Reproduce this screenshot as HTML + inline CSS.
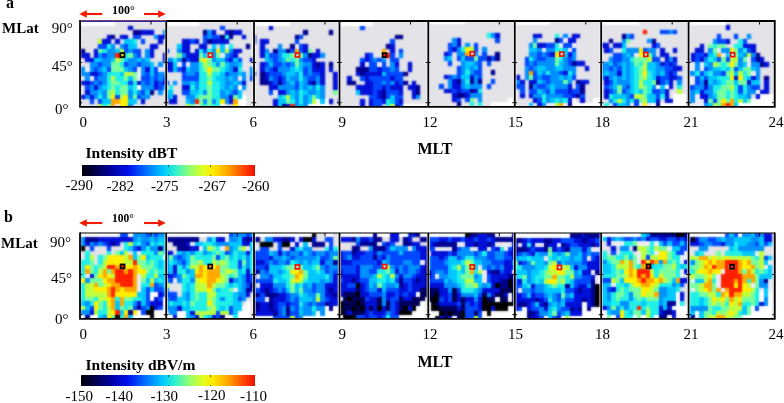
<!DOCTYPE html>
<html><head><meta charset="utf-8"><title>figure</title>
<style>
html,body{margin:0;padding:0;background:#fff;}
body{width:784px;height:403px;position:relative;overflow:hidden;font-family:"Liberation Serif","DejaVu Serif",serif;color:#000;}
.p{position:absolute;display:block;overflow:hidden}
.t{position:absolute;white-space:nowrap;line-height:1;font-size:15px}
.b{font-weight:bold}
.fr{position:absolute;border:1.4px solid #000;box-sizing:border-box}
.sep{position:absolute;width:1.4px;background:#000;border-left:0.9px solid #fff;border-right:0.9px solid #fff}
.tk{position:absolute;background:#000}
.cb{position:absolute;background:linear-gradient(90deg,#000008 0%,#00004c 8%,#0000a0 17%,#0010f0 27%,#0070ff 37%,#00c8ff 47%,#30f0d0 54%,#90ff70 62%,#e0ff20 70%,#ffe800 76%,#ffa000 85%,#ff4000 94%,#f01000 100%)}
</style></head><body>
<svg width="0" height="0" style="position:absolute"><defs><filter id="bl" x="-5%" y="-5%" width="110%" height="110%" color-interpolation-filters="sRGB"><feGaussianBlur stdDeviation="0.8"/></filter><filter id="bl2"><feGaussianBlur stdDeviation="0.3"/></filter></defs></svg>

<svg class="p" style="left:80.2px;top:21.3px" width="86.2" height="85.9" viewBox="0 0 86.2 85.9"><rect width="100%" height="100%" fill="#e3e3e8"/><g filter="url(#bl)" shape-rendering="crispEdges"><path fill="#ffffff" d="M1.0 0.0h34.4v4.6h-34.4zM56.9 64.4h4.3v4.6h-4.3z"/><path fill="#0010d8" d="M48.3 4.6h4.3v4.6h-4.3zM61.2 9.2h12.9v4.6h-12.9zM26.8 13.8h4.3v4.6h-4.3zM39.7 13.8h8.6v4.6h-8.6zM78.4 13.8h8.6v4.6h-8.6zM22.5 18.4h8.6v4.6h-8.6zM35.4 18.4h4.3v4.6h-4.3zM78.4 18.4h4.3v4.6h-4.3zM69.8 23.0h8.6v4.6h-8.6zM13.9 27.6h4.3v4.6h-4.3zM69.8 27.6h4.3v4.6h-4.3zM1.0 32.2h8.6v4.6h-8.6zM13.9 32.2h4.3v4.6h-4.3zM69.8 32.2h4.3v4.6h-4.3zM82.7 32.2h4.3v4.6h-4.3zM5.3 36.8h8.6v4.6h-8.6zM82.7 36.8h4.3v4.6h-4.3zM65.5 46.0h4.3v4.6h-4.3zM9.6 50.6h8.6v4.6h-8.6zM1.0 59.8h8.6v4.6h-8.6zM56.9 59.8h4.3v4.6h-4.3zM74.1 59.8h4.3v4.6h-4.3zM82.7 59.8h4.3v4.6h-4.3zM13.9 64.4h4.3v4.6h-4.3zM74.1 64.4h4.3v4.6h-4.3zM5.3 69.0h4.3v4.6h-4.3zM1.0 73.6h4.3v4.6h-4.3zM9.6 73.6h4.3v4.6h-4.3zM61.2 78.2h4.3v4.6h-4.3z"/><path fill="#000090" d="M52.6 9.2h8.6v4.6h-8.6zM31.1 13.8h4.3v4.6h-4.3zM1.0 27.6h4.3v4.6h-4.3zM69.8 69.0h4.3v4.6h-4.3z"/><path fill="#0090ff" d="M82.7 9.2h4.3v4.6h-4.3zM74.1 13.8h4.3v4.6h-4.3zM31.1 23.0h4.3v4.6h-4.3zM39.7 23.0h4.3v4.6h-4.3zM26.8 27.6h8.6v4.6h-8.6zM48.3 27.6h4.3v4.6h-4.3zM65.5 27.6h4.3v4.6h-4.3zM18.2 32.2h4.3v4.6h-4.3zM26.8 32.2h8.6v4.6h-8.6zM52.6 32.2h4.3v4.6h-4.3zM65.5 32.2h4.3v4.6h-4.3zM22.5 36.8h8.6v4.6h-8.6zM48.3 36.8h8.6v4.6h-8.6zM61.2 36.8h4.3v4.6h-4.3zM9.6 41.4h8.6v4.6h-8.6zM22.5 41.4h8.6v4.6h-8.6zM48.3 41.4h8.6v4.6h-8.6zM61.2 41.4h8.6v4.6h-8.6zM78.4 41.4h4.3v4.6h-4.3zM1.0 46.0h4.3v4.6h-4.3zM9.6 46.0h4.3v4.6h-4.3zM18.2 46.0h4.3v4.6h-4.3zM48.3 46.0h4.3v4.6h-4.3zM61.2 46.0h4.3v4.6h-4.3zM1.0 50.6h8.6v4.6h-8.6zM22.5 50.6h4.3v4.6h-4.3zM61.2 50.6h4.3v4.6h-4.3zM78.4 50.6h8.6v4.6h-8.6zM5.3 55.2h4.3v4.6h-4.3zM18.2 55.2h8.6v4.6h-8.6zM69.8 55.2h4.3v4.6h-4.3zM78.4 55.2h4.3v4.6h-4.3zM13.9 59.8h4.3v4.6h-4.3zM22.5 59.8h4.3v4.6h-4.3zM61.2 59.8h4.3v4.6h-4.3zM69.8 59.8h4.3v4.6h-4.3zM9.6 64.4h4.3v4.6h-4.3zM18.2 64.4h4.3v4.6h-4.3zM61.2 64.4h12.9v4.6h-12.9zM82.7 64.4h4.3v4.6h-4.3zM9.6 69.0h8.6v4.6h-8.6zM22.5 69.0h4.3v4.6h-4.3zM48.3 69.0h4.3v4.6h-4.3zM56.9 69.0h4.3v4.6h-4.3zM78.4 69.0h4.3v4.6h-4.3zM5.3 73.6h4.3v4.6h-4.3zM13.9 73.6h4.3v4.6h-4.3zM22.5 73.6h4.3v4.6h-4.3zM48.3 73.6h4.3v4.6h-4.3zM61.2 73.6h8.6v4.6h-8.6zM48.3 82.8h4.3v4.6h-4.3z"/><path fill="#0048ff" d="M52.6 13.8h8.6v4.6h-8.6zM61.2 18.4h4.3v4.6h-4.3zM18.2 23.0h8.6v4.6h-8.6zM44.0 23.0h4.3v4.6h-4.3zM44.0 27.6h4.3v4.6h-4.3zM52.6 27.6h8.6v4.6h-8.6zM22.5 32.2h4.3v4.6h-4.3zM56.9 32.2h4.3v4.6h-4.3zM18.2 41.4h4.3v4.6h-4.3zM44.0 41.4h4.3v4.6h-4.3zM56.9 41.4h4.3v4.6h-4.3zM13.9 46.0h4.3v4.6h-4.3zM26.8 46.0h4.3v4.6h-4.3zM52.6 46.0h4.3v4.6h-4.3zM74.1 46.0h4.3v4.6h-4.3zM18.2 50.6h4.3v4.6h-4.3zM65.5 50.6h4.3v4.6h-4.3zM74.1 50.6h4.3v4.6h-4.3zM13.9 55.2h4.3v4.6h-4.3zM61.2 55.2h8.6v4.6h-8.6zM74.1 55.2h4.3v4.6h-4.3zM82.7 55.2h4.3v4.6h-4.3zM9.6 59.8h4.3v4.6h-4.3zM18.2 59.8h4.3v4.6h-4.3zM48.3 59.8h4.3v4.6h-4.3zM65.5 59.8h4.3v4.6h-4.3zM78.4 59.8h4.3v4.6h-4.3zM5.3 64.4h4.3v4.6h-4.3zM78.4 64.4h4.3v4.6h-4.3zM61.2 69.0h4.3v4.6h-4.3zM35.4 73.6h4.3v4.6h-4.3zM56.9 73.6h4.3v4.6h-4.3zM9.6 78.2h4.3v4.6h-4.3zM18.2 78.2h4.3v4.6h-4.3z"/><path fill="#c0ff40" d="M18.2 18.4h4.3v4.6h-4.3zM39.7 27.6h4.3v4.6h-4.3zM35.4 36.8h4.3v4.6h-4.3zM44.0 50.6h8.6v4.6h-8.6zM31.1 55.2h4.3v4.6h-4.3zM31.1 69.0h4.3v4.6h-4.3zM39.7 73.6h4.3v4.6h-4.3zM18.2 82.8h4.3v4.6h-4.3z"/><path fill="#00c8ff" d="M44.0 18.4h8.6v4.6h-8.6zM48.3 23.0h8.6v4.6h-8.6zM35.4 27.6h4.3v4.6h-4.3zM13.9 36.8h8.6v4.6h-8.6zM31.1 36.8h4.3v4.6h-4.3zM44.0 36.8h4.3v4.6h-4.3zM56.9 36.8h4.3v4.6h-4.3zM65.5 36.8h4.3v4.6h-4.3zM69.8 41.4h4.3v4.6h-4.3zM22.5 46.0h4.3v4.6h-4.3zM44.0 46.0h4.3v4.6h-4.3zM69.8 46.0h4.3v4.6h-4.3zM39.7 50.6h4.3v4.6h-4.3zM69.8 50.6h4.3v4.6h-4.3zM48.3 55.2h4.3v4.6h-4.3zM22.5 64.4h4.3v4.6h-4.3zM48.3 64.4h4.3v4.6h-4.3zM18.2 69.0h4.3v4.6h-4.3zM65.5 69.0h4.3v4.6h-4.3zM22.5 78.2h8.6v4.6h-8.6zM48.3 78.2h8.6v4.6h-8.6z"/><path fill="#20f0e8" d="M52.6 18.4h4.3v4.6h-4.3zM26.8 23.0h4.3v4.6h-4.3zM22.5 27.6h4.3v4.6h-4.3zM44.0 32.2h4.3v4.6h-4.3zM39.7 41.4h4.3v4.6h-4.3zM26.8 50.6h12.9v4.6h-12.9zM26.8 55.2h4.3v4.6h-4.3zM35.4 55.2h8.6v4.6h-8.6zM26.8 59.8h4.3v4.6h-4.3zM39.7 59.8h8.6v4.6h-8.6zM52.6 59.8h4.3v4.6h-4.3zM26.8 64.4h4.3v4.6h-4.3zM35.4 64.4h4.3v4.6h-4.3zM52.6 64.4h4.3v4.6h-4.3zM35.4 69.0h4.3v4.6h-4.3zM52.6 69.0h4.3v4.6h-4.3zM18.2 73.6h4.3v4.6h-4.3zM22.5 82.8h4.3v4.6h-4.3z"/><path fill="#78ffa0" d="M18.2 27.6h4.3v4.6h-4.3zM48.3 32.2h4.3v4.6h-4.3zM39.7 36.8h4.3v4.6h-4.3zM31.1 41.4h8.6v4.6h-8.6zM31.1 46.0h12.9v4.6h-12.9zM52.6 50.6h4.3v4.6h-4.3zM44.0 55.2h4.3v4.6h-4.3zM52.6 55.2h4.3v4.6h-4.3zM31.1 59.8h8.6v4.6h-8.6zM31.1 64.4h4.3v4.6h-4.3zM39.7 64.4h8.6v4.6h-8.6zM26.8 69.0h4.3v4.6h-4.3zM39.7 69.0h8.6v4.6h-8.6zM26.8 73.6h4.3v4.6h-4.3zM52.6 73.6h4.3v4.6h-4.3zM26.8 82.8h4.3v4.6h-4.3z"/><path fill="#ff2000" d="M35.4 32.2h4.3v4.6h-4.3z"/><path fill="#000000" d="M39.7 32.2h4.3v4.6h-4.3z"/><path fill="#ececf6" d="M5.3 46.0h4.3v4.6h-4.3zM56.9 46.0h4.3v4.6h-4.3zM78.4 46.0h4.3v4.6h-4.3zM56.9 50.6h4.3v4.6h-4.3zM9.6 55.2h4.3v4.6h-4.3zM56.9 55.2h4.3v4.6h-4.3zM35.4 82.8h4.3v4.6h-4.3z"/><path fill="#fff000" d="M31.1 73.6h4.3v4.6h-4.3zM44.0 73.6h4.3v4.6h-4.3zM39.7 78.2h8.6v4.6h-8.6zM39.7 82.8h8.6v4.6h-8.6z"/><path fill="#ffa800" d="M31.1 78.2h8.6v4.6h-8.6zM31.1 82.8h4.3v4.6h-4.3z"/></g><g opacity="0.35" shape-rendering="crispEdges"><path fill="#ffffff" d="M1.0 0.0h34.4v4.6h-34.4zM56.9 64.4h4.3v4.6h-4.3z"/><path fill="#0010d8" d="M48.3 4.6h4.3v4.6h-4.3zM61.2 9.2h12.9v4.6h-12.9zM26.8 13.8h4.3v4.6h-4.3zM39.7 13.8h8.6v4.6h-8.6zM78.4 13.8h8.6v4.6h-8.6zM22.5 18.4h8.6v4.6h-8.6zM35.4 18.4h4.3v4.6h-4.3zM78.4 18.4h4.3v4.6h-4.3zM69.8 23.0h8.6v4.6h-8.6zM13.9 27.6h4.3v4.6h-4.3zM69.8 27.6h4.3v4.6h-4.3zM1.0 32.2h8.6v4.6h-8.6zM13.9 32.2h4.3v4.6h-4.3zM69.8 32.2h4.3v4.6h-4.3zM82.7 32.2h4.3v4.6h-4.3zM5.3 36.8h8.6v4.6h-8.6zM82.7 36.8h4.3v4.6h-4.3zM65.5 46.0h4.3v4.6h-4.3zM9.6 50.6h8.6v4.6h-8.6zM1.0 59.8h8.6v4.6h-8.6zM56.9 59.8h4.3v4.6h-4.3zM74.1 59.8h4.3v4.6h-4.3zM82.7 59.8h4.3v4.6h-4.3zM13.9 64.4h4.3v4.6h-4.3zM74.1 64.4h4.3v4.6h-4.3zM5.3 69.0h4.3v4.6h-4.3zM1.0 73.6h4.3v4.6h-4.3zM9.6 73.6h4.3v4.6h-4.3zM61.2 78.2h4.3v4.6h-4.3z"/><path fill="#000090" d="M52.6 9.2h8.6v4.6h-8.6zM31.1 13.8h4.3v4.6h-4.3zM1.0 27.6h4.3v4.6h-4.3zM69.8 69.0h4.3v4.6h-4.3z"/><path fill="#0090ff" d="M82.7 9.2h4.3v4.6h-4.3zM74.1 13.8h4.3v4.6h-4.3zM31.1 23.0h4.3v4.6h-4.3zM39.7 23.0h4.3v4.6h-4.3zM26.8 27.6h8.6v4.6h-8.6zM48.3 27.6h4.3v4.6h-4.3zM65.5 27.6h4.3v4.6h-4.3zM18.2 32.2h4.3v4.6h-4.3zM26.8 32.2h8.6v4.6h-8.6zM52.6 32.2h4.3v4.6h-4.3zM65.5 32.2h4.3v4.6h-4.3zM22.5 36.8h8.6v4.6h-8.6zM48.3 36.8h8.6v4.6h-8.6zM61.2 36.8h4.3v4.6h-4.3zM9.6 41.4h8.6v4.6h-8.6zM22.5 41.4h8.6v4.6h-8.6zM48.3 41.4h8.6v4.6h-8.6zM61.2 41.4h8.6v4.6h-8.6zM78.4 41.4h4.3v4.6h-4.3zM1.0 46.0h4.3v4.6h-4.3zM9.6 46.0h4.3v4.6h-4.3zM18.2 46.0h4.3v4.6h-4.3zM48.3 46.0h4.3v4.6h-4.3zM61.2 46.0h4.3v4.6h-4.3zM1.0 50.6h8.6v4.6h-8.6zM22.5 50.6h4.3v4.6h-4.3zM61.2 50.6h4.3v4.6h-4.3zM78.4 50.6h8.6v4.6h-8.6zM5.3 55.2h4.3v4.6h-4.3zM18.2 55.2h8.6v4.6h-8.6zM69.8 55.2h4.3v4.6h-4.3zM78.4 55.2h4.3v4.6h-4.3zM13.9 59.8h4.3v4.6h-4.3zM22.5 59.8h4.3v4.6h-4.3zM61.2 59.8h4.3v4.6h-4.3zM69.8 59.8h4.3v4.6h-4.3zM9.6 64.4h4.3v4.6h-4.3zM18.2 64.4h4.3v4.6h-4.3zM61.2 64.4h12.9v4.6h-12.9zM82.7 64.4h4.3v4.6h-4.3zM9.6 69.0h8.6v4.6h-8.6zM22.5 69.0h4.3v4.6h-4.3zM48.3 69.0h4.3v4.6h-4.3zM56.9 69.0h4.3v4.6h-4.3zM78.4 69.0h4.3v4.6h-4.3zM5.3 73.6h4.3v4.6h-4.3zM13.9 73.6h4.3v4.6h-4.3zM22.5 73.6h4.3v4.6h-4.3zM48.3 73.6h4.3v4.6h-4.3zM61.2 73.6h8.6v4.6h-8.6zM48.3 82.8h4.3v4.6h-4.3z"/><path fill="#0048ff" d="M52.6 13.8h8.6v4.6h-8.6zM61.2 18.4h4.3v4.6h-4.3zM18.2 23.0h8.6v4.6h-8.6zM44.0 23.0h4.3v4.6h-4.3zM44.0 27.6h4.3v4.6h-4.3zM52.6 27.6h8.6v4.6h-8.6zM22.5 32.2h4.3v4.6h-4.3zM56.9 32.2h4.3v4.6h-4.3zM18.2 41.4h4.3v4.6h-4.3zM44.0 41.4h4.3v4.6h-4.3zM56.9 41.4h4.3v4.6h-4.3zM13.9 46.0h4.3v4.6h-4.3zM26.8 46.0h4.3v4.6h-4.3zM52.6 46.0h4.3v4.6h-4.3zM74.1 46.0h4.3v4.6h-4.3zM18.2 50.6h4.3v4.6h-4.3zM65.5 50.6h4.3v4.6h-4.3zM74.1 50.6h4.3v4.6h-4.3zM13.9 55.2h4.3v4.6h-4.3zM61.2 55.2h8.6v4.6h-8.6zM74.1 55.2h4.3v4.6h-4.3zM82.7 55.2h4.3v4.6h-4.3zM9.6 59.8h4.3v4.6h-4.3zM18.2 59.8h4.3v4.6h-4.3zM48.3 59.8h4.3v4.6h-4.3zM65.5 59.8h4.3v4.6h-4.3zM78.4 59.8h4.3v4.6h-4.3zM5.3 64.4h4.3v4.6h-4.3zM78.4 64.4h4.3v4.6h-4.3zM61.2 69.0h4.3v4.6h-4.3zM35.4 73.6h4.3v4.6h-4.3zM56.9 73.6h4.3v4.6h-4.3zM9.6 78.2h4.3v4.6h-4.3zM18.2 78.2h4.3v4.6h-4.3z"/><path fill="#c0ff40" d="M18.2 18.4h4.3v4.6h-4.3zM39.7 27.6h4.3v4.6h-4.3zM35.4 36.8h4.3v4.6h-4.3zM44.0 50.6h8.6v4.6h-8.6zM31.1 55.2h4.3v4.6h-4.3zM31.1 69.0h4.3v4.6h-4.3zM39.7 73.6h4.3v4.6h-4.3zM18.2 82.8h4.3v4.6h-4.3z"/><path fill="#00c8ff" d="M44.0 18.4h8.6v4.6h-8.6zM48.3 23.0h8.6v4.6h-8.6zM35.4 27.6h4.3v4.6h-4.3zM13.9 36.8h8.6v4.6h-8.6zM31.1 36.8h4.3v4.6h-4.3zM44.0 36.8h4.3v4.6h-4.3zM56.9 36.8h4.3v4.6h-4.3zM65.5 36.8h4.3v4.6h-4.3zM69.8 41.4h4.3v4.6h-4.3zM22.5 46.0h4.3v4.6h-4.3zM44.0 46.0h4.3v4.6h-4.3zM69.8 46.0h4.3v4.6h-4.3zM39.7 50.6h4.3v4.6h-4.3zM69.8 50.6h4.3v4.6h-4.3zM48.3 55.2h4.3v4.6h-4.3zM22.5 64.4h4.3v4.6h-4.3zM48.3 64.4h4.3v4.6h-4.3zM18.2 69.0h4.3v4.6h-4.3zM65.5 69.0h4.3v4.6h-4.3zM22.5 78.2h8.6v4.6h-8.6zM48.3 78.2h8.6v4.6h-8.6z"/><path fill="#20f0e8" d="M52.6 18.4h4.3v4.6h-4.3zM26.8 23.0h4.3v4.6h-4.3zM22.5 27.6h4.3v4.6h-4.3zM44.0 32.2h4.3v4.6h-4.3zM39.7 41.4h4.3v4.6h-4.3zM26.8 50.6h12.9v4.6h-12.9zM26.8 55.2h4.3v4.6h-4.3zM35.4 55.2h8.6v4.6h-8.6zM26.8 59.8h4.3v4.6h-4.3zM39.7 59.8h8.6v4.6h-8.6zM52.6 59.8h4.3v4.6h-4.3zM26.8 64.4h4.3v4.6h-4.3zM35.4 64.4h4.3v4.6h-4.3zM52.6 64.4h4.3v4.6h-4.3zM35.4 69.0h4.3v4.6h-4.3zM52.6 69.0h4.3v4.6h-4.3zM18.2 73.6h4.3v4.6h-4.3zM22.5 82.8h4.3v4.6h-4.3z"/><path fill="#78ffa0" d="M18.2 27.6h4.3v4.6h-4.3zM48.3 32.2h4.3v4.6h-4.3zM39.7 36.8h4.3v4.6h-4.3zM31.1 41.4h8.6v4.6h-8.6zM31.1 46.0h12.9v4.6h-12.9zM52.6 50.6h4.3v4.6h-4.3zM44.0 55.2h4.3v4.6h-4.3zM52.6 55.2h4.3v4.6h-4.3zM31.1 59.8h8.6v4.6h-8.6zM31.1 64.4h4.3v4.6h-4.3zM39.7 64.4h8.6v4.6h-8.6zM26.8 69.0h4.3v4.6h-4.3zM39.7 69.0h8.6v4.6h-8.6zM26.8 73.6h4.3v4.6h-4.3zM52.6 73.6h4.3v4.6h-4.3zM26.8 82.8h4.3v4.6h-4.3z"/><path fill="#ff2000" d="M35.4 32.2h4.3v4.6h-4.3z"/><path fill="#000000" d="M39.7 32.2h4.3v4.6h-4.3z"/><path fill="#ececf6" d="M5.3 46.0h4.3v4.6h-4.3zM56.9 46.0h4.3v4.6h-4.3zM78.4 46.0h4.3v4.6h-4.3zM56.9 50.6h4.3v4.6h-4.3zM9.6 55.2h4.3v4.6h-4.3zM56.9 55.2h4.3v4.6h-4.3zM35.4 82.8h4.3v4.6h-4.3z"/><path fill="#fff000" d="M31.1 73.6h4.3v4.6h-4.3zM44.0 73.6h4.3v4.6h-4.3zM39.7 78.2h8.6v4.6h-8.6zM39.7 82.8h8.6v4.6h-8.6z"/><path fill="#ffa800" d="M31.1 78.2h8.6v4.6h-8.6zM31.1 82.8h4.3v4.6h-4.3z"/></g><g><rect x="40.45" y="32.10" width="4.00" height="4.00" fill="#e8e020" stroke="#000" stroke-width="1.7"/></g></svg>
<svg class="p" style="left:166.4px;top:21.3px" width="87.8" height="85.9" viewBox="0 0 87.8 85.9"><rect width="100%" height="100%" fill="#e3e3e8"/><g filter="url(#bl)" shape-rendering="crispEdges"><path fill="#ffffff" d="M-1.5 0.0h34.4v4.6h-34.4zM71.6 64.4h4.3v4.6h-4.3zM75.9 73.6h4.3v4.6h-4.3zM71.6 78.2h8.6v4.6h-8.6zM54.4 82.8h4.3v4.6h-4.3zM71.6 82.8h8.6v4.6h-8.6z"/><path fill="#0048ff" d="M54.4 4.6h4.3v4.6h-4.3zM37.2 13.8h4.3v4.6h-4.3zM45.8 13.8h8.6v4.6h-8.6zM24.3 18.4h4.3v4.6h-4.3zM37.2 18.4h4.3v4.6h-4.3zM-1.5 27.6h4.3v4.6h-4.3zM37.2 27.6h4.3v4.6h-4.3zM63.0 32.2h4.3v4.6h-4.3zM20.0 36.8h4.3v4.6h-4.3zM58.7 36.8h4.3v4.6h-4.3zM71.6 36.8h4.3v4.6h-4.3zM15.7 41.4h4.3v4.6h-4.3zM11.4 46.0h4.3v4.6h-4.3zM15.7 50.6h4.3v4.6h-4.3zM28.6 50.6h4.3v4.6h-4.3zM58.7 50.6h4.3v4.6h-4.3zM15.7 55.2h17.2v4.6h-17.2zM84.5 55.2h4.3v4.6h-4.3zM-1.5 59.8h4.3v4.6h-4.3zM15.7 69.0h8.6v4.6h-8.6zM67.3 69.0h4.3v4.6h-4.3z"/><path fill="#000090" d="M37.2 9.2h4.3v4.6h-4.3zM63.0 9.2h4.3v4.6h-4.3zM54.4 13.8h4.3v4.6h-4.3zM63.0 13.8h4.3v4.6h-4.3zM41.5 18.4h4.3v4.6h-4.3zM80.2 23.0h4.3v4.6h-4.3zM15.7 36.8h4.3v4.6h-4.3z"/><path fill="#0090ff" d="M41.5 9.2h4.3v4.6h-4.3zM41.5 13.8h4.3v4.6h-4.3zM11.4 27.6h4.3v4.6h-4.3zM45.8 27.6h4.3v4.6h-4.3zM63.0 27.6h4.3v4.6h-4.3zM15.7 32.2h4.3v4.6h-4.3zM45.8 32.2h4.3v4.6h-4.3zM58.7 32.2h4.3v4.6h-4.3zM-1.5 36.8h8.6v4.6h-8.6zM11.4 36.8h4.3v4.6h-4.3zM45.8 36.8h4.3v4.6h-4.3zM24.3 41.4h8.6v4.6h-8.6zM50.1 41.4h4.3v4.6h-4.3zM63.0 41.4h8.6v4.6h-8.6zM24.3 46.0h8.6v4.6h-8.6zM63.0 46.0h4.3v4.6h-4.3zM84.5 46.0h4.3v4.6h-4.3zM20.0 50.6h8.6v4.6h-8.6zM63.0 50.6h8.6v4.6h-8.6zM75.9 50.6h4.3v4.6h-4.3zM84.5 50.6h4.3v4.6h-4.3zM58.7 55.2h4.3v4.6h-4.3zM67.3 55.2h4.3v4.6h-4.3zM75.9 55.2h4.3v4.6h-4.3zM7.1 59.8h4.3v4.6h-4.3zM15.7 59.8h8.6v4.6h-8.6zM28.6 59.8h4.3v4.6h-4.3zM58.7 59.8h8.6v4.6h-8.6zM71.6 59.8h4.3v4.6h-4.3zM28.6 64.4h4.3v4.6h-4.3zM58.7 64.4h4.3v4.6h-4.3zM67.3 64.4h4.3v4.6h-4.3zM75.9 64.4h4.3v4.6h-4.3zM37.2 69.0h4.3v4.6h-4.3zM54.4 69.0h4.3v4.6h-4.3zM63.0 69.0h4.3v4.6h-4.3zM-1.5 73.6h4.3v4.6h-4.3zM20.0 73.6h8.6v4.6h-8.6zM54.4 73.6h8.6v4.6h-8.6zM24.3 78.2h4.3v4.6h-4.3zM37.2 78.2h4.3v4.6h-4.3zM45.8 78.2h4.3v4.6h-4.3zM58.7 78.2h4.3v4.6h-4.3z"/><path fill="#0010d8" d="M45.8 9.2h4.3v4.6h-4.3zM58.7 9.2h4.3v4.6h-4.3zM67.3 9.2h8.6v4.6h-8.6zM75.9 13.8h4.3v4.6h-4.3zM15.7 18.4h8.6v4.6h-8.6zM28.6 18.4h4.3v4.6h-4.3zM45.8 18.4h17.2v4.6h-17.2zM15.7 23.0h8.6v4.6h-8.6zM32.9 23.0h8.6v4.6h-8.6zM15.7 27.6h8.6v4.6h-8.6zM28.6 27.6h4.3v4.6h-4.3zM67.3 27.6h8.6v4.6h-8.6zM20.0 32.2h12.9v4.6h-12.9zM67.3 32.2h4.3v4.6h-4.3zM24.3 36.8h8.6v4.6h-8.6zM63.0 36.8h4.3v4.6h-4.3zM84.5 36.8h4.3v4.6h-4.3zM-1.5 41.4h8.6v4.6h-8.6zM-1.5 46.0h8.6v4.6h-8.6zM15.7 46.0h4.3v4.6h-4.3zM67.3 46.0h4.3v4.6h-4.3zM75.9 59.8h4.3v4.6h-4.3zM15.7 64.4h8.6v4.6h-8.6zM7.1 73.6h4.3v4.6h-4.3zM63.0 73.6h4.3v4.6h-4.3zM2.8 78.2h8.6v4.6h-8.6zM63.0 78.2h4.3v4.6h-4.3z"/><path fill="#20f0e8" d="M58.7 13.8h4.3v4.6h-4.3zM63.0 23.0h4.3v4.6h-4.3zM32.9 27.6h4.3v4.6h-4.3zM41.5 27.6h4.3v4.6h-4.3zM7.1 36.8h4.3v4.6h-4.3zM32.9 41.4h4.3v4.6h-4.3zM45.8 41.4h4.3v4.6h-4.3zM32.9 46.0h4.3v4.6h-4.3zM54.4 46.0h4.3v4.6h-4.3zM71.6 46.0h4.3v4.6h-4.3zM32.9 50.6h8.6v4.6h-8.6zM45.8 50.6h8.6v4.6h-8.6zM32.9 55.2h8.6v4.6h-8.6zM45.8 55.2h4.3v4.6h-4.3zM32.9 59.8h8.6v4.6h-8.6zM45.8 59.8h8.6v4.6h-8.6zM2.8 64.4h4.3v4.6h-4.3zM24.3 64.4h4.3v4.6h-4.3zM32.9 64.4h8.6v4.6h-8.6zM45.8 64.4h8.6v4.6h-8.6zM32.9 69.0h4.3v4.6h-4.3zM45.8 69.0h8.6v4.6h-8.6zM28.6 73.6h4.3v4.6h-4.3zM45.8 73.6h8.6v4.6h-8.6zM50.1 78.2h4.3v4.6h-4.3zM37.2 82.8h4.3v4.6h-4.3zM45.8 82.8h8.6v4.6h-8.6z"/><path fill="#00c8ff" d="M11.4 23.0h4.3v4.6h-4.3zM45.8 23.0h4.3v4.6h-4.3zM54.4 23.0h4.3v4.6h-4.3zM54.4 27.6h4.3v4.6h-4.3zM37.2 32.2h4.3v4.6h-4.3zM50.1 36.8h8.6v4.6h-8.6zM67.3 36.8h4.3v4.6h-4.3zM7.1 41.4h4.3v4.6h-4.3zM58.7 41.4h4.3v4.6h-4.3zM71.6 41.4h4.3v4.6h-4.3zM7.1 46.0h4.3v4.6h-4.3zM20.0 46.0h4.3v4.6h-4.3zM58.7 46.0h4.3v4.6h-4.3zM54.4 50.6h4.3v4.6h-4.3zM71.6 50.6h4.3v4.6h-4.3zM50.1 55.2h8.6v4.6h-8.6zM63.0 55.2h4.3v4.6h-4.3zM24.3 59.8h4.3v4.6h-4.3zM54.4 59.8h4.3v4.6h-4.3zM67.3 59.8h4.3v4.6h-4.3zM54.4 64.4h4.3v4.6h-4.3zM63.0 64.4h4.3v4.6h-4.3zM-1.5 69.0h8.6v4.6h-8.6zM24.3 69.0h8.6v4.6h-8.6zM58.7 69.0h4.3v4.6h-4.3zM71.6 69.0h4.3v4.6h-4.3zM2.8 73.6h4.3v4.6h-4.3zM71.6 73.6h4.3v4.6h-4.3zM20.0 78.2h4.3v4.6h-4.3z"/><path fill="#ececf6" d="M58.7 23.0h4.3v4.6h-4.3zM54.4 32.2h4.3v4.6h-4.3zM11.4 41.4h4.3v4.6h-4.3zM20.0 41.4h4.3v4.6h-4.3zM71.6 55.2h4.3v4.6h-4.3zM28.6 82.8h4.3v4.6h-4.3z"/><path fill="#fff000" d="M50.1 27.6h4.3v4.6h-4.3zM37.2 36.8h4.3v4.6h-4.3zM41.5 46.0h4.3v4.6h-4.3zM54.4 78.2h4.3v4.6h-4.3zM67.3 82.8h4.3v4.6h-4.3z"/><path fill="#c0ff40" d="M58.7 27.6h4.3v4.6h-4.3zM32.9 36.8h4.3v4.6h-4.3zM37.2 41.4h4.3v4.6h-4.3zM41.5 50.6h4.3v4.6h-4.3zM41.5 59.8h4.3v4.6h-4.3zM20.0 82.8h4.3v4.6h-4.3z"/><path fill="#78ffa0" d="M11.4 32.2h4.3v4.6h-4.3zM32.9 32.2h4.3v4.6h-4.3zM50.1 32.2h4.3v4.6h-4.3zM41.5 36.8h4.3v4.6h-4.3zM41.5 41.4h4.3v4.6h-4.3zM54.4 41.4h4.3v4.6h-4.3zM37.2 46.0h4.3v4.6h-4.3zM45.8 46.0h8.6v4.6h-8.6zM41.5 55.2h4.3v4.6h-4.3zM41.5 64.4h4.3v4.6h-4.3zM41.5 69.0h4.3v4.6h-4.3zM32.9 73.6h12.9v4.6h-12.9zM67.3 73.6h4.3v4.6h-4.3zM32.9 78.2h4.3v4.6h-4.3zM41.5 78.2h4.3v4.6h-4.3zM24.3 82.8h4.3v4.6h-4.3zM32.9 82.8h4.3v4.6h-4.3zM41.5 82.8h4.3v4.6h-4.3z"/><path fill="#ff2000" d="M28.6 78.2h4.3v4.6h-4.3z"/><path fill="#ffa800" d="M67.3 78.2h4.3v4.6h-4.3z"/></g><g opacity="0.35" shape-rendering="crispEdges"><path fill="#ffffff" d="M-1.5 0.0h34.4v4.6h-34.4zM71.6 64.4h4.3v4.6h-4.3zM75.9 73.6h4.3v4.6h-4.3zM71.6 78.2h8.6v4.6h-8.6zM54.4 82.8h4.3v4.6h-4.3zM71.6 82.8h8.6v4.6h-8.6z"/><path fill="#0048ff" d="M54.4 4.6h4.3v4.6h-4.3zM37.2 13.8h4.3v4.6h-4.3zM45.8 13.8h8.6v4.6h-8.6zM24.3 18.4h4.3v4.6h-4.3zM37.2 18.4h4.3v4.6h-4.3zM-1.5 27.6h4.3v4.6h-4.3zM37.2 27.6h4.3v4.6h-4.3zM63.0 32.2h4.3v4.6h-4.3zM20.0 36.8h4.3v4.6h-4.3zM58.7 36.8h4.3v4.6h-4.3zM71.6 36.8h4.3v4.6h-4.3zM15.7 41.4h4.3v4.6h-4.3zM11.4 46.0h4.3v4.6h-4.3zM15.7 50.6h4.3v4.6h-4.3zM28.6 50.6h4.3v4.6h-4.3zM58.7 50.6h4.3v4.6h-4.3zM15.7 55.2h17.2v4.6h-17.2zM84.5 55.2h4.3v4.6h-4.3zM-1.5 59.8h4.3v4.6h-4.3zM15.7 69.0h8.6v4.6h-8.6zM67.3 69.0h4.3v4.6h-4.3z"/><path fill="#000090" d="M37.2 9.2h4.3v4.6h-4.3zM63.0 9.2h4.3v4.6h-4.3zM54.4 13.8h4.3v4.6h-4.3zM63.0 13.8h4.3v4.6h-4.3zM41.5 18.4h4.3v4.6h-4.3zM80.2 23.0h4.3v4.6h-4.3zM15.7 36.8h4.3v4.6h-4.3z"/><path fill="#0090ff" d="M41.5 9.2h4.3v4.6h-4.3zM41.5 13.8h4.3v4.6h-4.3zM11.4 27.6h4.3v4.6h-4.3zM45.8 27.6h4.3v4.6h-4.3zM63.0 27.6h4.3v4.6h-4.3zM15.7 32.2h4.3v4.6h-4.3zM45.8 32.2h4.3v4.6h-4.3zM58.7 32.2h4.3v4.6h-4.3zM-1.5 36.8h8.6v4.6h-8.6zM11.4 36.8h4.3v4.6h-4.3zM45.8 36.8h4.3v4.6h-4.3zM24.3 41.4h8.6v4.6h-8.6zM50.1 41.4h4.3v4.6h-4.3zM63.0 41.4h8.6v4.6h-8.6zM24.3 46.0h8.6v4.6h-8.6zM63.0 46.0h4.3v4.6h-4.3zM84.5 46.0h4.3v4.6h-4.3zM20.0 50.6h8.6v4.6h-8.6zM63.0 50.6h8.6v4.6h-8.6zM75.9 50.6h4.3v4.6h-4.3zM84.5 50.6h4.3v4.6h-4.3zM58.7 55.2h4.3v4.6h-4.3zM67.3 55.2h4.3v4.6h-4.3zM75.9 55.2h4.3v4.6h-4.3zM7.1 59.8h4.3v4.6h-4.3zM15.7 59.8h8.6v4.6h-8.6zM28.6 59.8h4.3v4.6h-4.3zM58.7 59.8h8.6v4.6h-8.6zM71.6 59.8h4.3v4.6h-4.3zM28.6 64.4h4.3v4.6h-4.3zM58.7 64.4h4.3v4.6h-4.3zM67.3 64.4h4.3v4.6h-4.3zM75.9 64.4h4.3v4.6h-4.3zM37.2 69.0h4.3v4.6h-4.3zM54.4 69.0h4.3v4.6h-4.3zM63.0 69.0h4.3v4.6h-4.3zM-1.5 73.6h4.3v4.6h-4.3zM20.0 73.6h8.6v4.6h-8.6zM54.4 73.6h8.6v4.6h-8.6zM24.3 78.2h4.3v4.6h-4.3zM37.2 78.2h4.3v4.6h-4.3zM45.8 78.2h4.3v4.6h-4.3zM58.7 78.2h4.3v4.6h-4.3z"/><path fill="#0010d8" d="M45.8 9.2h4.3v4.6h-4.3zM58.7 9.2h4.3v4.6h-4.3zM67.3 9.2h8.6v4.6h-8.6zM75.9 13.8h4.3v4.6h-4.3zM15.7 18.4h8.6v4.6h-8.6zM28.6 18.4h4.3v4.6h-4.3zM45.8 18.4h17.2v4.6h-17.2zM15.7 23.0h8.6v4.6h-8.6zM32.9 23.0h8.6v4.6h-8.6zM15.7 27.6h8.6v4.6h-8.6zM28.6 27.6h4.3v4.6h-4.3zM67.3 27.6h8.6v4.6h-8.6zM20.0 32.2h12.9v4.6h-12.9zM67.3 32.2h4.3v4.6h-4.3zM24.3 36.8h8.6v4.6h-8.6zM63.0 36.8h4.3v4.6h-4.3zM84.5 36.8h4.3v4.6h-4.3zM-1.5 41.4h8.6v4.6h-8.6zM-1.5 46.0h8.6v4.6h-8.6zM15.7 46.0h4.3v4.6h-4.3zM67.3 46.0h4.3v4.6h-4.3zM75.9 59.8h4.3v4.6h-4.3zM15.7 64.4h8.6v4.6h-8.6zM7.1 73.6h4.3v4.6h-4.3zM63.0 73.6h4.3v4.6h-4.3zM2.8 78.2h8.6v4.6h-8.6zM63.0 78.2h4.3v4.6h-4.3z"/><path fill="#20f0e8" d="M58.7 13.8h4.3v4.6h-4.3zM63.0 23.0h4.3v4.6h-4.3zM32.9 27.6h4.3v4.6h-4.3zM41.5 27.6h4.3v4.6h-4.3zM7.1 36.8h4.3v4.6h-4.3zM32.9 41.4h4.3v4.6h-4.3zM45.8 41.4h4.3v4.6h-4.3zM32.9 46.0h4.3v4.6h-4.3zM54.4 46.0h4.3v4.6h-4.3zM71.6 46.0h4.3v4.6h-4.3zM32.9 50.6h8.6v4.6h-8.6zM45.8 50.6h8.6v4.6h-8.6zM32.9 55.2h8.6v4.6h-8.6zM45.8 55.2h4.3v4.6h-4.3zM32.9 59.8h8.6v4.6h-8.6zM45.8 59.8h8.6v4.6h-8.6zM2.8 64.4h4.3v4.6h-4.3zM24.3 64.4h4.3v4.6h-4.3zM32.9 64.4h8.6v4.6h-8.6zM45.8 64.4h8.6v4.6h-8.6zM32.9 69.0h4.3v4.6h-4.3zM45.8 69.0h8.6v4.6h-8.6zM28.6 73.6h4.3v4.6h-4.3zM45.8 73.6h8.6v4.6h-8.6zM50.1 78.2h4.3v4.6h-4.3zM37.2 82.8h4.3v4.6h-4.3zM45.8 82.8h8.6v4.6h-8.6z"/><path fill="#00c8ff" d="M11.4 23.0h4.3v4.6h-4.3zM45.8 23.0h4.3v4.6h-4.3zM54.4 23.0h4.3v4.6h-4.3zM54.4 27.6h4.3v4.6h-4.3zM37.2 32.2h4.3v4.6h-4.3zM50.1 36.8h8.6v4.6h-8.6zM67.3 36.8h4.3v4.6h-4.3zM7.1 41.4h4.3v4.6h-4.3zM58.7 41.4h4.3v4.6h-4.3zM71.6 41.4h4.3v4.6h-4.3zM7.1 46.0h4.3v4.6h-4.3zM20.0 46.0h4.3v4.6h-4.3zM58.7 46.0h4.3v4.6h-4.3zM54.4 50.6h4.3v4.6h-4.3zM71.6 50.6h4.3v4.6h-4.3zM50.1 55.2h8.6v4.6h-8.6zM63.0 55.2h4.3v4.6h-4.3zM24.3 59.8h4.3v4.6h-4.3zM54.4 59.8h4.3v4.6h-4.3zM67.3 59.8h4.3v4.6h-4.3zM54.4 64.4h4.3v4.6h-4.3zM63.0 64.4h4.3v4.6h-4.3zM-1.5 69.0h8.6v4.6h-8.6zM24.3 69.0h8.6v4.6h-8.6zM58.7 69.0h4.3v4.6h-4.3zM71.6 69.0h4.3v4.6h-4.3zM2.8 73.6h4.3v4.6h-4.3zM71.6 73.6h4.3v4.6h-4.3zM20.0 78.2h4.3v4.6h-4.3z"/><path fill="#ececf6" d="M58.7 23.0h4.3v4.6h-4.3zM54.4 32.2h4.3v4.6h-4.3zM11.4 41.4h4.3v4.6h-4.3zM20.0 41.4h4.3v4.6h-4.3zM71.6 55.2h4.3v4.6h-4.3zM28.6 82.8h4.3v4.6h-4.3z"/><path fill="#fff000" d="M50.1 27.6h4.3v4.6h-4.3zM37.2 36.8h4.3v4.6h-4.3zM41.5 46.0h4.3v4.6h-4.3zM54.4 78.2h4.3v4.6h-4.3zM67.3 82.8h4.3v4.6h-4.3z"/><path fill="#c0ff40" d="M58.7 27.6h4.3v4.6h-4.3zM32.9 36.8h4.3v4.6h-4.3zM37.2 41.4h4.3v4.6h-4.3zM41.5 50.6h4.3v4.6h-4.3zM41.5 59.8h4.3v4.6h-4.3zM20.0 82.8h4.3v4.6h-4.3z"/><path fill="#78ffa0" d="M11.4 32.2h4.3v4.6h-4.3zM32.9 32.2h4.3v4.6h-4.3zM50.1 32.2h4.3v4.6h-4.3zM41.5 36.8h4.3v4.6h-4.3zM41.5 41.4h4.3v4.6h-4.3zM54.4 41.4h4.3v4.6h-4.3zM37.2 46.0h4.3v4.6h-4.3zM45.8 46.0h8.6v4.6h-8.6zM41.5 55.2h4.3v4.6h-4.3zM41.5 64.4h4.3v4.6h-4.3zM41.5 69.0h4.3v4.6h-4.3zM32.9 73.6h12.9v4.6h-12.9zM67.3 73.6h4.3v4.6h-4.3zM32.9 78.2h4.3v4.6h-4.3zM41.5 78.2h4.3v4.6h-4.3zM24.3 82.8h4.3v4.6h-4.3zM32.9 82.8h4.3v4.6h-4.3zM41.5 82.8h4.3v4.6h-4.3z"/><path fill="#ff2000" d="M28.6 78.2h4.3v4.6h-4.3z"/><path fill="#ffa800" d="M67.3 78.2h4.3v4.6h-4.3z"/></g><g><rect x="42.25" y="32.10" width="4.00" height="4.00" fill="#b0e8e0" stroke="#f01000" stroke-width="1.7"/></g></svg>
<svg class="p" style="left:254.2px;top:21.3px" width="85.5" height="85.9" viewBox="0 0 85.5 85.9"><rect width="100%" height="100%" fill="#e3e3e8"/><g filter="url(#bl)" shape-rendering="crispEdges"><path fill="#ffffff" d="M-2.3 0.0h38.7v4.6h-38.7zM62.2 78.2h4.3v4.6h-4.3zM70.8 78.2h4.3v4.6h-4.3zM53.6 82.8h21.5v4.6h-21.5z"/><path fill="#0010d8" d="M14.9 4.6h4.3v4.6h-4.3zM-2.3 13.8h4.3v4.6h-4.3zM-2.3 18.4h4.3v4.6h-4.3zM6.3 18.4h8.6v4.6h-8.6zM6.3 23.0h4.3v4.6h-4.3zM49.3 23.0h4.3v4.6h-4.3zM6.3 27.6h4.3v4.6h-4.3zM49.3 27.6h4.3v4.6h-4.3zM62.2 27.6h4.3v4.6h-4.3zM6.3 32.2h4.3v4.6h-4.3zM57.9 32.2h8.6v4.6h-8.6zM57.9 36.8h4.3v4.6h-4.3zM6.3 41.4h4.3v4.6h-4.3zM57.9 41.4h4.3v4.6h-4.3zM66.5 41.4h4.3v4.6h-4.3zM6.3 46.0h4.3v4.6h-4.3zM19.2 46.0h4.3v4.6h-4.3zM57.9 46.0h12.9v4.6h-12.9zM75.1 46.0h4.3v4.6h-4.3zM-2.3 50.6h4.3v4.6h-4.3zM10.6 50.6h4.3v4.6h-4.3zM66.5 50.6h4.3v4.6h-4.3zM79.4 50.6h4.3v4.6h-4.3zM10.6 55.2h4.3v4.6h-4.3zM23.5 55.2h4.3v4.6h-4.3zM66.5 55.2h4.3v4.6h-4.3zM79.4 55.2h4.3v4.6h-4.3zM14.9 59.8h4.3v4.6h-4.3zM53.6 59.8h4.3v4.6h-4.3zM66.5 59.8h4.3v4.6h-4.3zM79.4 59.8h4.3v4.6h-4.3zM14.9 64.4h8.6v4.6h-8.6zM79.4 64.4h4.3v4.6h-4.3zM23.5 69.0h8.6v4.6h-8.6zM19.2 78.2h4.3v4.6h-4.3zM75.1 78.2h4.3v4.6h-4.3zM83.7 78.2h4.3v4.6h-4.3zM19.2 82.8h4.3v4.6h-4.3zM32.1 82.8h4.3v4.6h-4.3z"/><path fill="#000090" d="M49.3 9.2h4.3v4.6h-4.3zM75.1 9.2h4.3v4.6h-4.3zM40.7 13.8h4.3v4.6h-4.3zM36.4 23.0h4.3v4.6h-4.3zM19.2 27.6h4.3v4.6h-4.3zM32.1 27.6h4.3v4.6h-4.3zM53.6 32.2h4.3v4.6h-4.3zM62.2 41.4h4.3v4.6h-4.3zM75.1 41.4h4.3v4.6h-4.3zM6.3 50.6h4.3v4.6h-4.3zM6.3 55.2h4.3v4.6h-4.3zM6.3 59.8h8.6v4.6h-8.6zM23.5 59.8h4.3v4.6h-4.3zM57.9 59.8h4.3v4.6h-4.3zM27.8 82.8h4.3v4.6h-4.3z"/><path fill="#0048ff" d="M45.0 13.8h4.3v4.6h-4.3zM40.7 18.4h4.3v4.6h-4.3zM45.0 23.0h4.3v4.6h-4.3zM36.4 27.6h4.3v4.6h-4.3zM45.0 27.6h4.3v4.6h-4.3zM14.9 32.2h8.6v4.6h-8.6zM19.2 36.8h4.3v4.6h-4.3zM49.3 36.8h8.6v4.6h-8.6zM10.6 41.4h4.3v4.6h-4.3zM19.2 41.4h8.6v4.6h-8.6zM32.1 41.4h4.3v4.6h-4.3zM14.9 46.0h4.3v4.6h-4.3zM49.3 46.0h4.3v4.6h-4.3zM14.9 50.6h12.9v4.6h-12.9zM49.3 50.6h4.3v4.6h-4.3zM57.9 50.6h8.6v4.6h-8.6zM19.2 55.2h4.3v4.6h-4.3zM27.8 55.2h4.3v4.6h-4.3zM53.6 55.2h8.6v4.6h-8.6zM19.2 59.8h4.3v4.6h-4.3zM27.8 59.8h4.3v4.6h-4.3zM40.7 59.8h4.3v4.6h-4.3zM40.7 64.4h4.3v4.6h-4.3zM14.9 69.0h4.3v4.6h-4.3z"/><path fill="#0090ff" d="M23.5 23.0h4.3v4.6h-4.3zM10.6 27.6h4.3v4.6h-4.3zM23.5 27.6h8.6v4.6h-8.6zM23.5 32.2h4.3v4.6h-4.3zM49.3 32.2h4.3v4.6h-4.3zM66.5 32.2h4.3v4.6h-4.3zM14.9 36.8h4.3v4.6h-4.3zM23.5 36.8h4.3v4.6h-4.3zM45.0 36.8h4.3v4.6h-4.3zM27.8 41.4h4.3v4.6h-4.3zM36.4 41.4h4.3v4.6h-4.3zM49.3 41.4h8.6v4.6h-8.6zM10.6 46.0h4.3v4.6h-4.3zM23.5 46.0h12.9v4.6h-12.9zM53.6 46.0h4.3v4.6h-4.3zM27.8 50.6h4.3v4.6h-4.3zM40.7 50.6h4.3v4.6h-4.3zM53.6 50.6h4.3v4.6h-4.3zM14.9 55.2h4.3v4.6h-4.3zM36.4 55.2h8.6v4.6h-8.6zM49.3 55.2h4.3v4.6h-4.3zM62.2 55.2h4.3v4.6h-4.3zM32.1 59.8h4.3v4.6h-4.3zM49.3 59.8h4.3v4.6h-4.3zM62.2 59.8h4.3v4.6h-4.3zM23.5 64.4h17.2v4.6h-17.2zM49.3 64.4h4.3v4.6h-4.3zM57.9 64.4h4.3v4.6h-4.3zM66.5 64.4h4.3v4.6h-4.3zM32.1 69.0h4.3v4.6h-4.3zM40.7 69.0h4.3v4.6h-4.3zM53.6 69.0h8.6v4.6h-8.6zM66.5 69.0h4.3v4.6h-4.3zM40.7 73.6h4.3v4.6h-4.3zM49.3 73.6h4.3v4.6h-4.3zM66.5 73.6h4.3v4.6h-4.3zM40.7 78.2h4.3v4.6h-4.3zM49.3 78.2h4.3v4.6h-4.3zM40.7 82.8h4.3v4.6h-4.3zM49.3 82.8h4.3v4.6h-4.3z"/><path fill="#ececf6" d="M40.7 23.0h4.3v4.6h-4.3zM19.2 69.0h4.3v4.6h-4.3z"/><path fill="#ffa800" d="M40.7 27.6h4.3v4.6h-4.3z"/><path fill="#78ffa0" d="M53.6 27.6h4.3v4.6h-4.3zM36.4 32.2h4.3v4.6h-4.3zM45.0 32.2h4.3v4.6h-4.3zM32.1 36.8h4.3v4.6h-4.3zM40.7 36.8h4.3v4.6h-4.3zM40.7 41.4h4.3v4.6h-4.3zM79.4 69.0h4.3v4.6h-4.3zM57.9 73.6h4.3v4.6h-4.3zM32.1 78.2h4.3v4.6h-4.3z"/><path fill="#00c8ff" d="M10.6 32.2h4.3v4.6h-4.3zM10.6 36.8h4.3v4.6h-4.3zM27.8 36.8h4.3v4.6h-4.3zM14.9 41.4h4.3v4.6h-4.3zM45.0 41.4h4.3v4.6h-4.3zM36.4 46.0h4.3v4.6h-4.3zM45.0 46.0h4.3v4.6h-4.3zM32.1 50.6h8.6v4.6h-8.6zM32.1 55.2h4.3v4.6h-4.3zM36.4 59.8h4.3v4.6h-4.3zM45.0 59.8h4.3v4.6h-4.3zM45.0 64.4h4.3v4.6h-4.3zM53.6 64.4h4.3v4.6h-4.3zM36.4 69.0h4.3v4.6h-4.3zM49.3 69.0h4.3v4.6h-4.3zM62.2 69.0h4.3v4.6h-4.3zM23.5 73.6h4.3v4.6h-4.3zM36.4 73.6h4.3v4.6h-4.3zM53.6 73.6h4.3v4.6h-4.3zM62.2 73.6h4.3v4.6h-4.3zM23.5 78.2h8.6v4.6h-8.6zM53.6 78.2h4.3v4.6h-4.3zM66.5 78.2h4.3v4.6h-4.3zM23.5 82.8h4.3v4.6h-4.3zM45.0 82.8h4.3v4.6h-4.3z"/><path fill="#20f0e8" d="M27.8 32.2h8.6v4.6h-8.6zM36.4 36.8h4.3v4.6h-4.3zM40.7 46.0h4.3v4.6h-4.3zM45.0 50.6h4.3v4.6h-4.3zM45.0 55.2h4.3v4.6h-4.3zM62.2 64.4h4.3v4.6h-4.3zM45.0 69.0h4.3v4.6h-4.3zM27.8 73.6h4.3v4.6h-4.3zM45.0 73.6h4.3v4.6h-4.3zM36.4 78.2h4.3v4.6h-4.3zM45.0 78.2h4.3v4.6h-4.3z"/><path fill="#c0ff40" d="M32.1 73.6h4.3v4.6h-4.3zM57.9 78.2h4.3v4.6h-4.3z"/><path fill="#ff2000" d="M36.4 82.8h4.3v4.6h-4.3z"/></g><g opacity="0.35" shape-rendering="crispEdges"><path fill="#ffffff" d="M-2.3 0.0h38.7v4.6h-38.7zM62.2 78.2h4.3v4.6h-4.3zM70.8 78.2h4.3v4.6h-4.3zM53.6 82.8h21.5v4.6h-21.5z"/><path fill="#0010d8" d="M14.9 4.6h4.3v4.6h-4.3zM-2.3 13.8h4.3v4.6h-4.3zM-2.3 18.4h4.3v4.6h-4.3zM6.3 18.4h8.6v4.6h-8.6zM6.3 23.0h4.3v4.6h-4.3zM49.3 23.0h4.3v4.6h-4.3zM6.3 27.6h4.3v4.6h-4.3zM49.3 27.6h4.3v4.6h-4.3zM62.2 27.6h4.3v4.6h-4.3zM6.3 32.2h4.3v4.6h-4.3zM57.9 32.2h8.6v4.6h-8.6zM57.9 36.8h4.3v4.6h-4.3zM6.3 41.4h4.3v4.6h-4.3zM57.9 41.4h4.3v4.6h-4.3zM66.5 41.4h4.3v4.6h-4.3zM6.3 46.0h4.3v4.6h-4.3zM19.2 46.0h4.3v4.6h-4.3zM57.9 46.0h12.9v4.6h-12.9zM75.1 46.0h4.3v4.6h-4.3zM-2.3 50.6h4.3v4.6h-4.3zM10.6 50.6h4.3v4.6h-4.3zM66.5 50.6h4.3v4.6h-4.3zM79.4 50.6h4.3v4.6h-4.3zM10.6 55.2h4.3v4.6h-4.3zM23.5 55.2h4.3v4.6h-4.3zM66.5 55.2h4.3v4.6h-4.3zM79.4 55.2h4.3v4.6h-4.3zM14.9 59.8h4.3v4.6h-4.3zM53.6 59.8h4.3v4.6h-4.3zM66.5 59.8h4.3v4.6h-4.3zM79.4 59.8h4.3v4.6h-4.3zM14.9 64.4h8.6v4.6h-8.6zM79.4 64.4h4.3v4.6h-4.3zM23.5 69.0h8.6v4.6h-8.6zM19.2 78.2h4.3v4.6h-4.3zM75.1 78.2h4.3v4.6h-4.3zM83.7 78.2h4.3v4.6h-4.3zM19.2 82.8h4.3v4.6h-4.3zM32.1 82.8h4.3v4.6h-4.3z"/><path fill="#000090" d="M49.3 9.2h4.3v4.6h-4.3zM75.1 9.2h4.3v4.6h-4.3zM40.7 13.8h4.3v4.6h-4.3zM36.4 23.0h4.3v4.6h-4.3zM19.2 27.6h4.3v4.6h-4.3zM32.1 27.6h4.3v4.6h-4.3zM53.6 32.2h4.3v4.6h-4.3zM62.2 41.4h4.3v4.6h-4.3zM75.1 41.4h4.3v4.6h-4.3zM6.3 50.6h4.3v4.6h-4.3zM6.3 55.2h4.3v4.6h-4.3zM6.3 59.8h8.6v4.6h-8.6zM23.5 59.8h4.3v4.6h-4.3zM57.9 59.8h4.3v4.6h-4.3zM27.8 82.8h4.3v4.6h-4.3z"/><path fill="#0048ff" d="M45.0 13.8h4.3v4.6h-4.3zM40.7 18.4h4.3v4.6h-4.3zM45.0 23.0h4.3v4.6h-4.3zM36.4 27.6h4.3v4.6h-4.3zM45.0 27.6h4.3v4.6h-4.3zM14.9 32.2h8.6v4.6h-8.6zM19.2 36.8h4.3v4.6h-4.3zM49.3 36.8h8.6v4.6h-8.6zM10.6 41.4h4.3v4.6h-4.3zM19.2 41.4h8.6v4.6h-8.6zM32.1 41.4h4.3v4.6h-4.3zM14.9 46.0h4.3v4.6h-4.3zM49.3 46.0h4.3v4.6h-4.3zM14.9 50.6h12.9v4.6h-12.9zM49.3 50.6h4.3v4.6h-4.3zM57.9 50.6h8.6v4.6h-8.6zM19.2 55.2h4.3v4.6h-4.3zM27.8 55.2h4.3v4.6h-4.3zM53.6 55.2h8.6v4.6h-8.6zM19.2 59.8h4.3v4.6h-4.3zM27.8 59.8h4.3v4.6h-4.3zM40.7 59.8h4.3v4.6h-4.3zM40.7 64.4h4.3v4.6h-4.3zM14.9 69.0h4.3v4.6h-4.3z"/><path fill="#0090ff" d="M23.5 23.0h4.3v4.6h-4.3zM10.6 27.6h4.3v4.6h-4.3zM23.5 27.6h8.6v4.6h-8.6zM23.5 32.2h4.3v4.6h-4.3zM49.3 32.2h4.3v4.6h-4.3zM66.5 32.2h4.3v4.6h-4.3zM14.9 36.8h4.3v4.6h-4.3zM23.5 36.8h4.3v4.6h-4.3zM45.0 36.8h4.3v4.6h-4.3zM27.8 41.4h4.3v4.6h-4.3zM36.4 41.4h4.3v4.6h-4.3zM49.3 41.4h8.6v4.6h-8.6zM10.6 46.0h4.3v4.6h-4.3zM23.5 46.0h12.9v4.6h-12.9zM53.6 46.0h4.3v4.6h-4.3zM27.8 50.6h4.3v4.6h-4.3zM40.7 50.6h4.3v4.6h-4.3zM53.6 50.6h4.3v4.6h-4.3zM14.9 55.2h4.3v4.6h-4.3zM36.4 55.2h8.6v4.6h-8.6zM49.3 55.2h4.3v4.6h-4.3zM62.2 55.2h4.3v4.6h-4.3zM32.1 59.8h4.3v4.6h-4.3zM49.3 59.8h4.3v4.6h-4.3zM62.2 59.8h4.3v4.6h-4.3zM23.5 64.4h17.2v4.6h-17.2zM49.3 64.4h4.3v4.6h-4.3zM57.9 64.4h4.3v4.6h-4.3zM66.5 64.4h4.3v4.6h-4.3zM32.1 69.0h4.3v4.6h-4.3zM40.7 69.0h4.3v4.6h-4.3zM53.6 69.0h8.6v4.6h-8.6zM66.5 69.0h4.3v4.6h-4.3zM40.7 73.6h4.3v4.6h-4.3zM49.3 73.6h4.3v4.6h-4.3zM66.5 73.6h4.3v4.6h-4.3zM40.7 78.2h4.3v4.6h-4.3zM49.3 78.2h4.3v4.6h-4.3zM40.7 82.8h4.3v4.6h-4.3zM49.3 82.8h4.3v4.6h-4.3z"/><path fill="#ececf6" d="M40.7 23.0h4.3v4.6h-4.3zM19.2 69.0h4.3v4.6h-4.3z"/><path fill="#ffa800" d="M40.7 27.6h4.3v4.6h-4.3z"/><path fill="#78ffa0" d="M53.6 27.6h4.3v4.6h-4.3zM36.4 32.2h4.3v4.6h-4.3zM45.0 32.2h4.3v4.6h-4.3zM32.1 36.8h4.3v4.6h-4.3zM40.7 36.8h4.3v4.6h-4.3zM40.7 41.4h4.3v4.6h-4.3zM79.4 69.0h4.3v4.6h-4.3zM57.9 73.6h4.3v4.6h-4.3zM32.1 78.2h4.3v4.6h-4.3z"/><path fill="#00c8ff" d="M10.6 32.2h4.3v4.6h-4.3zM10.6 36.8h4.3v4.6h-4.3zM27.8 36.8h4.3v4.6h-4.3zM14.9 41.4h4.3v4.6h-4.3zM45.0 41.4h4.3v4.6h-4.3zM36.4 46.0h4.3v4.6h-4.3zM45.0 46.0h4.3v4.6h-4.3zM32.1 50.6h8.6v4.6h-8.6zM32.1 55.2h4.3v4.6h-4.3zM36.4 59.8h4.3v4.6h-4.3zM45.0 59.8h4.3v4.6h-4.3zM45.0 64.4h4.3v4.6h-4.3zM53.6 64.4h4.3v4.6h-4.3zM36.4 69.0h4.3v4.6h-4.3zM49.3 69.0h4.3v4.6h-4.3zM62.2 69.0h4.3v4.6h-4.3zM23.5 73.6h4.3v4.6h-4.3zM36.4 73.6h4.3v4.6h-4.3zM53.6 73.6h4.3v4.6h-4.3zM62.2 73.6h4.3v4.6h-4.3zM23.5 78.2h8.6v4.6h-8.6zM53.6 78.2h4.3v4.6h-4.3zM66.5 78.2h4.3v4.6h-4.3zM23.5 82.8h4.3v4.6h-4.3zM45.0 82.8h4.3v4.6h-4.3z"/><path fill="#20f0e8" d="M27.8 32.2h8.6v4.6h-8.6zM36.4 36.8h4.3v4.6h-4.3zM40.7 46.0h4.3v4.6h-4.3zM45.0 50.6h4.3v4.6h-4.3zM45.0 55.2h4.3v4.6h-4.3zM62.2 64.4h4.3v4.6h-4.3zM45.0 69.0h4.3v4.6h-4.3zM27.8 73.6h4.3v4.6h-4.3zM45.0 73.6h4.3v4.6h-4.3zM36.4 78.2h4.3v4.6h-4.3zM45.0 78.2h4.3v4.6h-4.3z"/><path fill="#c0ff40" d="M32.1 73.6h4.3v4.6h-4.3zM57.9 78.2h4.3v4.6h-4.3z"/><path fill="#ff2000" d="M36.4 82.8h4.3v4.6h-4.3z"/></g><g><rect x="41.45" y="32.10" width="4.00" height="4.00" fill="#b0e8e0" stroke="#f01000" stroke-width="1.7"/></g></svg>
<svg class="p" style="left:339.7px;top:21.3px" width="88.8" height="85.9" viewBox="0 0 88.8 85.9"><rect width="100%" height="100%" fill="#e3e3e8"/><g filter="url(#bl)" shape-rendering="crispEdges"><path fill="#ffffff" d="M-1.2 0.0h34.4v4.6h-34.4zM63.3 82.8h21.5v4.6h-21.5z"/><path fill="#0048ff" d="M20.3 4.6h4.3v4.6h-4.3zM50.4 18.4h4.3v4.6h-4.3zM59.0 27.6h4.3v4.6h-4.3zM28.9 32.2h4.3v4.6h-4.3zM50.4 32.2h4.3v4.6h-4.3zM20.3 36.8h4.3v4.6h-4.3zM28.9 36.8h4.3v4.6h-4.3zM37.5 36.8h4.3v4.6h-4.3zM50.4 36.8h8.6v4.6h-8.6zM28.9 41.4h8.6v4.6h-8.6zM41.8 41.4h4.3v4.6h-4.3zM28.9 46.0h8.6v4.6h-8.6zM41.8 46.0h8.6v4.6h-8.6zM54.7 46.0h4.3v4.6h-4.3zM46.1 50.6h17.2v4.6h-17.2zM20.3 55.2h4.3v4.6h-4.3zM28.9 55.2h21.5v4.6h-21.5zM54.7 55.2h8.6v4.6h-8.6zM33.2 59.8h8.6v4.6h-8.6zM46.1 59.8h4.3v4.6h-4.3zM59.0 59.8h4.3v4.6h-4.3zM33.2 64.4h8.6v4.6h-8.6zM46.1 64.4h4.3v4.6h-4.3zM33.2 69.0h4.3v4.6h-4.3zM46.1 69.0h12.9v4.6h-12.9zM28.9 73.6h8.6v4.6h-8.6zM46.1 73.6h4.3v4.6h-4.3zM54.7 73.6h8.6v4.6h-8.6zM33.2 78.2h8.6v4.6h-8.6zM54.7 78.2h4.3v4.6h-4.3zM33.2 82.8h8.6v4.6h-8.6zM59.0 82.8h4.3v4.6h-4.3z"/><path fill="#000090" d="M54.7 13.8h8.6v4.6h-8.6zM46.1 23.0h4.3v4.6h-4.3zM16.0 46.0h12.9v4.6h-12.9zM20.3 50.6h4.3v4.6h-4.3zM63.3 50.6h4.3v4.6h-4.3zM7.4 59.8h8.6v4.6h-8.6zM63.3 59.8h4.3v4.6h-4.3zM76.2 64.4h4.3v4.6h-4.3zM41.8 69.0h4.3v4.6h-4.3zM76.2 69.0h4.3v4.6h-4.3zM41.8 73.6h4.3v4.6h-4.3z"/><path fill="#0010d8" d="M50.4 23.0h4.3v4.6h-4.3zM50.4 27.6h4.3v4.6h-4.3zM24.6 32.2h4.3v4.6h-4.3zM24.6 36.8h4.3v4.6h-4.3zM20.3 41.4h4.3v4.6h-4.3zM54.7 41.4h4.3v4.6h-4.3zM67.6 41.4h4.3v4.6h-4.3zM37.5 46.0h4.3v4.6h-4.3zM67.6 46.0h4.3v4.6h-4.3zM16.0 50.6h4.3v4.6h-4.3zM24.6 50.6h17.2v4.6h-17.2zM7.4 55.2h4.3v4.6h-4.3zM24.6 55.2h4.3v4.6h-4.3zM50.4 55.2h4.3v4.6h-4.3zM24.6 59.8h8.6v4.6h-8.6zM54.7 59.8h4.3v4.6h-4.3zM71.9 59.8h4.3v4.6h-4.3zM16.0 64.4h17.2v4.6h-17.2zM41.8 64.4h4.3v4.6h-4.3zM50.4 64.4h12.9v4.6h-12.9zM67.6 64.4h8.6v4.6h-8.6zM20.3 69.0h12.9v4.6h-12.9zM37.5 69.0h4.3v4.6h-4.3zM59.0 69.0h4.3v4.6h-4.3zM71.9 69.0h4.3v4.6h-4.3zM37.5 73.6h4.3v4.6h-4.3zM71.9 73.6h4.3v4.6h-4.3zM20.3 78.2h4.3v4.6h-4.3zM28.9 78.2h4.3v4.6h-4.3zM41.8 78.2h4.3v4.6h-4.3zM59.0 78.2h4.3v4.6h-4.3zM20.3 82.8h4.3v4.6h-4.3zM28.9 82.8h4.3v4.6h-4.3zM54.7 82.8h4.3v4.6h-4.3z"/><path fill="#ffa800" d="M41.8 27.6h4.3v4.6h-4.3z"/><path fill="#ff2000" d="M46.1 32.2h4.3v4.6h-4.3z"/><path fill="#0090ff" d="M59.0 32.2h4.3v4.6h-4.3zM33.2 36.8h4.3v4.6h-4.3zM41.8 36.8h4.3v4.6h-4.3zM50.4 41.4h4.3v4.6h-4.3zM50.4 46.0h4.3v4.6h-4.3zM41.8 59.8h4.3v4.6h-4.3zM50.4 59.8h4.3v4.6h-4.3zM76.2 73.6h4.3v4.6h-4.3z"/><path fill="#ececf6" d="M24.6 41.4h4.3v4.6h-4.3zM37.5 41.4h4.3v4.6h-4.3z"/><path fill="#00c8ff" d="M41.8 50.6h4.3v4.6h-4.3zM16.0 69.0h4.3v4.6h-4.3zM50.4 73.6h4.3v4.6h-4.3zM50.4 78.2h4.3v4.6h-4.3z"/><path fill="#20f0e8" d="M46.1 78.2h4.3v4.6h-4.3zM46.1 82.8h4.3v4.6h-4.3z"/><path fill="#c0ff40" d="M50.4 82.8h4.3v4.6h-4.3z"/></g><g opacity="0.35" shape-rendering="crispEdges"><path fill="#ffffff" d="M-1.2 0.0h34.4v4.6h-34.4zM63.3 82.8h21.5v4.6h-21.5z"/><path fill="#0048ff" d="M20.3 4.6h4.3v4.6h-4.3zM50.4 18.4h4.3v4.6h-4.3zM59.0 27.6h4.3v4.6h-4.3zM28.9 32.2h4.3v4.6h-4.3zM50.4 32.2h4.3v4.6h-4.3zM20.3 36.8h4.3v4.6h-4.3zM28.9 36.8h4.3v4.6h-4.3zM37.5 36.8h4.3v4.6h-4.3zM50.4 36.8h8.6v4.6h-8.6zM28.9 41.4h8.6v4.6h-8.6zM41.8 41.4h4.3v4.6h-4.3zM28.9 46.0h8.6v4.6h-8.6zM41.8 46.0h8.6v4.6h-8.6zM54.7 46.0h4.3v4.6h-4.3zM46.1 50.6h17.2v4.6h-17.2zM20.3 55.2h4.3v4.6h-4.3zM28.9 55.2h21.5v4.6h-21.5zM54.7 55.2h8.6v4.6h-8.6zM33.2 59.8h8.6v4.6h-8.6zM46.1 59.8h4.3v4.6h-4.3zM59.0 59.8h4.3v4.6h-4.3zM33.2 64.4h8.6v4.6h-8.6zM46.1 64.4h4.3v4.6h-4.3zM33.2 69.0h4.3v4.6h-4.3zM46.1 69.0h12.9v4.6h-12.9zM28.9 73.6h8.6v4.6h-8.6zM46.1 73.6h4.3v4.6h-4.3zM54.7 73.6h8.6v4.6h-8.6zM33.2 78.2h8.6v4.6h-8.6zM54.7 78.2h4.3v4.6h-4.3zM33.2 82.8h8.6v4.6h-8.6zM59.0 82.8h4.3v4.6h-4.3z"/><path fill="#000090" d="M54.7 13.8h8.6v4.6h-8.6zM46.1 23.0h4.3v4.6h-4.3zM16.0 46.0h12.9v4.6h-12.9zM20.3 50.6h4.3v4.6h-4.3zM63.3 50.6h4.3v4.6h-4.3zM7.4 59.8h8.6v4.6h-8.6zM63.3 59.8h4.3v4.6h-4.3zM76.2 64.4h4.3v4.6h-4.3zM41.8 69.0h4.3v4.6h-4.3zM76.2 69.0h4.3v4.6h-4.3zM41.8 73.6h4.3v4.6h-4.3z"/><path fill="#0010d8" d="M50.4 23.0h4.3v4.6h-4.3zM50.4 27.6h4.3v4.6h-4.3zM24.6 32.2h4.3v4.6h-4.3zM24.6 36.8h4.3v4.6h-4.3zM20.3 41.4h4.3v4.6h-4.3zM54.7 41.4h4.3v4.6h-4.3zM67.6 41.4h4.3v4.6h-4.3zM37.5 46.0h4.3v4.6h-4.3zM67.6 46.0h4.3v4.6h-4.3zM16.0 50.6h4.3v4.6h-4.3zM24.6 50.6h17.2v4.6h-17.2zM7.4 55.2h4.3v4.6h-4.3zM24.6 55.2h4.3v4.6h-4.3zM50.4 55.2h4.3v4.6h-4.3zM24.6 59.8h8.6v4.6h-8.6zM54.7 59.8h4.3v4.6h-4.3zM71.9 59.8h4.3v4.6h-4.3zM16.0 64.4h17.2v4.6h-17.2zM41.8 64.4h4.3v4.6h-4.3zM50.4 64.4h12.9v4.6h-12.9zM67.6 64.4h8.6v4.6h-8.6zM20.3 69.0h12.9v4.6h-12.9zM37.5 69.0h4.3v4.6h-4.3zM59.0 69.0h4.3v4.6h-4.3zM71.9 69.0h4.3v4.6h-4.3zM37.5 73.6h4.3v4.6h-4.3zM71.9 73.6h4.3v4.6h-4.3zM20.3 78.2h4.3v4.6h-4.3zM28.9 78.2h4.3v4.6h-4.3zM41.8 78.2h4.3v4.6h-4.3zM59.0 78.2h4.3v4.6h-4.3zM20.3 82.8h4.3v4.6h-4.3zM28.9 82.8h4.3v4.6h-4.3zM54.7 82.8h4.3v4.6h-4.3z"/><path fill="#ffa800" d="M41.8 27.6h4.3v4.6h-4.3z"/><path fill="#ff2000" d="M46.1 32.2h4.3v4.6h-4.3z"/><path fill="#0090ff" d="M59.0 32.2h4.3v4.6h-4.3zM33.2 36.8h4.3v4.6h-4.3zM41.8 36.8h4.3v4.6h-4.3zM50.4 41.4h4.3v4.6h-4.3zM50.4 46.0h4.3v4.6h-4.3zM41.8 59.8h4.3v4.6h-4.3zM50.4 59.8h4.3v4.6h-4.3zM76.2 73.6h4.3v4.6h-4.3z"/><path fill="#ececf6" d="M24.6 41.4h4.3v4.6h-4.3zM37.5 41.4h4.3v4.6h-4.3z"/><path fill="#00c8ff" d="M41.8 50.6h4.3v4.6h-4.3zM16.0 69.0h4.3v4.6h-4.3zM50.4 73.6h4.3v4.6h-4.3zM50.4 78.2h4.3v4.6h-4.3z"/><path fill="#20f0e8" d="M46.1 78.2h4.3v4.6h-4.3zM46.1 82.8h4.3v4.6h-4.3z"/><path fill="#c0ff40" d="M50.4 82.8h4.3v4.6h-4.3z"/></g><g><rect x="42.55" y="32.10" width="4.00" height="4.00" fill="#e01000" stroke="#000" stroke-width="1.7"/></g></svg>
<svg class="p" style="left:428.5px;top:21.3px" width="86.5" height="85.9" viewBox="0 0 86.5 85.9"><rect width="100%" height="100%" fill="#e3e3e8"/><g filter="url(#bl)" shape-rendering="crispEdges"><path fill="#ffffff" d="M-2.5 -1.4h38.7v4.6h-38.7zM79.2 76.8h8.6v4.6h-8.6zM62.0 81.4h25.8v4.6h-25.8z"/><path fill="#20f0e8" d="M57.7 12.4h4.3v4.6h-4.3zM31.9 26.2h4.3v4.6h-4.3zM36.2 49.2h4.3v4.6h-4.3zM36.2 58.4h4.3v4.6h-4.3zM49.1 67.6h4.3v4.6h-4.3zM40.5 81.4h4.3v4.6h-4.3zM49.1 81.4h4.3v4.6h-4.3z"/><path fill="#0090ff" d="M62.0 12.4h4.3v4.6h-4.3zM23.3 17.0h4.3v4.6h-4.3zM23.3 21.6h4.3v4.6h-4.3zM36.2 21.6h4.3v4.6h-4.3zM27.6 26.2h4.3v4.6h-4.3zM53.4 26.2h4.3v4.6h-4.3zM27.6 30.8h8.6v4.6h-8.6zM44.8 30.8h4.3v4.6h-4.3zM14.7 35.4h4.3v4.6h-4.3zM31.9 40.0h4.3v4.6h-4.3zM44.8 40.0h4.3v4.6h-4.3zM31.9 44.6h4.3v4.6h-4.3zM40.5 44.6h4.3v4.6h-4.3zM31.9 49.2h4.3v4.6h-4.3zM40.5 49.2h4.3v4.6h-4.3zM23.3 53.8h4.3v4.6h-4.3zM44.8 53.8h4.3v4.6h-4.3zM19.0 58.4h4.3v4.6h-4.3zM31.9 58.4h4.3v4.6h-4.3zM44.8 58.4h4.3v4.6h-4.3zM19.0 63.0h4.3v4.6h-4.3zM31.9 63.0h4.3v4.6h-4.3zM40.5 63.0h12.9v4.6h-12.9zM40.5 72.2h12.9v4.6h-12.9zM49.1 76.8h4.3v4.6h-4.3z"/><path fill="#0010d8" d="M66.3 12.4h4.3v4.6h-4.3zM27.6 17.0h4.3v4.6h-4.3zM27.6 21.6h4.3v4.6h-4.3zM23.3 26.2h4.3v4.6h-4.3zM14.7 30.8h4.3v4.6h-4.3zM14.7 53.8h4.3v4.6h-4.3zM40.5 53.8h4.3v4.6h-4.3zM23.3 58.4h4.3v4.6h-4.3zM23.3 63.0h8.6v4.6h-8.6zM14.7 67.6h8.6v4.6h-8.6zM27.6 67.6h4.3v4.6h-4.3zM44.8 67.6h4.3v4.6h-4.3zM23.3 72.2h4.3v4.6h-4.3zM36.2 72.2h4.3v4.6h-4.3zM23.3 76.8h4.3v4.6h-4.3z"/><path fill="#0048ff" d="M66.3 17.0h4.3v4.6h-4.3zM19.0 21.6h4.3v4.6h-4.3zM44.8 21.6h4.3v4.6h-4.3zM19.0 26.2h4.3v4.6h-4.3zM44.8 26.2h4.3v4.6h-4.3zM19.0 30.8h4.3v4.6h-4.3zM53.4 30.8h4.3v4.6h-4.3zM27.6 35.4h4.3v4.6h-4.3zM36.2 35.4h8.6v4.6h-8.6zM49.1 35.4h8.6v4.6h-8.6zM62.0 35.4h4.3v4.6h-4.3zM19.0 40.0h4.3v4.6h-4.3zM49.1 40.0h4.3v4.6h-4.3zM57.7 40.0h4.3v4.6h-4.3zM27.6 44.6h4.3v4.6h-4.3zM49.1 44.6h4.3v4.6h-4.3zM27.6 49.2h4.3v4.6h-4.3zM44.8 49.2h8.6v4.6h-8.6zM19.0 53.8h4.3v4.6h-4.3zM27.6 53.8h4.3v4.6h-4.3zM49.1 53.8h4.3v4.6h-4.3zM62.0 58.4h4.3v4.6h-4.3zM10.4 63.0h4.3v4.6h-4.3zM57.7 63.0h4.3v4.6h-4.3zM23.3 67.6h4.3v4.6h-4.3zM31.9 67.6h8.6v4.6h-8.6zM27.6 76.8h4.3v4.6h-4.3zM36.2 76.8h4.3v4.6h-4.3z"/><path fill="#fff000" d="M36.2 26.2h4.3v4.6h-4.3z"/><path fill="#c0ff40" d="M40.5 26.2h4.3v4.6h-4.3z"/><path fill="#ffa800" d="M36.2 30.8h4.3v4.6h-4.3z"/><path fill="#000090" d="M66.3 30.8h4.3v4.6h-4.3zM57.7 35.4h4.3v4.6h-4.3zM66.3 35.4h4.3v4.6h-4.3zM62.0 49.2h4.3v4.6h-4.3zM27.6 58.4h4.3v4.6h-4.3zM40.5 58.4h4.3v4.6h-4.3zM49.1 58.4h4.3v4.6h-4.3zM40.5 67.6h4.3v4.6h-4.3zM27.6 72.2h8.6v4.6h-8.6zM27.6 81.4h4.3v4.6h-4.3z"/><path fill="#00c8ff" d="M19.0 35.4h4.3v4.6h-4.3zM31.9 35.4h4.3v4.6h-4.3zM36.2 40.0h8.6v4.6h-8.6zM36.2 44.6h4.3v4.6h-4.3zM44.8 44.6h4.3v4.6h-4.3zM31.9 53.8h8.6v4.6h-8.6zM36.2 63.0h4.3v4.6h-4.3z"/><path fill="#78ffa0" d="M44.8 35.4h4.3v4.6h-4.3zM40.5 76.8h4.3v4.6h-4.3z"/></g><g opacity="0.35" shape-rendering="crispEdges"><path fill="#ffffff" d="M-2.5 -1.4h38.7v4.6h-38.7zM79.2 76.8h8.6v4.6h-8.6zM62.0 81.4h25.8v4.6h-25.8z"/><path fill="#20f0e8" d="M57.7 12.4h4.3v4.6h-4.3zM31.9 26.2h4.3v4.6h-4.3zM36.2 49.2h4.3v4.6h-4.3zM36.2 58.4h4.3v4.6h-4.3zM49.1 67.6h4.3v4.6h-4.3zM40.5 81.4h4.3v4.6h-4.3zM49.1 81.4h4.3v4.6h-4.3z"/><path fill="#0090ff" d="M62.0 12.4h4.3v4.6h-4.3zM23.3 17.0h4.3v4.6h-4.3zM23.3 21.6h4.3v4.6h-4.3zM36.2 21.6h4.3v4.6h-4.3zM27.6 26.2h4.3v4.6h-4.3zM53.4 26.2h4.3v4.6h-4.3zM27.6 30.8h8.6v4.6h-8.6zM44.8 30.8h4.3v4.6h-4.3zM14.7 35.4h4.3v4.6h-4.3zM31.9 40.0h4.3v4.6h-4.3zM44.8 40.0h4.3v4.6h-4.3zM31.9 44.6h4.3v4.6h-4.3zM40.5 44.6h4.3v4.6h-4.3zM31.9 49.2h4.3v4.6h-4.3zM40.5 49.2h4.3v4.6h-4.3zM23.3 53.8h4.3v4.6h-4.3zM44.8 53.8h4.3v4.6h-4.3zM19.0 58.4h4.3v4.6h-4.3zM31.9 58.4h4.3v4.6h-4.3zM44.8 58.4h4.3v4.6h-4.3zM19.0 63.0h4.3v4.6h-4.3zM31.9 63.0h4.3v4.6h-4.3zM40.5 63.0h12.9v4.6h-12.9zM40.5 72.2h12.9v4.6h-12.9zM49.1 76.8h4.3v4.6h-4.3z"/><path fill="#0010d8" d="M66.3 12.4h4.3v4.6h-4.3zM27.6 17.0h4.3v4.6h-4.3zM27.6 21.6h4.3v4.6h-4.3zM23.3 26.2h4.3v4.6h-4.3zM14.7 30.8h4.3v4.6h-4.3zM14.7 53.8h4.3v4.6h-4.3zM40.5 53.8h4.3v4.6h-4.3zM23.3 58.4h4.3v4.6h-4.3zM23.3 63.0h8.6v4.6h-8.6zM14.7 67.6h8.6v4.6h-8.6zM27.6 67.6h4.3v4.6h-4.3zM44.8 67.6h4.3v4.6h-4.3zM23.3 72.2h4.3v4.6h-4.3zM36.2 72.2h4.3v4.6h-4.3zM23.3 76.8h4.3v4.6h-4.3z"/><path fill="#0048ff" d="M66.3 17.0h4.3v4.6h-4.3zM19.0 21.6h4.3v4.6h-4.3zM44.8 21.6h4.3v4.6h-4.3zM19.0 26.2h4.3v4.6h-4.3zM44.8 26.2h4.3v4.6h-4.3zM19.0 30.8h4.3v4.6h-4.3zM53.4 30.8h4.3v4.6h-4.3zM27.6 35.4h4.3v4.6h-4.3zM36.2 35.4h8.6v4.6h-8.6zM49.1 35.4h8.6v4.6h-8.6zM62.0 35.4h4.3v4.6h-4.3zM19.0 40.0h4.3v4.6h-4.3zM49.1 40.0h4.3v4.6h-4.3zM57.7 40.0h4.3v4.6h-4.3zM27.6 44.6h4.3v4.6h-4.3zM49.1 44.6h4.3v4.6h-4.3zM27.6 49.2h4.3v4.6h-4.3zM44.8 49.2h8.6v4.6h-8.6zM19.0 53.8h4.3v4.6h-4.3zM27.6 53.8h4.3v4.6h-4.3zM49.1 53.8h4.3v4.6h-4.3zM62.0 58.4h4.3v4.6h-4.3zM10.4 63.0h4.3v4.6h-4.3zM57.7 63.0h4.3v4.6h-4.3zM23.3 67.6h4.3v4.6h-4.3zM31.9 67.6h8.6v4.6h-8.6zM27.6 76.8h4.3v4.6h-4.3zM36.2 76.8h4.3v4.6h-4.3z"/><path fill="#fff000" d="M36.2 26.2h4.3v4.6h-4.3z"/><path fill="#c0ff40" d="M40.5 26.2h4.3v4.6h-4.3z"/><path fill="#ffa800" d="M36.2 30.8h4.3v4.6h-4.3z"/><path fill="#000090" d="M66.3 30.8h4.3v4.6h-4.3zM57.7 35.4h4.3v4.6h-4.3zM66.3 35.4h4.3v4.6h-4.3zM62.0 49.2h4.3v4.6h-4.3zM27.6 58.4h4.3v4.6h-4.3zM40.5 58.4h4.3v4.6h-4.3zM49.1 58.4h4.3v4.6h-4.3zM40.5 67.6h4.3v4.6h-4.3zM27.6 72.2h8.6v4.6h-8.6zM27.6 81.4h4.3v4.6h-4.3z"/><path fill="#00c8ff" d="M19.0 35.4h4.3v4.6h-4.3zM31.9 35.4h4.3v4.6h-4.3zM36.2 40.0h8.6v4.6h-8.6zM36.2 44.6h4.3v4.6h-4.3zM44.8 44.6h4.3v4.6h-4.3zM31.9 53.8h8.6v4.6h-8.6zM36.2 63.0h4.3v4.6h-4.3z"/><path fill="#78ffa0" d="M44.8 35.4h4.3v4.6h-4.3zM40.5 76.8h4.3v4.6h-4.3z"/></g><g><rect x="41.25" y="30.70" width="4.00" height="4.00" fill="#b0e8e0" stroke="#f01000" stroke-width="1.7"/></g></svg>
<svg class="p" style="left:515.0px;top:21.3px" width="86.4" height="85.9" viewBox="0 0 86.4 85.9"><rect width="100%" height="100%" fill="#e3e3e8"/><g filter="url(#bl)" shape-rendering="crispEdges"><path fill="#ffffff" d="M1.0 -1.0h34.4v4.6h-34.4zM56.9 77.2h4.3v4.6h-4.3zM78.4 77.2h8.6v4.6h-8.6zM56.9 81.8h30.1v4.6h-30.1z"/><path fill="#0010d8" d="M18.2 12.8h8.6v4.6h-8.6zM56.9 12.8h8.6v4.6h-8.6zM52.6 17.4h8.6v4.6h-8.6zM22.5 22.0h8.6v4.6h-8.6zM35.4 31.2h4.3v4.6h-4.3zM52.6 31.2h4.3v4.6h-4.3zM61.2 40.4h8.6v4.6h-8.6zM69.8 45.0h4.3v4.6h-4.3zM48.3 49.6h4.3v4.6h-4.3zM1.0 54.2h4.3v4.6h-4.3zM5.3 58.8h4.3v4.6h-4.3zM13.9 58.8h8.6v4.6h-8.6zM65.5 58.8h8.6v4.6h-8.6zM52.6 63.4h4.3v4.6h-4.3zM52.6 68.0h4.3v4.6h-4.3zM5.3 72.6h4.3v4.6h-4.3zM13.9 72.6h4.3v4.6h-4.3zM56.9 72.6h4.3v4.6h-4.3zM18.2 77.2h4.3v4.6h-4.3zM52.6 77.2h4.3v4.6h-4.3zM65.5 77.2h4.3v4.6h-4.3zM22.5 81.8h4.3v4.6h-4.3z"/><path fill="#20f0e8" d="M39.7 12.8h4.3v4.6h-4.3zM39.7 22.0h4.3v4.6h-4.3zM39.7 26.6h8.6v4.6h-8.6zM13.9 35.8h4.3v4.6h-4.3zM44.0 35.8h4.3v4.6h-4.3zM31.1 49.6h4.3v4.6h-4.3zM52.6 49.6h4.3v4.6h-4.3zM26.8 72.6h4.3v4.6h-4.3zM26.8 77.2h4.3v4.6h-4.3zM39.7 77.2h4.3v4.6h-4.3zM48.3 77.2h4.3v4.6h-4.3z"/><path fill="#0090ff" d="M48.3 12.8h4.3v4.6h-4.3zM18.2 17.4h4.3v4.6h-4.3zM13.9 22.0h4.3v4.6h-4.3zM22.5 26.6h4.3v4.6h-4.3zM31.1 26.6h8.6v4.6h-8.6zM13.9 31.2h8.6v4.6h-8.6zM26.8 31.2h4.3v4.6h-4.3zM56.9 31.2h4.3v4.6h-4.3zM18.2 35.8h4.3v4.6h-4.3zM31.1 35.8h8.6v4.6h-8.6zM48.3 35.8h4.3v4.6h-4.3zM56.9 35.8h4.3v4.6h-4.3zM13.9 40.4h4.3v4.6h-4.3zM22.5 40.4h17.2v4.6h-17.2zM48.3 40.4h4.3v4.6h-4.3zM9.6 45.0h4.3v4.6h-4.3zM18.2 45.0h4.3v4.6h-4.3zM31.1 45.0h8.6v4.6h-8.6zM48.3 45.0h12.9v4.6h-12.9zM9.6 49.6h4.3v4.6h-4.3zM26.8 49.6h4.3v4.6h-4.3zM35.4 49.6h8.6v4.6h-8.6zM56.9 49.6h4.3v4.6h-4.3zM9.6 54.2h4.3v4.6h-4.3zM22.5 54.2h4.3v4.6h-4.3zM35.4 54.2h8.6v4.6h-8.6zM48.3 54.2h4.3v4.6h-4.3zM1.0 58.8h4.3v4.6h-4.3zM26.8 58.8h4.3v4.6h-4.3zM35.4 58.8h12.9v4.6h-12.9zM52.6 58.8h4.3v4.6h-4.3zM18.2 63.4h4.3v4.6h-4.3zM31.1 63.4h4.3v4.6h-4.3zM39.7 63.4h12.9v4.6h-12.9zM26.8 68.0h4.3v4.6h-4.3zM18.2 72.6h8.6v4.6h-8.6zM31.1 72.6h17.2v4.6h-17.2zM31.1 77.2h4.3v4.6h-4.3zM26.8 81.8h4.3v4.6h-4.3z"/><path fill="#000090" d="M39.7 17.4h4.3v4.6h-4.3zM56.9 40.4h4.3v4.6h-4.3zM61.2 58.8h4.3v4.6h-4.3zM13.9 63.4h4.3v4.6h-4.3zM65.5 63.4h4.3v4.6h-4.3zM65.5 68.0h4.3v4.6h-4.3zM61.2 72.6h4.3v4.6h-4.3zM52.6 81.8h4.3v4.6h-4.3z"/><path fill="#0048ff" d="M44.0 17.4h4.3v4.6h-4.3zM31.1 22.0h8.6v4.6h-8.6zM48.3 22.0h8.6v4.6h-8.6zM56.9 26.6h4.3v4.6h-4.3zM22.5 31.2h4.3v4.6h-4.3zM31.1 31.2h4.3v4.6h-4.3zM9.6 35.8h4.3v4.6h-4.3zM22.5 35.8h8.6v4.6h-8.6zM52.6 35.8h4.3v4.6h-4.3zM9.6 40.4h4.3v4.6h-4.3zM18.2 40.4h4.3v4.6h-4.3zM52.6 40.4h4.3v4.6h-4.3zM13.9 45.0h4.3v4.6h-4.3zM18.2 49.6h4.3v4.6h-4.3zM44.0 49.6h4.3v4.6h-4.3zM18.2 54.2h4.3v4.6h-4.3zM26.8 54.2h8.6v4.6h-8.6zM56.9 54.2h4.3v4.6h-4.3zM31.1 58.8h4.3v4.6h-4.3zM1.0 63.4h8.6v4.6h-8.6zM22.5 63.4h8.6v4.6h-8.6zM61.2 63.4h4.3v4.6h-4.3zM5.3 68.0h4.3v4.6h-4.3zM13.9 68.0h8.6v4.6h-8.6zM31.1 68.0h4.3v4.6h-4.3zM39.7 68.0h12.9v4.6h-12.9zM56.9 68.0h8.6v4.6h-8.6zM48.3 72.6h8.6v4.6h-8.6zM65.5 72.6h4.3v4.6h-4.3zM22.5 77.2h4.3v4.6h-4.3z"/><path fill="#ececf6" d="M48.3 17.4h4.3v4.6h-4.3zM44.0 22.0h4.3v4.6h-4.3zM56.9 22.0h4.3v4.6h-4.3zM26.8 26.6h4.3v4.6h-4.3zM52.6 26.6h4.3v4.6h-4.3zM9.6 81.8h4.3v4.6h-4.3zM18.2 81.8h4.3v4.6h-4.3zM31.1 81.8h8.6v4.6h-8.6zM48.3 81.8h4.3v4.6h-4.3z"/><path fill="#78ffa0" d="M18.2 22.0h4.3v4.6h-4.3zM39.7 35.8h4.3v4.6h-4.3zM39.7 40.4h4.3v4.6h-4.3zM13.9 54.2h4.3v4.6h-4.3zM48.3 58.8h4.3v4.6h-4.3z"/><path fill="#00c8ff" d="M13.9 26.6h8.6v4.6h-8.6zM48.3 26.6h4.3v4.6h-4.3zM48.3 31.2h4.3v4.6h-4.3zM44.0 40.4h4.3v4.6h-4.3zM22.5 45.0h8.6v4.6h-8.6zM39.7 45.0h8.6v4.6h-8.6zM22.5 49.6h4.3v4.6h-4.3zM44.0 54.2h4.3v4.6h-4.3zM52.6 54.2h4.3v4.6h-4.3zM22.5 58.8h4.3v4.6h-4.3zM35.4 63.4h4.3v4.6h-4.3zM22.5 68.0h4.3v4.6h-4.3zM35.4 68.0h4.3v4.6h-4.3zM35.4 77.2h4.3v4.6h-4.3zM44.0 77.2h4.3v4.6h-4.3zM13.9 81.8h4.3v4.6h-4.3z"/><path fill="#fff000" d="M39.7 31.2h4.3v4.6h-4.3z"/><path fill="#ffa800" d="M13.9 49.6h4.3v4.6h-4.3zM44.0 81.8h4.3v4.6h-4.3z"/><path fill="#c0ff40" d="M39.7 81.8h4.3v4.6h-4.3z"/></g><g opacity="0.35" shape-rendering="crispEdges"><path fill="#ffffff" d="M1.0 -1.0h34.4v4.6h-34.4zM56.9 77.2h4.3v4.6h-4.3zM78.4 77.2h8.6v4.6h-8.6zM56.9 81.8h30.1v4.6h-30.1z"/><path fill="#0010d8" d="M18.2 12.8h8.6v4.6h-8.6zM56.9 12.8h8.6v4.6h-8.6zM52.6 17.4h8.6v4.6h-8.6zM22.5 22.0h8.6v4.6h-8.6zM35.4 31.2h4.3v4.6h-4.3zM52.6 31.2h4.3v4.6h-4.3zM61.2 40.4h8.6v4.6h-8.6zM69.8 45.0h4.3v4.6h-4.3zM48.3 49.6h4.3v4.6h-4.3zM1.0 54.2h4.3v4.6h-4.3zM5.3 58.8h4.3v4.6h-4.3zM13.9 58.8h8.6v4.6h-8.6zM65.5 58.8h8.6v4.6h-8.6zM52.6 63.4h4.3v4.6h-4.3zM52.6 68.0h4.3v4.6h-4.3zM5.3 72.6h4.3v4.6h-4.3zM13.9 72.6h4.3v4.6h-4.3zM56.9 72.6h4.3v4.6h-4.3zM18.2 77.2h4.3v4.6h-4.3zM52.6 77.2h4.3v4.6h-4.3zM65.5 77.2h4.3v4.6h-4.3zM22.5 81.8h4.3v4.6h-4.3z"/><path fill="#20f0e8" d="M39.7 12.8h4.3v4.6h-4.3zM39.7 22.0h4.3v4.6h-4.3zM39.7 26.6h8.6v4.6h-8.6zM13.9 35.8h4.3v4.6h-4.3zM44.0 35.8h4.3v4.6h-4.3zM31.1 49.6h4.3v4.6h-4.3zM52.6 49.6h4.3v4.6h-4.3zM26.8 72.6h4.3v4.6h-4.3zM26.8 77.2h4.3v4.6h-4.3zM39.7 77.2h4.3v4.6h-4.3zM48.3 77.2h4.3v4.6h-4.3z"/><path fill="#0090ff" d="M48.3 12.8h4.3v4.6h-4.3zM18.2 17.4h4.3v4.6h-4.3zM13.9 22.0h4.3v4.6h-4.3zM22.5 26.6h4.3v4.6h-4.3zM31.1 26.6h8.6v4.6h-8.6zM13.9 31.2h8.6v4.6h-8.6zM26.8 31.2h4.3v4.6h-4.3zM56.9 31.2h4.3v4.6h-4.3zM18.2 35.8h4.3v4.6h-4.3zM31.1 35.8h8.6v4.6h-8.6zM48.3 35.8h4.3v4.6h-4.3zM56.9 35.8h4.3v4.6h-4.3zM13.9 40.4h4.3v4.6h-4.3zM22.5 40.4h17.2v4.6h-17.2zM48.3 40.4h4.3v4.6h-4.3zM9.6 45.0h4.3v4.6h-4.3zM18.2 45.0h4.3v4.6h-4.3zM31.1 45.0h8.6v4.6h-8.6zM48.3 45.0h12.9v4.6h-12.9zM9.6 49.6h4.3v4.6h-4.3zM26.8 49.6h4.3v4.6h-4.3zM35.4 49.6h8.6v4.6h-8.6zM56.9 49.6h4.3v4.6h-4.3zM9.6 54.2h4.3v4.6h-4.3zM22.5 54.2h4.3v4.6h-4.3zM35.4 54.2h8.6v4.6h-8.6zM48.3 54.2h4.3v4.6h-4.3zM1.0 58.8h4.3v4.6h-4.3zM26.8 58.8h4.3v4.6h-4.3zM35.4 58.8h12.9v4.6h-12.9zM52.6 58.8h4.3v4.6h-4.3zM18.2 63.4h4.3v4.6h-4.3zM31.1 63.4h4.3v4.6h-4.3zM39.7 63.4h12.9v4.6h-12.9zM26.8 68.0h4.3v4.6h-4.3zM18.2 72.6h8.6v4.6h-8.6zM31.1 72.6h17.2v4.6h-17.2zM31.1 77.2h4.3v4.6h-4.3zM26.8 81.8h4.3v4.6h-4.3z"/><path fill="#000090" d="M39.7 17.4h4.3v4.6h-4.3zM56.9 40.4h4.3v4.6h-4.3zM61.2 58.8h4.3v4.6h-4.3zM13.9 63.4h4.3v4.6h-4.3zM65.5 63.4h4.3v4.6h-4.3zM65.5 68.0h4.3v4.6h-4.3zM61.2 72.6h4.3v4.6h-4.3zM52.6 81.8h4.3v4.6h-4.3z"/><path fill="#0048ff" d="M44.0 17.4h4.3v4.6h-4.3zM31.1 22.0h8.6v4.6h-8.6zM48.3 22.0h8.6v4.6h-8.6zM56.9 26.6h4.3v4.6h-4.3zM22.5 31.2h4.3v4.6h-4.3zM31.1 31.2h4.3v4.6h-4.3zM9.6 35.8h4.3v4.6h-4.3zM22.5 35.8h8.6v4.6h-8.6zM52.6 35.8h4.3v4.6h-4.3zM9.6 40.4h4.3v4.6h-4.3zM18.2 40.4h4.3v4.6h-4.3zM52.6 40.4h4.3v4.6h-4.3zM13.9 45.0h4.3v4.6h-4.3zM18.2 49.6h4.3v4.6h-4.3zM44.0 49.6h4.3v4.6h-4.3zM18.2 54.2h4.3v4.6h-4.3zM26.8 54.2h8.6v4.6h-8.6zM56.9 54.2h4.3v4.6h-4.3zM31.1 58.8h4.3v4.6h-4.3zM1.0 63.4h8.6v4.6h-8.6zM22.5 63.4h8.6v4.6h-8.6zM61.2 63.4h4.3v4.6h-4.3zM5.3 68.0h4.3v4.6h-4.3zM13.9 68.0h8.6v4.6h-8.6zM31.1 68.0h4.3v4.6h-4.3zM39.7 68.0h12.9v4.6h-12.9zM56.9 68.0h8.6v4.6h-8.6zM48.3 72.6h8.6v4.6h-8.6zM65.5 72.6h4.3v4.6h-4.3zM22.5 77.2h4.3v4.6h-4.3z"/><path fill="#ececf6" d="M48.3 17.4h4.3v4.6h-4.3zM44.0 22.0h4.3v4.6h-4.3zM56.9 22.0h4.3v4.6h-4.3zM26.8 26.6h4.3v4.6h-4.3zM52.6 26.6h4.3v4.6h-4.3zM9.6 81.8h4.3v4.6h-4.3zM18.2 81.8h4.3v4.6h-4.3zM31.1 81.8h8.6v4.6h-8.6zM48.3 81.8h4.3v4.6h-4.3z"/><path fill="#78ffa0" d="M18.2 22.0h4.3v4.6h-4.3zM39.7 35.8h4.3v4.6h-4.3zM39.7 40.4h4.3v4.6h-4.3zM13.9 54.2h4.3v4.6h-4.3zM48.3 58.8h4.3v4.6h-4.3z"/><path fill="#00c8ff" d="M13.9 26.6h8.6v4.6h-8.6zM48.3 26.6h4.3v4.6h-4.3zM48.3 31.2h4.3v4.6h-4.3zM44.0 40.4h4.3v4.6h-4.3zM22.5 45.0h8.6v4.6h-8.6zM39.7 45.0h8.6v4.6h-8.6zM22.5 49.6h4.3v4.6h-4.3zM44.0 54.2h4.3v4.6h-4.3zM52.6 54.2h4.3v4.6h-4.3zM22.5 58.8h4.3v4.6h-4.3zM35.4 63.4h4.3v4.6h-4.3zM22.5 68.0h4.3v4.6h-4.3zM35.4 68.0h4.3v4.6h-4.3zM35.4 77.2h4.3v4.6h-4.3zM44.0 77.2h4.3v4.6h-4.3zM13.9 81.8h4.3v4.6h-4.3z"/><path fill="#fff000" d="M39.7 31.2h4.3v4.6h-4.3z"/><path fill="#ffa800" d="M13.9 49.6h4.3v4.6h-4.3zM44.0 81.8h4.3v4.6h-4.3z"/><path fill="#c0ff40" d="M39.7 81.8h4.3v4.6h-4.3z"/></g><g><rect x="44.75" y="31.10" width="4.00" height="4.00" fill="#b0e8e0" stroke="#f01000" stroke-width="1.7"/></g></svg>
<svg class="p" style="left:601.4px;top:21.3px" width="87.4" height="85.9" viewBox="0 0 87.4 85.9"><rect width="100%" height="100%" fill="#e3e3e8"/><g filter="url(#bl)" shape-rendering="crispEdges"><path fill="#ffffff" d="M-0.9 -0.6h38.7v4.6h-38.7zM55.0 63.8h4.3v4.6h-4.3zM63.6 63.8h4.3v4.6h-4.3zM72.2 73.0h12.9v4.6h-12.9zM72.2 77.6h12.9v4.6h-12.9zM50.7 82.2h4.3v4.6h-4.3zM59.3 82.2h25.8v4.6h-25.8z"/><path fill="#ff2000" d="M42.1 8.6h4.3v4.6h-4.3z"/><path fill="#0048ff" d="M59.3 8.6h8.6v4.6h-8.6zM72.2 8.6h4.3v4.6h-4.3zM29.2 13.2h4.3v4.6h-4.3zM55.0 22.4h4.3v4.6h-4.3zM7.7 27.0h4.3v4.6h-4.3zM42.1 27.0h4.3v4.6h-4.3zM12.0 31.6h8.6v4.6h-8.6zM12.0 36.2h8.6v4.6h-8.6zM50.7 36.2h8.6v4.6h-8.6zM12.0 40.8h4.3v4.6h-4.3zM63.6 40.8h4.3v4.6h-4.3zM72.2 40.8h4.3v4.6h-4.3zM7.7 45.4h4.3v4.6h-4.3zM16.3 45.4h4.3v4.6h-4.3zM63.6 45.4h8.6v4.6h-8.6zM63.6 50.0h4.3v4.6h-4.3zM72.2 50.0h4.3v4.6h-4.3zM59.3 54.6h8.6v4.6h-8.6zM76.5 54.6h4.3v4.6h-4.3zM7.7 59.2h4.3v4.6h-4.3zM59.3 59.2h4.3v4.6h-4.3zM3.4 63.8h4.3v4.6h-4.3zM24.9 63.8h4.3v4.6h-4.3zM7.7 68.4h4.3v4.6h-4.3zM20.6 68.4h4.3v4.6h-4.3zM50.7 68.4h8.6v4.6h-8.6zM29.2 73.0h4.3v4.6h-4.3zM55.0 73.0h4.3v4.6h-4.3zM33.5 77.6h4.3v4.6h-4.3zM12.0 82.2h4.3v4.6h-4.3zM33.5 82.2h4.3v4.6h-4.3z"/><path fill="#0090ff" d="M67.9 8.6h4.3v4.6h-4.3zM24.9 13.2h4.3v4.6h-4.3zM20.6 17.8h4.3v4.6h-4.3zM46.4 17.8h4.3v4.6h-4.3zM24.9 27.0h12.9v4.6h-12.9zM46.4 27.0h8.6v4.6h-8.6zM20.6 31.6h4.3v4.6h-4.3zM29.2 31.6h4.3v4.6h-4.3zM50.7 31.6h4.3v4.6h-4.3zM7.7 36.2h4.3v4.6h-4.3zM20.6 36.2h8.6v4.6h-8.6zM67.9 36.2h4.3v4.6h-4.3zM-0.9 40.8h8.6v4.6h-8.6zM16.3 40.8h4.3v4.6h-4.3zM24.9 40.8h4.3v4.6h-4.3zM55.0 40.8h4.3v4.6h-4.3zM-0.9 45.4h8.6v4.6h-8.6zM12.0 45.4h4.3v4.6h-4.3zM24.9 45.4h4.3v4.6h-4.3zM55.0 45.4h8.6v4.6h-8.6zM-0.9 50.0h4.3v4.6h-4.3zM7.7 50.0h8.6v4.6h-8.6zM24.9 50.0h4.3v4.6h-4.3zM55.0 50.0h4.3v4.6h-4.3zM-0.9 54.6h4.3v4.6h-4.3zM7.7 54.6h4.3v4.6h-4.3zM16.3 54.6h4.3v4.6h-4.3zM24.9 54.6h4.3v4.6h-4.3zM16.3 59.2h12.9v4.6h-12.9zM63.6 59.2h4.3v4.6h-4.3zM76.5 59.2h4.3v4.6h-4.3zM7.7 63.8h4.3v4.6h-4.3zM20.6 63.8h4.3v4.6h-4.3zM50.7 63.8h4.3v4.6h-4.3zM12.0 68.4h4.3v4.6h-4.3zM24.9 68.4h4.3v4.6h-4.3zM59.3 68.4h4.3v4.6h-4.3zM24.9 73.0h4.3v4.6h-4.3zM7.7 77.6h4.3v4.6h-4.3zM24.9 77.6h4.3v4.6h-4.3zM24.9 82.2h4.3v4.6h-4.3z"/><path fill="#000090" d="M20.6 13.2h4.3v4.6h-4.3zM7.7 17.8h4.3v4.6h-4.3zM50.7 17.8h4.3v4.6h-4.3zM55.0 59.2h4.3v4.6h-4.3zM55.0 82.2h4.3v4.6h-4.3z"/><path fill="#78ffa0" d="M24.9 17.8h4.3v4.6h-4.3zM46.4 31.6h4.3v4.6h-4.3zM33.5 36.2h12.9v4.6h-12.9zM33.5 40.8h4.3v4.6h-4.3zM37.8 45.4h4.3v4.6h-4.3zM37.8 50.0h4.3v4.6h-4.3zM37.8 54.6h4.3v4.6h-4.3zM50.7 59.2h4.3v4.6h-4.3zM16.3 63.8h4.3v4.6h-4.3zM42.1 63.8h4.3v4.6h-4.3zM16.3 68.4h4.3v4.6h-4.3zM42.1 68.4h4.3v4.6h-4.3zM42.1 73.0h4.3v4.6h-4.3zM37.8 77.6h4.3v4.6h-4.3z"/><path fill="#0010d8" d="M-0.9 22.4h8.6v4.6h-8.6zM12.0 22.4h8.6v4.6h-8.6zM50.7 22.4h4.3v4.6h-4.3zM3.4 27.0h4.3v4.6h-4.3zM59.3 27.0h4.3v4.6h-4.3zM72.2 27.0h4.3v4.6h-4.3zM59.3 31.6h8.6v4.6h-8.6zM63.6 36.2h4.3v4.6h-4.3zM72.2 36.2h4.3v4.6h-4.3zM59.3 40.8h4.3v4.6h-4.3zM67.9 40.8h4.3v4.6h-4.3zM72.2 45.4h8.6v4.6h-8.6zM16.3 50.0h4.3v4.6h-4.3zM67.9 50.0h4.3v4.6h-4.3zM3.4 54.6h4.3v4.6h-4.3zM55.0 54.6h4.3v4.6h-4.3zM67.9 54.6h8.6v4.6h-8.6zM3.4 59.2h4.3v4.6h-4.3zM67.9 59.2h4.3v4.6h-4.3zM67.9 63.8h4.3v4.6h-4.3zM3.4 68.4h4.3v4.6h-4.3zM63.6 68.4h4.3v4.6h-4.3zM3.4 73.0h4.3v4.6h-4.3zM63.6 73.0h4.3v4.6h-4.3zM55.0 77.6h4.3v4.6h-4.3zM63.6 77.6h8.6v4.6h-8.6z"/><path fill="#00c8ff" d="M20.6 22.4h4.3v4.6h-4.3zM24.9 31.6h4.3v4.6h-4.3zM7.7 40.8h4.3v4.6h-4.3zM20.6 40.8h4.3v4.6h-4.3zM29.2 40.8h4.3v4.6h-4.3zM46.4 40.8h8.6v4.6h-8.6zM20.6 45.4h4.3v4.6h-4.3zM29.2 45.4h4.3v4.6h-4.3zM46.4 45.4h8.6v4.6h-8.6zM3.4 50.0h4.3v4.6h-4.3zM20.6 50.0h4.3v4.6h-4.3zM29.2 50.0h4.3v4.6h-4.3zM50.7 50.0h4.3v4.6h-4.3zM59.3 50.0h4.3v4.6h-4.3zM12.0 54.6h4.3v4.6h-4.3zM20.6 54.6h4.3v4.6h-4.3zM29.2 54.6h4.3v4.6h-4.3zM50.7 54.6h4.3v4.6h-4.3zM12.0 59.2h4.3v4.6h-4.3zM29.2 59.2h4.3v4.6h-4.3zM12.0 63.8h4.3v4.6h-4.3zM29.2 63.8h4.3v4.6h-4.3zM59.3 63.8h4.3v4.6h-4.3zM29.2 68.4h4.3v4.6h-4.3zM37.8 68.4h4.3v4.6h-4.3zM12.0 73.0h12.9v4.6h-12.9zM46.4 73.0h8.6v4.6h-8.6zM46.4 77.6h8.6v4.6h-8.6zM16.3 82.2h8.6v4.6h-8.6z"/><path fill="#20f0e8" d="M20.6 27.0h4.3v4.6h-4.3zM29.2 36.2h4.3v4.6h-4.3zM37.8 40.8h4.3v4.6h-4.3zM33.5 45.4h4.3v4.6h-4.3zM33.5 50.0h4.3v4.6h-4.3zM46.4 50.0h4.3v4.6h-4.3zM33.5 54.6h4.3v4.6h-4.3zM46.4 54.6h4.3v4.6h-4.3zM33.5 59.2h4.3v4.6h-4.3zM42.1 59.2h8.6v4.6h-8.6zM33.5 63.8h4.3v4.6h-4.3zM46.4 63.8h4.3v4.6h-4.3zM76.5 63.8h4.3v4.6h-4.3zM33.5 68.4h4.3v4.6h-4.3zM46.4 68.4h4.3v4.6h-4.3zM7.7 73.0h4.3v4.6h-4.3zM59.3 73.0h4.3v4.6h-4.3zM12.0 77.6h4.3v4.6h-4.3zM20.6 77.6h4.3v4.6h-4.3zM29.2 77.6h4.3v4.6h-4.3zM3.4 82.2h4.3v4.6h-4.3z"/><path fill="#fff000" d="M37.8 27.0h4.3v4.6h-4.3zM37.8 31.6h4.3v4.6h-4.3zM42.1 50.0h4.3v4.6h-4.3zM42.1 82.2h4.3v4.6h-4.3z"/><path fill="#ececf6" d="M33.5 31.6h4.3v4.6h-4.3zM29.2 82.2h4.3v4.6h-4.3zM37.8 82.2h4.3v4.6h-4.3zM46.4 82.2h4.3v4.6h-4.3z"/><path fill="#c0ff40" d="M46.4 36.2h4.3v4.6h-4.3zM42.1 40.8h4.3v4.6h-4.3zM42.1 45.4h4.3v4.6h-4.3zM42.1 54.6h4.3v4.6h-4.3zM37.8 59.2h4.3v4.6h-4.3zM37.8 63.8h4.3v4.6h-4.3zM76.5 68.4h4.3v4.6h-4.3zM33.5 73.0h8.6v4.6h-8.6zM16.3 77.6h4.3v4.6h-4.3zM42.1 77.6h4.3v4.6h-4.3z"/></g><g opacity="0.35" shape-rendering="crispEdges"><path fill="#ffffff" d="M-0.9 -0.6h38.7v4.6h-38.7zM55.0 63.8h4.3v4.6h-4.3zM63.6 63.8h4.3v4.6h-4.3zM72.2 73.0h12.9v4.6h-12.9zM72.2 77.6h12.9v4.6h-12.9zM50.7 82.2h4.3v4.6h-4.3zM59.3 82.2h25.8v4.6h-25.8z"/><path fill="#ff2000" d="M42.1 8.6h4.3v4.6h-4.3z"/><path fill="#0048ff" d="M59.3 8.6h8.6v4.6h-8.6zM72.2 8.6h4.3v4.6h-4.3zM29.2 13.2h4.3v4.6h-4.3zM55.0 22.4h4.3v4.6h-4.3zM7.7 27.0h4.3v4.6h-4.3zM42.1 27.0h4.3v4.6h-4.3zM12.0 31.6h8.6v4.6h-8.6zM12.0 36.2h8.6v4.6h-8.6zM50.7 36.2h8.6v4.6h-8.6zM12.0 40.8h4.3v4.6h-4.3zM63.6 40.8h4.3v4.6h-4.3zM72.2 40.8h4.3v4.6h-4.3zM7.7 45.4h4.3v4.6h-4.3zM16.3 45.4h4.3v4.6h-4.3zM63.6 45.4h8.6v4.6h-8.6zM63.6 50.0h4.3v4.6h-4.3zM72.2 50.0h4.3v4.6h-4.3zM59.3 54.6h8.6v4.6h-8.6zM76.5 54.6h4.3v4.6h-4.3zM7.7 59.2h4.3v4.6h-4.3zM59.3 59.2h4.3v4.6h-4.3zM3.4 63.8h4.3v4.6h-4.3zM24.9 63.8h4.3v4.6h-4.3zM7.7 68.4h4.3v4.6h-4.3zM20.6 68.4h4.3v4.6h-4.3zM50.7 68.4h8.6v4.6h-8.6zM29.2 73.0h4.3v4.6h-4.3zM55.0 73.0h4.3v4.6h-4.3zM33.5 77.6h4.3v4.6h-4.3zM12.0 82.2h4.3v4.6h-4.3zM33.5 82.2h4.3v4.6h-4.3z"/><path fill="#0090ff" d="M67.9 8.6h4.3v4.6h-4.3zM24.9 13.2h4.3v4.6h-4.3zM20.6 17.8h4.3v4.6h-4.3zM46.4 17.8h4.3v4.6h-4.3zM24.9 27.0h12.9v4.6h-12.9zM46.4 27.0h8.6v4.6h-8.6zM20.6 31.6h4.3v4.6h-4.3zM29.2 31.6h4.3v4.6h-4.3zM50.7 31.6h4.3v4.6h-4.3zM7.7 36.2h4.3v4.6h-4.3zM20.6 36.2h8.6v4.6h-8.6zM67.9 36.2h4.3v4.6h-4.3zM-0.9 40.8h8.6v4.6h-8.6zM16.3 40.8h4.3v4.6h-4.3zM24.9 40.8h4.3v4.6h-4.3zM55.0 40.8h4.3v4.6h-4.3zM-0.9 45.4h8.6v4.6h-8.6zM12.0 45.4h4.3v4.6h-4.3zM24.9 45.4h4.3v4.6h-4.3zM55.0 45.4h8.6v4.6h-8.6zM-0.9 50.0h4.3v4.6h-4.3zM7.7 50.0h8.6v4.6h-8.6zM24.9 50.0h4.3v4.6h-4.3zM55.0 50.0h4.3v4.6h-4.3zM-0.9 54.6h4.3v4.6h-4.3zM7.7 54.6h4.3v4.6h-4.3zM16.3 54.6h4.3v4.6h-4.3zM24.9 54.6h4.3v4.6h-4.3zM16.3 59.2h12.9v4.6h-12.9zM63.6 59.2h4.3v4.6h-4.3zM76.5 59.2h4.3v4.6h-4.3zM7.7 63.8h4.3v4.6h-4.3zM20.6 63.8h4.3v4.6h-4.3zM50.7 63.8h4.3v4.6h-4.3zM12.0 68.4h4.3v4.6h-4.3zM24.9 68.4h4.3v4.6h-4.3zM59.3 68.4h4.3v4.6h-4.3zM24.9 73.0h4.3v4.6h-4.3zM7.7 77.6h4.3v4.6h-4.3zM24.9 77.6h4.3v4.6h-4.3zM24.9 82.2h4.3v4.6h-4.3z"/><path fill="#000090" d="M20.6 13.2h4.3v4.6h-4.3zM7.7 17.8h4.3v4.6h-4.3zM50.7 17.8h4.3v4.6h-4.3zM55.0 59.2h4.3v4.6h-4.3zM55.0 82.2h4.3v4.6h-4.3z"/><path fill="#78ffa0" d="M24.9 17.8h4.3v4.6h-4.3zM46.4 31.6h4.3v4.6h-4.3zM33.5 36.2h12.9v4.6h-12.9zM33.5 40.8h4.3v4.6h-4.3zM37.8 45.4h4.3v4.6h-4.3zM37.8 50.0h4.3v4.6h-4.3zM37.8 54.6h4.3v4.6h-4.3zM50.7 59.2h4.3v4.6h-4.3zM16.3 63.8h4.3v4.6h-4.3zM42.1 63.8h4.3v4.6h-4.3zM16.3 68.4h4.3v4.6h-4.3zM42.1 68.4h4.3v4.6h-4.3zM42.1 73.0h4.3v4.6h-4.3zM37.8 77.6h4.3v4.6h-4.3z"/><path fill="#0010d8" d="M-0.9 22.4h8.6v4.6h-8.6zM12.0 22.4h8.6v4.6h-8.6zM50.7 22.4h4.3v4.6h-4.3zM3.4 27.0h4.3v4.6h-4.3zM59.3 27.0h4.3v4.6h-4.3zM72.2 27.0h4.3v4.6h-4.3zM59.3 31.6h8.6v4.6h-8.6zM63.6 36.2h4.3v4.6h-4.3zM72.2 36.2h4.3v4.6h-4.3zM59.3 40.8h4.3v4.6h-4.3zM67.9 40.8h4.3v4.6h-4.3zM72.2 45.4h8.6v4.6h-8.6zM16.3 50.0h4.3v4.6h-4.3zM67.9 50.0h4.3v4.6h-4.3zM3.4 54.6h4.3v4.6h-4.3zM55.0 54.6h4.3v4.6h-4.3zM67.9 54.6h8.6v4.6h-8.6zM3.4 59.2h4.3v4.6h-4.3zM67.9 59.2h4.3v4.6h-4.3zM67.9 63.8h4.3v4.6h-4.3zM3.4 68.4h4.3v4.6h-4.3zM63.6 68.4h4.3v4.6h-4.3zM3.4 73.0h4.3v4.6h-4.3zM63.6 73.0h4.3v4.6h-4.3zM55.0 77.6h4.3v4.6h-4.3zM63.6 77.6h8.6v4.6h-8.6z"/><path fill="#00c8ff" d="M20.6 22.4h4.3v4.6h-4.3zM24.9 31.6h4.3v4.6h-4.3zM7.7 40.8h4.3v4.6h-4.3zM20.6 40.8h4.3v4.6h-4.3zM29.2 40.8h4.3v4.6h-4.3zM46.4 40.8h8.6v4.6h-8.6zM20.6 45.4h4.3v4.6h-4.3zM29.2 45.4h4.3v4.6h-4.3zM46.4 45.4h8.6v4.6h-8.6zM3.4 50.0h4.3v4.6h-4.3zM20.6 50.0h4.3v4.6h-4.3zM29.2 50.0h4.3v4.6h-4.3zM50.7 50.0h4.3v4.6h-4.3zM59.3 50.0h4.3v4.6h-4.3zM12.0 54.6h4.3v4.6h-4.3zM20.6 54.6h4.3v4.6h-4.3zM29.2 54.6h4.3v4.6h-4.3zM50.7 54.6h4.3v4.6h-4.3zM12.0 59.2h4.3v4.6h-4.3zM29.2 59.2h4.3v4.6h-4.3zM12.0 63.8h4.3v4.6h-4.3zM29.2 63.8h4.3v4.6h-4.3zM59.3 63.8h4.3v4.6h-4.3zM29.2 68.4h4.3v4.6h-4.3zM37.8 68.4h4.3v4.6h-4.3zM12.0 73.0h12.9v4.6h-12.9zM46.4 73.0h8.6v4.6h-8.6zM46.4 77.6h8.6v4.6h-8.6zM16.3 82.2h8.6v4.6h-8.6z"/><path fill="#20f0e8" d="M20.6 27.0h4.3v4.6h-4.3zM29.2 36.2h4.3v4.6h-4.3zM37.8 40.8h4.3v4.6h-4.3zM33.5 45.4h4.3v4.6h-4.3zM33.5 50.0h4.3v4.6h-4.3zM46.4 50.0h4.3v4.6h-4.3zM33.5 54.6h4.3v4.6h-4.3zM46.4 54.6h4.3v4.6h-4.3zM33.5 59.2h4.3v4.6h-4.3zM42.1 59.2h8.6v4.6h-8.6zM33.5 63.8h4.3v4.6h-4.3zM46.4 63.8h4.3v4.6h-4.3zM76.5 63.8h4.3v4.6h-4.3zM33.5 68.4h4.3v4.6h-4.3zM46.4 68.4h4.3v4.6h-4.3zM7.7 73.0h4.3v4.6h-4.3zM59.3 73.0h4.3v4.6h-4.3zM12.0 77.6h4.3v4.6h-4.3zM20.6 77.6h4.3v4.6h-4.3zM29.2 77.6h4.3v4.6h-4.3zM3.4 82.2h4.3v4.6h-4.3z"/><path fill="#fff000" d="M37.8 27.0h4.3v4.6h-4.3zM37.8 31.6h4.3v4.6h-4.3zM42.1 50.0h4.3v4.6h-4.3zM42.1 82.2h4.3v4.6h-4.3z"/><path fill="#ececf6" d="M33.5 31.6h4.3v4.6h-4.3zM29.2 82.2h4.3v4.6h-4.3zM37.8 82.2h4.3v4.6h-4.3zM46.4 82.2h4.3v4.6h-4.3z"/><path fill="#c0ff40" d="M46.4 36.2h4.3v4.6h-4.3zM42.1 40.8h4.3v4.6h-4.3zM42.1 45.4h4.3v4.6h-4.3zM42.1 54.6h4.3v4.6h-4.3zM37.8 59.2h4.3v4.6h-4.3zM37.8 63.8h4.3v4.6h-4.3zM76.5 68.4h4.3v4.6h-4.3zM33.5 73.0h8.6v4.6h-8.6zM16.3 77.6h4.3v4.6h-4.3zM42.1 77.6h4.3v4.6h-4.3z"/></g><g><rect x="42.85" y="31.50" width="4.00" height="4.00" fill="#b0e8e0" stroke="#f01000" stroke-width="1.7"/></g></svg>
<svg class="p" style="left:688.8px;top:21.3px" width="86.2" height="85.9" viewBox="0 0 86.2 85.9"><rect width="100%" height="100%" fill="#e3e3e8"/><g filter="url(#bl)" shape-rendering="crispEdges"><path fill="#ffffff" d="M-2.1 -0.4h38.7v4.6h-38.7zM66.7 68.6h4.3v4.6h-4.3zM71.0 73.2h12.9v4.6h-12.9zM62.4 77.8h21.5v4.6h-21.5zM49.5 82.4h34.4v4.6h-34.4z"/><path fill="#0010d8" d="M36.6 4.2h4.3v4.6h-4.3zM36.6 18.0h4.3v4.6h-4.3zM10.8 22.6h4.3v4.6h-4.3zM53.8 22.6h12.9v4.6h-12.9zM6.5 27.2h8.6v4.6h-8.6zM62.4 27.2h4.3v4.6h-4.3zM2.2 31.8h4.3v4.6h-4.3zM15.1 31.8h4.3v4.6h-4.3zM2.2 36.4h4.3v4.6h-4.3zM10.8 36.4h4.3v4.6h-4.3zM71.0 36.4h4.3v4.6h-4.3zM75.3 41.0h4.3v4.6h-4.3zM45.2 54.8h4.3v4.6h-4.3zM62.4 54.8h4.3v4.6h-4.3zM58.1 59.4h4.3v4.6h-4.3zM75.3 59.4h4.3v4.6h-4.3zM15.1 64.0h4.3v4.6h-4.3zM75.3 64.0h4.3v4.6h-4.3zM10.8 68.6h4.3v4.6h-4.3zM71.0 68.6h8.6v4.6h-8.6zM10.8 73.2h8.6v4.6h-8.6zM66.7 73.2h4.3v4.6h-4.3zM15.1 77.8h4.3v4.6h-4.3z"/><path fill="#0048ff" d="M28.0 13.4h4.3v4.6h-4.3zM45.2 13.4h4.3v4.6h-4.3zM28.0 18.0h8.6v4.6h-8.6zM53.8 18.0h4.3v4.6h-4.3zM58.1 27.2h4.3v4.6h-4.3zM6.5 31.8h8.6v4.6h-8.6zM6.5 36.4h4.3v4.6h-4.3zM28.0 36.4h4.3v4.6h-4.3zM36.6 36.4h4.3v4.6h-4.3zM62.4 36.4h4.3v4.6h-4.3zM15.1 45.6h4.3v4.6h-4.3zM45.2 45.6h4.3v4.6h-4.3zM10.8 50.2h4.3v4.6h-4.3zM32.3 50.2h4.3v4.6h-4.3zM6.5 54.8h4.3v4.6h-4.3zM15.1 54.8h4.3v4.6h-4.3zM6.5 59.4h4.3v4.6h-4.3zM-2.1 64.0h8.6v4.6h-8.6zM49.5 64.0h4.3v4.6h-4.3zM62.4 64.0h8.6v4.6h-8.6zM49.5 68.6h4.3v4.6h-4.3zM23.7 77.8h4.3v4.6h-4.3z"/><path fill="#0090ff" d="M58.1 13.4h4.3v4.6h-4.3zM23.7 18.0h4.3v4.6h-4.3zM19.4 27.2h4.3v4.6h-4.3zM32.3 27.2h8.6v4.6h-8.6zM49.5 27.2h4.3v4.6h-4.3zM53.8 31.8h4.3v4.6h-4.3zM62.4 31.8h4.3v4.6h-4.3zM15.1 36.4h4.3v4.6h-4.3zM49.5 36.4h4.3v4.6h-4.3zM6.5 41.0h4.3v4.6h-4.3zM19.4 41.0h4.3v4.6h-4.3zM49.5 41.0h4.3v4.6h-4.3zM62.4 41.0h8.6v4.6h-8.6zM6.5 45.6h4.3v4.6h-4.3zM19.4 45.6h4.3v4.6h-4.3zM66.7 45.6h4.3v4.6h-4.3zM-2.1 50.2h8.6v4.6h-8.6zM23.7 50.2h8.6v4.6h-8.6zM66.7 50.2h4.3v4.6h-4.3zM66.7 54.8h4.3v4.6h-4.3zM10.8 59.4h4.3v4.6h-4.3zM23.7 59.4h4.3v4.6h-4.3zM6.5 64.0h8.6v4.6h-8.6zM19.4 64.0h4.3v4.6h-4.3zM58.1 64.0h4.3v4.6h-4.3zM-2.1 68.6h8.6v4.6h-8.6zM15.1 68.6h8.6v4.6h-8.6zM58.1 68.6h8.6v4.6h-8.6zM-2.1 73.2h8.6v4.6h-8.6zM19.4 73.2h4.3v4.6h-4.3zM58.1 73.2h4.3v4.6h-4.3zM-2.1 77.8h8.6v4.6h-8.6zM15.1 82.4h4.3v4.6h-4.3z"/><path fill="#20f0e8" d="M49.5 18.0h4.3v4.6h-4.3zM23.7 22.6h4.3v4.6h-4.3zM45.2 22.6h8.6v4.6h-8.6zM53.8 27.2h4.3v4.6h-4.3zM23.7 31.8h4.3v4.6h-4.3zM19.4 36.4h4.3v4.6h-4.3zM32.3 41.0h4.3v4.6h-4.3zM32.3 45.6h4.3v4.6h-4.3zM6.5 50.2h4.3v4.6h-4.3zM19.4 50.2h4.3v4.6h-4.3zM53.8 50.2h4.3v4.6h-4.3zM28.0 54.8h12.9v4.6h-12.9zM53.8 54.8h4.3v4.6h-4.3zM32.3 59.4h4.3v4.6h-4.3zM23.7 64.0h8.6v4.6h-8.6zM45.2 64.0h4.3v4.6h-4.3zM53.8 64.0h4.3v4.6h-4.3zM23.7 68.6h4.3v4.6h-4.3zM36.6 68.6h4.3v4.6h-4.3zM45.2 68.6h4.3v4.6h-4.3zM53.8 68.6h4.3v4.6h-4.3zM36.6 73.2h4.3v4.6h-4.3zM45.2 73.2h4.3v4.6h-4.3zM45.2 77.8h4.3v4.6h-4.3z"/><path fill="#78ffa0" d="M19.4 22.6h4.3v4.6h-4.3zM28.0 22.6h8.6v4.6h-8.6zM23.7 27.2h4.3v4.6h-4.3zM45.2 27.2h4.3v4.6h-4.3zM45.2 31.8h4.3v4.6h-4.3zM32.3 36.4h4.3v4.6h-4.3zM53.8 36.4h4.3v4.6h-4.3zM28.0 41.0h4.3v4.6h-4.3zM36.6 41.0h4.3v4.6h-4.3zM45.2 41.0h4.3v4.6h-4.3zM40.9 45.6h4.3v4.6h-4.3zM53.8 45.6h8.6v4.6h-8.6zM36.6 50.2h4.3v4.6h-4.3zM58.1 50.2h4.3v4.6h-4.3zM36.6 59.4h8.6v4.6h-8.6zM49.5 59.4h8.6v4.6h-8.6zM32.3 64.0h8.6v4.6h-8.6zM28.0 68.6h8.6v4.6h-8.6zM40.9 68.6h4.3v4.6h-4.3zM28.0 73.2h8.6v4.6h-8.6zM40.9 73.2h4.3v4.6h-4.3zM19.4 77.8h4.3v4.6h-4.3zM28.0 77.8h4.3v4.6h-4.3zM36.6 77.8h4.3v4.6h-4.3zM58.1 77.8h4.3v4.6h-4.3zM28.0 82.4h4.3v4.6h-4.3z"/><path fill="#ececf6" d="M28.0 27.2h4.3v4.6h-4.3zM32.3 31.8h4.3v4.6h-4.3zM58.1 36.4h4.3v4.6h-4.3zM2.2 41.0h4.3v4.6h-4.3zM10.8 41.0h4.3v4.6h-4.3zM58.1 41.0h4.3v4.6h-4.3zM2.2 45.6h4.3v4.6h-4.3zM10.8 45.6h4.3v4.6h-4.3zM62.4 50.2h4.3v4.6h-4.3zM2.2 54.8h4.3v4.6h-4.3zM2.2 59.4h4.3v4.6h-4.3zM6.5 73.2h4.3v4.6h-4.3zM6.5 77.8h8.6v4.6h-8.6zM2.2 82.4h12.9v4.6h-12.9z"/><path fill="#fff000" d="M40.9 27.2h4.3v4.6h-4.3zM40.9 41.0h4.3v4.6h-4.3zM40.9 54.8h4.3v4.6h-4.3zM49.5 54.8h4.3v4.6h-4.3zM32.3 77.8h4.3v4.6h-4.3z"/><path fill="#00c8ff" d="M19.4 31.8h4.3v4.6h-4.3zM36.6 31.8h4.3v4.6h-4.3zM49.5 31.8h4.3v4.6h-4.3zM23.7 36.4h4.3v4.6h-4.3zM15.1 41.0h4.3v4.6h-4.3zM53.8 41.0h4.3v4.6h-4.3zM23.7 45.6h8.6v4.6h-8.6zM36.6 45.6h4.3v4.6h-4.3zM49.5 45.6h4.3v4.6h-4.3zM62.4 45.6h4.3v4.6h-4.3zM15.1 50.2h4.3v4.6h-4.3zM45.2 50.2h4.3v4.6h-4.3zM10.8 54.8h4.3v4.6h-4.3zM19.4 54.8h8.6v4.6h-8.6zM58.1 54.8h4.3v4.6h-4.3zM19.4 59.4h4.3v4.6h-4.3zM28.0 59.4h4.3v4.6h-4.3zM45.2 59.4h4.3v4.6h-4.3zM62.4 59.4h8.6v4.6h-8.6zM6.5 68.6h4.3v4.6h-4.3zM23.7 73.2h4.3v4.6h-4.3zM49.5 73.2h8.6v4.6h-8.6zM53.8 77.8h4.3v4.6h-4.3zM19.4 82.4h4.3v4.6h-4.3zM45.2 82.4h4.3v4.6h-4.3z"/><path fill="#ffa800" d="M28.0 31.8h4.3v4.6h-4.3zM40.9 77.8h4.3v4.6h-4.3zM32.3 82.4h4.3v4.6h-4.3zM40.9 82.4h4.3v4.6h-4.3z"/><path fill="#c0ff40" d="M58.1 31.8h4.3v4.6h-4.3zM40.9 36.4h8.6v4.6h-8.6zM23.7 41.0h4.3v4.6h-4.3zM40.9 50.2h4.3v4.6h-4.3zM49.5 50.2h4.3v4.6h-4.3zM40.9 64.0h4.3v4.6h-4.3zM49.5 77.8h4.3v4.6h-4.3zM23.7 82.4h4.3v4.6h-4.3z"/><path fill="#000090" d="M66.7 31.8h4.3v4.6h-4.3zM66.7 36.4h4.3v4.6h-4.3zM71.0 41.0h4.3v4.6h-4.3zM75.3 54.8h4.3v4.6h-4.3zM15.1 59.4h4.3v4.6h-4.3z"/><path fill="#ff2000" d="M36.6 82.4h4.3v4.6h-4.3z"/></g><g opacity="0.35" shape-rendering="crispEdges"><path fill="#ffffff" d="M-2.1 -0.4h38.7v4.6h-38.7zM66.7 68.6h4.3v4.6h-4.3zM71.0 73.2h12.9v4.6h-12.9zM62.4 77.8h21.5v4.6h-21.5zM49.5 82.4h34.4v4.6h-34.4z"/><path fill="#0010d8" d="M36.6 4.2h4.3v4.6h-4.3zM36.6 18.0h4.3v4.6h-4.3zM10.8 22.6h4.3v4.6h-4.3zM53.8 22.6h12.9v4.6h-12.9zM6.5 27.2h8.6v4.6h-8.6zM62.4 27.2h4.3v4.6h-4.3zM2.2 31.8h4.3v4.6h-4.3zM15.1 31.8h4.3v4.6h-4.3zM2.2 36.4h4.3v4.6h-4.3zM10.8 36.4h4.3v4.6h-4.3zM71.0 36.4h4.3v4.6h-4.3zM75.3 41.0h4.3v4.6h-4.3zM45.2 54.8h4.3v4.6h-4.3zM62.4 54.8h4.3v4.6h-4.3zM58.1 59.4h4.3v4.6h-4.3zM75.3 59.4h4.3v4.6h-4.3zM15.1 64.0h4.3v4.6h-4.3zM75.3 64.0h4.3v4.6h-4.3zM10.8 68.6h4.3v4.6h-4.3zM71.0 68.6h8.6v4.6h-8.6zM10.8 73.2h8.6v4.6h-8.6zM66.7 73.2h4.3v4.6h-4.3zM15.1 77.8h4.3v4.6h-4.3z"/><path fill="#0048ff" d="M28.0 13.4h4.3v4.6h-4.3zM45.2 13.4h4.3v4.6h-4.3zM28.0 18.0h8.6v4.6h-8.6zM53.8 18.0h4.3v4.6h-4.3zM58.1 27.2h4.3v4.6h-4.3zM6.5 31.8h8.6v4.6h-8.6zM6.5 36.4h4.3v4.6h-4.3zM28.0 36.4h4.3v4.6h-4.3zM36.6 36.4h4.3v4.6h-4.3zM62.4 36.4h4.3v4.6h-4.3zM15.1 45.6h4.3v4.6h-4.3zM45.2 45.6h4.3v4.6h-4.3zM10.8 50.2h4.3v4.6h-4.3zM32.3 50.2h4.3v4.6h-4.3zM6.5 54.8h4.3v4.6h-4.3zM15.1 54.8h4.3v4.6h-4.3zM6.5 59.4h4.3v4.6h-4.3zM-2.1 64.0h8.6v4.6h-8.6zM49.5 64.0h4.3v4.6h-4.3zM62.4 64.0h8.6v4.6h-8.6zM49.5 68.6h4.3v4.6h-4.3zM23.7 77.8h4.3v4.6h-4.3z"/><path fill="#0090ff" d="M58.1 13.4h4.3v4.6h-4.3zM23.7 18.0h4.3v4.6h-4.3zM19.4 27.2h4.3v4.6h-4.3zM32.3 27.2h8.6v4.6h-8.6zM49.5 27.2h4.3v4.6h-4.3zM53.8 31.8h4.3v4.6h-4.3zM62.4 31.8h4.3v4.6h-4.3zM15.1 36.4h4.3v4.6h-4.3zM49.5 36.4h4.3v4.6h-4.3zM6.5 41.0h4.3v4.6h-4.3zM19.4 41.0h4.3v4.6h-4.3zM49.5 41.0h4.3v4.6h-4.3zM62.4 41.0h8.6v4.6h-8.6zM6.5 45.6h4.3v4.6h-4.3zM19.4 45.6h4.3v4.6h-4.3zM66.7 45.6h4.3v4.6h-4.3zM-2.1 50.2h8.6v4.6h-8.6zM23.7 50.2h8.6v4.6h-8.6zM66.7 50.2h4.3v4.6h-4.3zM66.7 54.8h4.3v4.6h-4.3zM10.8 59.4h4.3v4.6h-4.3zM23.7 59.4h4.3v4.6h-4.3zM6.5 64.0h8.6v4.6h-8.6zM19.4 64.0h4.3v4.6h-4.3zM58.1 64.0h4.3v4.6h-4.3zM-2.1 68.6h8.6v4.6h-8.6zM15.1 68.6h8.6v4.6h-8.6zM58.1 68.6h8.6v4.6h-8.6zM-2.1 73.2h8.6v4.6h-8.6zM19.4 73.2h4.3v4.6h-4.3zM58.1 73.2h4.3v4.6h-4.3zM-2.1 77.8h8.6v4.6h-8.6zM15.1 82.4h4.3v4.6h-4.3z"/><path fill="#20f0e8" d="M49.5 18.0h4.3v4.6h-4.3zM23.7 22.6h4.3v4.6h-4.3zM45.2 22.6h8.6v4.6h-8.6zM53.8 27.2h4.3v4.6h-4.3zM23.7 31.8h4.3v4.6h-4.3zM19.4 36.4h4.3v4.6h-4.3zM32.3 41.0h4.3v4.6h-4.3zM32.3 45.6h4.3v4.6h-4.3zM6.5 50.2h4.3v4.6h-4.3zM19.4 50.2h4.3v4.6h-4.3zM53.8 50.2h4.3v4.6h-4.3zM28.0 54.8h12.9v4.6h-12.9zM53.8 54.8h4.3v4.6h-4.3zM32.3 59.4h4.3v4.6h-4.3zM23.7 64.0h8.6v4.6h-8.6zM45.2 64.0h4.3v4.6h-4.3zM53.8 64.0h4.3v4.6h-4.3zM23.7 68.6h4.3v4.6h-4.3zM36.6 68.6h4.3v4.6h-4.3zM45.2 68.6h4.3v4.6h-4.3zM53.8 68.6h4.3v4.6h-4.3zM36.6 73.2h4.3v4.6h-4.3zM45.2 73.2h4.3v4.6h-4.3zM45.2 77.8h4.3v4.6h-4.3z"/><path fill="#78ffa0" d="M19.4 22.6h4.3v4.6h-4.3zM28.0 22.6h8.6v4.6h-8.6zM23.7 27.2h4.3v4.6h-4.3zM45.2 27.2h4.3v4.6h-4.3zM45.2 31.8h4.3v4.6h-4.3zM32.3 36.4h4.3v4.6h-4.3zM53.8 36.4h4.3v4.6h-4.3zM28.0 41.0h4.3v4.6h-4.3zM36.6 41.0h4.3v4.6h-4.3zM45.2 41.0h4.3v4.6h-4.3zM40.9 45.6h4.3v4.6h-4.3zM53.8 45.6h8.6v4.6h-8.6zM36.6 50.2h4.3v4.6h-4.3zM58.1 50.2h4.3v4.6h-4.3zM36.6 59.4h8.6v4.6h-8.6zM49.5 59.4h8.6v4.6h-8.6zM32.3 64.0h8.6v4.6h-8.6zM28.0 68.6h8.6v4.6h-8.6zM40.9 68.6h4.3v4.6h-4.3zM28.0 73.2h8.6v4.6h-8.6zM40.9 73.2h4.3v4.6h-4.3zM19.4 77.8h4.3v4.6h-4.3zM28.0 77.8h4.3v4.6h-4.3zM36.6 77.8h4.3v4.6h-4.3zM58.1 77.8h4.3v4.6h-4.3zM28.0 82.4h4.3v4.6h-4.3z"/><path fill="#ececf6" d="M28.0 27.2h4.3v4.6h-4.3zM32.3 31.8h4.3v4.6h-4.3zM58.1 36.4h4.3v4.6h-4.3zM2.2 41.0h4.3v4.6h-4.3zM10.8 41.0h4.3v4.6h-4.3zM58.1 41.0h4.3v4.6h-4.3zM2.2 45.6h4.3v4.6h-4.3zM10.8 45.6h4.3v4.6h-4.3zM62.4 50.2h4.3v4.6h-4.3zM2.2 54.8h4.3v4.6h-4.3zM2.2 59.4h4.3v4.6h-4.3zM6.5 73.2h4.3v4.6h-4.3zM6.5 77.8h8.6v4.6h-8.6zM2.2 82.4h12.9v4.6h-12.9z"/><path fill="#fff000" d="M40.9 27.2h4.3v4.6h-4.3zM40.9 41.0h4.3v4.6h-4.3zM40.9 54.8h4.3v4.6h-4.3zM49.5 54.8h4.3v4.6h-4.3zM32.3 77.8h4.3v4.6h-4.3z"/><path fill="#00c8ff" d="M19.4 31.8h4.3v4.6h-4.3zM36.6 31.8h4.3v4.6h-4.3zM49.5 31.8h4.3v4.6h-4.3zM23.7 36.4h4.3v4.6h-4.3zM15.1 41.0h4.3v4.6h-4.3zM53.8 41.0h4.3v4.6h-4.3zM23.7 45.6h8.6v4.6h-8.6zM36.6 45.6h4.3v4.6h-4.3zM49.5 45.6h4.3v4.6h-4.3zM62.4 45.6h4.3v4.6h-4.3zM15.1 50.2h4.3v4.6h-4.3zM45.2 50.2h4.3v4.6h-4.3zM10.8 54.8h4.3v4.6h-4.3zM19.4 54.8h8.6v4.6h-8.6zM58.1 54.8h4.3v4.6h-4.3zM19.4 59.4h4.3v4.6h-4.3zM28.0 59.4h4.3v4.6h-4.3zM45.2 59.4h4.3v4.6h-4.3zM62.4 59.4h8.6v4.6h-8.6zM6.5 68.6h4.3v4.6h-4.3zM23.7 73.2h4.3v4.6h-4.3zM49.5 73.2h8.6v4.6h-8.6zM53.8 77.8h4.3v4.6h-4.3zM19.4 82.4h4.3v4.6h-4.3zM45.2 82.4h4.3v4.6h-4.3z"/><path fill="#ffa800" d="M28.0 31.8h4.3v4.6h-4.3zM40.9 77.8h4.3v4.6h-4.3zM32.3 82.4h4.3v4.6h-4.3zM40.9 82.4h4.3v4.6h-4.3z"/><path fill="#c0ff40" d="M58.1 31.8h4.3v4.6h-4.3zM40.9 36.4h8.6v4.6h-8.6zM23.7 41.0h4.3v4.6h-4.3zM40.9 50.2h4.3v4.6h-4.3zM49.5 50.2h4.3v4.6h-4.3zM40.9 64.0h4.3v4.6h-4.3zM49.5 77.8h4.3v4.6h-4.3zM23.7 82.4h4.3v4.6h-4.3z"/><path fill="#000090" d="M66.7 31.8h4.3v4.6h-4.3zM66.7 36.4h4.3v4.6h-4.3zM71.0 41.0h4.3v4.6h-4.3zM75.3 54.8h4.3v4.6h-4.3zM15.1 59.4h4.3v4.6h-4.3z"/><path fill="#ff2000" d="M36.6 82.4h4.3v4.6h-4.3z"/></g><g><rect x="41.65" y="31.70" width="4.00" height="4.00" fill="#b0e8e0" stroke="#f01000" stroke-width="1.7"/></g></svg>
<svg class="p" style="left:74.2px;top:17.3px" width="706.8" height="93.9" viewBox="74.2 17.3 706.8 93.9" fill="none"><line x1="166.4" y1="21.3" x2="166.4" y2="107.2" stroke="#fff" stroke-width="3.2" opacity="0.85"/><line x1="254.2" y1="21.3" x2="254.2" y2="107.2" stroke="#fff" stroke-width="3.2" opacity="0.85"/><line x1="339.7" y1="21.3" x2="339.7" y2="107.2" stroke="#fff" stroke-width="3.2" opacity="0.85"/><line x1="428.5" y1="21.3" x2="428.5" y2="107.2" stroke="#fff" stroke-width="3.2" opacity="0.85"/><line x1="515.0" y1="21.3" x2="515.0" y2="107.2" stroke="#fff" stroke-width="3.2" opacity="0.85"/><line x1="601.4" y1="21.3" x2="601.4" y2="107.2" stroke="#fff" stroke-width="3.2" opacity="0.85"/><line x1="688.8" y1="21.3" x2="688.8" y2="107.2" stroke="#fff" stroke-width="3.2" opacity="0.85"/><line x1="166.4" y1="21.3" x2="166.4" y2="107.2" stroke="#000" stroke-width="1.8"/><line x1="254.2" y1="21.3" x2="254.2" y2="107.2" stroke="#000" stroke-width="1.8"/><line x1="339.7" y1="21.3" x2="339.7" y2="107.2" stroke="#000" stroke-width="1.8"/><line x1="428.5" y1="21.3" x2="428.5" y2="107.2" stroke="#000" stroke-width="1.8"/><line x1="515.0" y1="21.3" x2="515.0" y2="107.2" stroke="#000" stroke-width="1.8"/><line x1="601.4" y1="21.3" x2="601.4" y2="107.2" stroke="#000" stroke-width="1.8"/><line x1="688.8" y1="21.3" x2="688.8" y2="107.2" stroke="#000" stroke-width="1.8"/><path d="M80.2 20.4V107.2H775.0V20.4" stroke="#000" stroke-width="1.8" stroke-linejoin="miter"/><line x1="80.2" y1="21.3" x2="775.0" y2="21.3" stroke="#000" stroke-width="1.8"/><line x1="81.2" y1="21.3" x2="166.4" y2="21.3" stroke="#2a2ab0" stroke-width="1.8"/><line x1="81.2" y1="20.8" x2="166.4" y2="20.8" stroke="#f05010" stroke-width="0.9" stroke-dasharray="1.1 1.1"/><line x1="80.2" y1="62.8" x2="82.4" y2="62.8" stroke="#000" stroke-width="1"/><line x1="80.2" y1="103.0" x2="82.4" y2="103.0" stroke="#000" stroke-width="1"/><line x1="151.2" y1="21.3" x2="151.2" y2="24.8" stroke="#000" stroke-width="1"/><line x1="163.9" y1="62.8" x2="168.6" y2="62.8" stroke="#000" stroke-width="1"/><line x1="163.9" y1="103.0" x2="168.6" y2="103.0" stroke="#000" stroke-width="1"/><line x1="237.4" y1="21.3" x2="237.4" y2="24.8" stroke="#000" stroke-width="1"/><line x1="251.7" y1="62.8" x2="256.4" y2="62.8" stroke="#000" stroke-width="1"/><line x1="251.7" y1="103.0" x2="256.4" y2="103.0" stroke="#000" stroke-width="1"/><line x1="325.2" y1="21.3" x2="325.2" y2="24.8" stroke="#000" stroke-width="1"/><line x1="337.2" y1="62.8" x2="341.9" y2="62.8" stroke="#000" stroke-width="1"/><line x1="337.2" y1="103.0" x2="341.9" y2="103.0" stroke="#000" stroke-width="1"/><line x1="410.7" y1="21.3" x2="410.7" y2="24.8" stroke="#000" stroke-width="1"/><line x1="426.0" y1="62.8" x2="430.7" y2="62.8" stroke="#000" stroke-width="1"/><line x1="426.0" y1="103.0" x2="430.7" y2="103.0" stroke="#000" stroke-width="1"/><line x1="499.5" y1="21.3" x2="499.5" y2="24.8" stroke="#000" stroke-width="1"/><line x1="512.5" y1="62.8" x2="517.2" y2="62.8" stroke="#000" stroke-width="1"/><line x1="512.5" y1="103.0" x2="517.2" y2="103.0" stroke="#000" stroke-width="1"/><line x1="586.0" y1="21.3" x2="586.0" y2="24.8" stroke="#000" stroke-width="1"/><line x1="598.9" y1="62.8" x2="603.6" y2="62.8" stroke="#000" stroke-width="1"/><line x1="598.9" y1="103.0" x2="603.6" y2="103.0" stroke="#000" stroke-width="1"/><line x1="672.4" y1="21.3" x2="672.4" y2="24.8" stroke="#000" stroke-width="1"/><line x1="686.3" y1="62.8" x2="691.0" y2="62.8" stroke="#000" stroke-width="1"/><line x1="686.3" y1="103.0" x2="691.0" y2="103.0" stroke="#000" stroke-width="1"/><line x1="759.8" y1="21.3" x2="759.8" y2="24.8" stroke="#000" stroke-width="1"/><line x1="772.5" y1="62.8" x2="775.0" y2="62.8" stroke="#000" stroke-width="1"/><line x1="772.5" y1="103.0" x2="775.0" y2="103.0" stroke="#000" stroke-width="1"/></svg>
<svg class="p" style="left:80.2px;top:233.2px" width="86.2" height="85.8" viewBox="0 0 86.2 85.8"><rect width="100%" height="100%" fill="#e3e3e8"/><g filter="url(#bl)" shape-rendering="crispEdges"><path fill="#ffffff" d="M1.1 -0.7h38.7v4.6h-38.7zM48.4 -0.7h4.3v4.6h-4.3zM69.9 59.1h8.6v4.6h-8.6zM69.9 63.7h4.3v4.6h-4.3zM82.8 63.7h4.3v4.6h-4.3zM82.8 68.3h4.3v4.6h-4.3zM82.8 72.9h4.3v4.6h-4.3zM57.0 77.5h4.3v4.6h-4.3zM74.2 77.5h12.9v4.6h-12.9zM1.1 82.1h4.3v4.6h-4.3zM9.7 82.1h8.6v4.6h-8.6zM52.7 82.1h17.2v4.6h-17.2zM74.2 82.1h12.9v4.6h-12.9z"/><path fill="#0048ff" d="M39.8 -0.7h8.6v4.6h-8.6zM65.6 -0.7h4.3v4.6h-4.3zM74.2 -0.7h4.3v4.6h-4.3zM14.0 8.5h4.3v4.6h-4.3zM22.6 8.5h4.3v4.6h-4.3zM65.6 8.5h4.3v4.6h-4.3zM9.7 13.1h4.3v4.6h-4.3zM26.9 13.1h4.3v4.6h-4.3zM52.7 13.1h4.3v4.6h-4.3zM74.2 49.9h4.3v4.6h-4.3zM65.6 54.5h4.3v4.6h-4.3zM74.2 54.5h8.6v4.6h-8.6zM65.6 59.1h4.3v4.6h-4.3zM82.8 59.1h4.3v4.6h-4.3zM65.6 63.7h4.3v4.6h-4.3zM78.5 63.7h4.3v4.6h-4.3zM65.6 68.3h4.3v4.6h-4.3zM9.7 72.9h4.3v4.6h-4.3zM52.7 72.9h4.3v4.6h-4.3zM61.3 72.9h4.3v4.6h-4.3zM78.5 72.9h4.3v4.6h-4.3zM61.3 77.5h4.3v4.6h-4.3z"/><path fill="#0090ff" d="M52.7 -0.7h12.9v4.6h-12.9zM69.9 -0.7h4.3v4.6h-4.3zM78.5 -0.7h8.6v4.6h-8.6zM1.1 3.9h4.3v4.6h-4.3zM52.7 3.9h4.3v4.6h-4.3zM61.3 3.9h8.6v4.6h-8.6zM74.2 3.9h4.3v4.6h-4.3zM1.1 8.5h4.3v4.6h-4.3zM9.7 8.5h4.3v4.6h-4.3zM18.3 8.5h4.3v4.6h-4.3zM61.3 8.5h4.3v4.6h-4.3zM61.3 13.1h4.3v4.6h-4.3zM69.9 13.1h8.6v4.6h-8.6zM74.2 17.7h4.3v4.6h-4.3zM5.4 45.3h4.3v4.6h-4.3zM78.5 49.9h4.3v4.6h-4.3zM82.8 54.5h4.3v4.6h-4.3zM5.4 68.3h4.3v4.6h-4.3zM52.7 68.3h4.3v4.6h-4.3zM65.6 72.9h4.3v4.6h-4.3zM1.1 77.5h8.6v4.6h-8.6zM22.6 82.1h4.3v4.6h-4.3z"/><path fill="#000090" d="M5.4 3.9h12.9v4.6h-12.9zM31.2 8.5h4.3v4.6h-4.3zM78.5 13.1h4.3v4.6h-4.3zM57.0 72.9h4.3v4.6h-4.3zM48.4 77.5h4.3v4.6h-4.3zM5.4 82.1h4.3v4.6h-4.3z"/><path fill="#0010d8" d="M18.3 3.9h34.4v4.6h-34.4zM5.4 8.5h4.3v4.6h-4.3zM26.9 8.5h4.3v4.6h-4.3zM35.5 8.5h4.3v4.6h-4.3zM57.0 13.1h4.3v4.6h-4.3zM9.7 40.7h4.3v4.6h-4.3zM78.5 59.1h4.3v4.6h-4.3zM74.2 63.7h4.3v4.6h-4.3zM57.0 68.3h4.3v4.6h-4.3zM69.9 68.3h12.9v4.6h-12.9zM74.2 72.9h4.3v4.6h-4.3zM9.7 77.5h4.3v4.6h-4.3z"/><path fill="#00c8ff" d="M57.0 3.9h4.3v4.6h-4.3zM69.9 3.9h4.3v4.6h-4.3zM78.5 3.9h8.6v4.6h-8.6zM52.7 8.5h4.3v4.6h-4.3zM74.2 8.5h4.3v4.6h-4.3zM82.8 8.5h4.3v4.6h-4.3zM48.4 13.1h4.3v4.6h-4.3zM82.8 13.1h4.3v4.6h-4.3zM39.8 17.7h4.3v4.6h-4.3zM52.7 17.7h4.3v4.6h-4.3zM52.7 22.3h4.3v4.6h-4.3zM65.6 22.3h4.3v4.6h-4.3zM78.5 26.9h4.3v4.6h-4.3zM78.5 31.5h4.3v4.6h-4.3zM78.5 40.7h8.6v4.6h-8.6zM65.6 45.3h4.3v4.6h-4.3zM74.2 45.3h4.3v4.6h-4.3zM82.8 45.3h4.3v4.6h-4.3zM82.8 49.9h4.3v4.6h-4.3zM61.3 54.5h4.3v4.6h-4.3zM69.9 54.5h4.3v4.6h-4.3zM57.0 59.1h8.6v4.6h-8.6zM61.3 63.7h4.3v4.6h-4.3zM1.1 68.3h4.3v4.6h-4.3zM35.5 68.3h4.3v4.6h-4.3zM61.3 68.3h4.3v4.6h-4.3zM5.4 72.9h4.3v4.6h-4.3zM35.5 72.9h4.3v4.6h-4.3zM39.8 77.5h4.3v4.6h-4.3zM18.3 82.1h4.3v4.6h-4.3zM48.4 82.1h4.3v4.6h-4.3z"/><path fill="#20f0e8" d="M44.1 8.5h4.3v4.6h-4.3zM57.0 8.5h4.3v4.6h-4.3zM69.9 8.5h4.3v4.6h-4.3zM78.5 8.5h4.3v4.6h-4.3zM44.1 13.1h4.3v4.6h-4.3zM65.6 13.1h4.3v4.6h-4.3zM5.4 17.7h4.3v4.6h-4.3zM26.9 17.7h4.3v4.6h-4.3zM61.3 17.7h12.9v4.6h-12.9zM82.8 17.7h4.3v4.6h-4.3zM5.4 22.3h4.3v4.6h-4.3zM18.3 22.3h4.3v4.6h-4.3zM69.9 22.3h12.9v4.6h-12.9zM1.1 26.9h8.6v4.6h-8.6zM18.3 26.9h4.3v4.6h-4.3zM65.6 26.9h4.3v4.6h-4.3zM74.2 26.9h4.3v4.6h-4.3zM82.8 26.9h4.3v4.6h-4.3zM1.1 31.5h4.3v4.6h-4.3zM14.0 31.5h4.3v4.6h-4.3zM74.2 31.5h4.3v4.6h-4.3zM82.8 31.5h4.3v4.6h-4.3zM1.1 36.1h4.3v4.6h-4.3zM14.0 36.1h4.3v4.6h-4.3zM69.9 36.1h4.3v4.6h-4.3zM78.5 36.1h8.6v4.6h-8.6zM1.1 40.7h4.3v4.6h-4.3zM65.6 40.7h8.6v4.6h-8.6zM78.5 45.3h4.3v4.6h-4.3zM1.1 49.9h4.3v4.6h-4.3zM61.3 49.9h8.6v4.6h-8.6zM1.1 54.5h4.3v4.6h-4.3zM1.1 59.1h4.3v4.6h-4.3zM1.1 63.7h4.3v4.6h-4.3zM14.0 63.7h4.3v4.6h-4.3zM35.5 63.7h4.3v4.6h-4.3zM52.7 63.7h8.6v4.6h-8.6zM9.7 68.3h4.3v4.6h-4.3zM22.6 68.3h4.3v4.6h-4.3zM44.1 68.3h8.6v4.6h-8.6zM22.6 72.9h4.3v4.6h-4.3zM44.1 72.9h4.3v4.6h-4.3zM18.3 77.5h8.6v4.6h-8.6zM39.8 82.1h4.3v4.6h-4.3z"/><path fill="#c0ff40" d="M48.4 8.5h4.3v4.6h-4.3zM44.1 17.7h4.3v4.6h-4.3zM9.7 22.3h4.3v4.6h-4.3zM44.1 22.3h4.3v4.6h-4.3zM22.6 26.9h4.3v4.6h-4.3zM44.1 26.9h8.6v4.6h-8.6zM22.6 31.5h4.3v4.6h-4.3zM18.3 36.1h4.3v4.6h-4.3zM31.2 40.7h4.3v4.6h-4.3zM61.3 40.7h4.3v4.6h-4.3zM74.2 40.7h4.3v4.6h-4.3zM69.9 45.3h4.3v4.6h-4.3zM5.4 49.9h8.6v4.6h-8.6zM22.6 49.9h4.3v4.6h-4.3zM5.4 54.5h8.6v4.6h-8.6zM5.4 59.1h21.5v4.6h-21.5zM18.3 63.7h8.6v4.6h-8.6zM1.1 72.9h4.3v4.6h-4.3zM26.9 72.9h4.3v4.6h-4.3zM14.0 77.5h4.3v4.6h-4.3zM26.9 77.5h4.3v4.6h-4.3z"/><path fill="#000000" d="M1.1 13.1h4.3v4.6h-4.3zM69.9 72.9h4.3v4.6h-4.3zM65.6 77.5h8.6v4.6h-8.6zM35.5 82.1h4.3v4.6h-4.3zM69.9 82.1h4.3v4.6h-4.3z"/><path fill="#78ffa0" d="M35.5 17.7h4.3v4.6h-4.3zM78.5 17.7h4.3v4.6h-4.3zM22.6 22.3h4.3v4.6h-4.3zM57.0 22.3h4.3v4.6h-4.3zM9.7 26.9h4.3v4.6h-4.3zM57.0 26.9h8.6v4.6h-8.6zM69.9 26.9h4.3v4.6h-4.3zM9.7 31.5h4.3v4.6h-4.3zM18.3 31.5h4.3v4.6h-4.3zM61.3 31.5h12.9v4.6h-12.9zM9.7 36.1h4.3v4.6h-4.3zM26.9 36.1h4.3v4.6h-4.3zM65.6 36.1h4.3v4.6h-4.3zM74.2 36.1h4.3v4.6h-4.3zM14.0 40.7h4.3v4.6h-4.3zM9.7 45.3h12.9v4.6h-12.9zM61.3 45.3h4.3v4.6h-4.3zM18.3 49.9h4.3v4.6h-4.3zM5.4 63.7h8.6v4.6h-8.6zM44.1 63.7h8.6v4.6h-8.6zM18.3 68.3h4.3v4.6h-4.3zM18.3 72.9h4.3v4.6h-4.3zM39.8 72.9h4.3v4.6h-4.3zM48.4 72.9h4.3v4.6h-4.3zM31.2 82.1h4.3v4.6h-4.3z"/><path fill="#ececf6" d="M57.0 17.7h4.3v4.6h-4.3zM82.8 22.3h4.3v4.6h-4.3zM5.4 40.7h4.3v4.6h-4.3zM57.0 40.7h4.3v4.6h-4.3zM57.0 45.3h4.3v4.6h-4.3zM57.0 49.9h4.3v4.6h-4.3zM57.0 54.5h4.3v4.6h-4.3z"/><path fill="#fff000" d="M26.9 22.3h17.2v4.6h-17.2zM61.3 22.3h4.3v4.6h-4.3zM26.9 26.9h17.2v4.6h-17.2zM5.4 31.5h4.3v4.6h-4.3zM44.1 31.5h8.6v4.6h-8.6zM57.0 31.5h4.3v4.6h-4.3zM57.0 36.1h8.6v4.6h-8.6zM18.3 40.7h4.3v4.6h-4.3zM26.9 40.7h4.3v4.6h-4.3zM1.1 45.3h4.3v4.6h-4.3zM22.6 45.3h4.3v4.6h-4.3zM26.9 49.9h4.3v4.6h-4.3zM14.0 54.5h12.9v4.6h-12.9zM39.8 54.5h4.3v4.6h-4.3zM35.5 59.1h21.5v4.6h-21.5zM26.9 63.7h4.3v4.6h-4.3zM14.0 68.3h4.3v4.6h-4.3zM26.9 68.3h4.3v4.6h-4.3zM14.0 72.9h4.3v4.6h-4.3zM31.2 77.5h4.3v4.6h-4.3zM44.1 77.5h4.3v4.6h-4.3zM52.7 77.5h4.3v4.6h-4.3zM26.9 82.1h4.3v4.6h-4.3z"/><path fill="#ffa800" d="M48.4 22.3h4.3v4.6h-4.3zM35.5 31.5h4.3v4.6h-4.3zM52.7 31.5h4.3v4.6h-4.3zM5.4 36.1h4.3v4.6h-4.3zM22.6 36.1h4.3v4.6h-4.3zM31.2 36.1h4.3v4.6h-4.3zM44.1 36.1h4.3v4.6h-4.3zM52.7 36.1h4.3v4.6h-4.3zM22.6 40.7h4.3v4.6h-4.3zM52.7 40.7h4.3v4.6h-4.3zM26.9 45.3h8.6v4.6h-8.6zM52.7 45.3h4.3v4.6h-4.3zM14.0 49.9h4.3v4.6h-4.3zM31.2 49.9h8.6v4.6h-8.6zM52.7 49.9h4.3v4.6h-4.3zM69.9 49.9h4.3v4.6h-4.3zM26.9 54.5h4.3v4.6h-4.3zM35.5 54.5h4.3v4.6h-4.3zM44.1 54.5h12.9v4.6h-12.9zM26.9 59.1h4.3v4.6h-4.3zM31.2 63.7h4.3v4.6h-4.3zM39.8 63.7h4.3v4.6h-4.3zM31.2 68.3h4.3v4.6h-4.3zM39.8 68.3h4.3v4.6h-4.3zM31.2 72.9h4.3v4.6h-4.3zM44.1 82.1h4.3v4.6h-4.3z"/><path fill="#ff2000" d="M52.7 26.9h4.3v4.6h-4.3zM26.9 31.5h8.6v4.6h-8.6zM35.5 36.1h8.6v4.6h-8.6zM48.4 36.1h4.3v4.6h-4.3zM35.5 40.7h17.2v4.6h-17.2zM35.5 45.3h17.2v4.6h-17.2zM39.8 49.9h12.9v4.6h-12.9zM31.2 54.5h4.3v4.6h-4.3zM31.2 59.1h4.3v4.6h-4.3zM35.5 77.5h4.3v4.6h-4.3z"/></g><g opacity="0.35" shape-rendering="crispEdges"><path fill="#ffffff" d="M1.1 -0.7h38.7v4.6h-38.7zM48.4 -0.7h4.3v4.6h-4.3zM69.9 59.1h8.6v4.6h-8.6zM69.9 63.7h4.3v4.6h-4.3zM82.8 63.7h4.3v4.6h-4.3zM82.8 68.3h4.3v4.6h-4.3zM82.8 72.9h4.3v4.6h-4.3zM57.0 77.5h4.3v4.6h-4.3zM74.2 77.5h12.9v4.6h-12.9zM1.1 82.1h4.3v4.6h-4.3zM9.7 82.1h8.6v4.6h-8.6zM52.7 82.1h17.2v4.6h-17.2zM74.2 82.1h12.9v4.6h-12.9z"/><path fill="#0048ff" d="M39.8 -0.7h8.6v4.6h-8.6zM65.6 -0.7h4.3v4.6h-4.3zM74.2 -0.7h4.3v4.6h-4.3zM14.0 8.5h4.3v4.6h-4.3zM22.6 8.5h4.3v4.6h-4.3zM65.6 8.5h4.3v4.6h-4.3zM9.7 13.1h4.3v4.6h-4.3zM26.9 13.1h4.3v4.6h-4.3zM52.7 13.1h4.3v4.6h-4.3zM74.2 49.9h4.3v4.6h-4.3zM65.6 54.5h4.3v4.6h-4.3zM74.2 54.5h8.6v4.6h-8.6zM65.6 59.1h4.3v4.6h-4.3zM82.8 59.1h4.3v4.6h-4.3zM65.6 63.7h4.3v4.6h-4.3zM78.5 63.7h4.3v4.6h-4.3zM65.6 68.3h4.3v4.6h-4.3zM9.7 72.9h4.3v4.6h-4.3zM52.7 72.9h4.3v4.6h-4.3zM61.3 72.9h4.3v4.6h-4.3zM78.5 72.9h4.3v4.6h-4.3zM61.3 77.5h4.3v4.6h-4.3z"/><path fill="#0090ff" d="M52.7 -0.7h12.9v4.6h-12.9zM69.9 -0.7h4.3v4.6h-4.3zM78.5 -0.7h8.6v4.6h-8.6zM1.1 3.9h4.3v4.6h-4.3zM52.7 3.9h4.3v4.6h-4.3zM61.3 3.9h8.6v4.6h-8.6zM74.2 3.9h4.3v4.6h-4.3zM1.1 8.5h4.3v4.6h-4.3zM9.7 8.5h4.3v4.6h-4.3zM18.3 8.5h4.3v4.6h-4.3zM61.3 8.5h4.3v4.6h-4.3zM61.3 13.1h4.3v4.6h-4.3zM69.9 13.1h8.6v4.6h-8.6zM74.2 17.7h4.3v4.6h-4.3zM5.4 45.3h4.3v4.6h-4.3zM78.5 49.9h4.3v4.6h-4.3zM82.8 54.5h4.3v4.6h-4.3zM5.4 68.3h4.3v4.6h-4.3zM52.7 68.3h4.3v4.6h-4.3zM65.6 72.9h4.3v4.6h-4.3zM1.1 77.5h8.6v4.6h-8.6zM22.6 82.1h4.3v4.6h-4.3z"/><path fill="#000090" d="M5.4 3.9h12.9v4.6h-12.9zM31.2 8.5h4.3v4.6h-4.3zM78.5 13.1h4.3v4.6h-4.3zM57.0 72.9h4.3v4.6h-4.3zM48.4 77.5h4.3v4.6h-4.3zM5.4 82.1h4.3v4.6h-4.3z"/><path fill="#0010d8" d="M18.3 3.9h34.4v4.6h-34.4zM5.4 8.5h4.3v4.6h-4.3zM26.9 8.5h4.3v4.6h-4.3zM35.5 8.5h4.3v4.6h-4.3zM57.0 13.1h4.3v4.6h-4.3zM9.7 40.7h4.3v4.6h-4.3zM78.5 59.1h4.3v4.6h-4.3zM74.2 63.7h4.3v4.6h-4.3zM57.0 68.3h4.3v4.6h-4.3zM69.9 68.3h12.9v4.6h-12.9zM74.2 72.9h4.3v4.6h-4.3zM9.7 77.5h4.3v4.6h-4.3z"/><path fill="#00c8ff" d="M57.0 3.9h4.3v4.6h-4.3zM69.9 3.9h4.3v4.6h-4.3zM78.5 3.9h8.6v4.6h-8.6zM52.7 8.5h4.3v4.6h-4.3zM74.2 8.5h4.3v4.6h-4.3zM82.8 8.5h4.3v4.6h-4.3zM48.4 13.1h4.3v4.6h-4.3zM82.8 13.1h4.3v4.6h-4.3zM39.8 17.7h4.3v4.6h-4.3zM52.7 17.7h4.3v4.6h-4.3zM52.7 22.3h4.3v4.6h-4.3zM65.6 22.3h4.3v4.6h-4.3zM78.5 26.9h4.3v4.6h-4.3zM78.5 31.5h4.3v4.6h-4.3zM78.5 40.7h8.6v4.6h-8.6zM65.6 45.3h4.3v4.6h-4.3zM74.2 45.3h4.3v4.6h-4.3zM82.8 45.3h4.3v4.6h-4.3zM82.8 49.9h4.3v4.6h-4.3zM61.3 54.5h4.3v4.6h-4.3zM69.9 54.5h4.3v4.6h-4.3zM57.0 59.1h8.6v4.6h-8.6zM61.3 63.7h4.3v4.6h-4.3zM1.1 68.3h4.3v4.6h-4.3zM35.5 68.3h4.3v4.6h-4.3zM61.3 68.3h4.3v4.6h-4.3zM5.4 72.9h4.3v4.6h-4.3zM35.5 72.9h4.3v4.6h-4.3zM39.8 77.5h4.3v4.6h-4.3zM18.3 82.1h4.3v4.6h-4.3zM48.4 82.1h4.3v4.6h-4.3z"/><path fill="#20f0e8" d="M44.1 8.5h4.3v4.6h-4.3zM57.0 8.5h4.3v4.6h-4.3zM69.9 8.5h4.3v4.6h-4.3zM78.5 8.5h4.3v4.6h-4.3zM44.1 13.1h4.3v4.6h-4.3zM65.6 13.1h4.3v4.6h-4.3zM5.4 17.7h4.3v4.6h-4.3zM26.9 17.7h4.3v4.6h-4.3zM61.3 17.7h12.9v4.6h-12.9zM82.8 17.7h4.3v4.6h-4.3zM5.4 22.3h4.3v4.6h-4.3zM18.3 22.3h4.3v4.6h-4.3zM69.9 22.3h12.9v4.6h-12.9zM1.1 26.9h8.6v4.6h-8.6zM18.3 26.9h4.3v4.6h-4.3zM65.6 26.9h4.3v4.6h-4.3zM74.2 26.9h4.3v4.6h-4.3zM82.8 26.9h4.3v4.6h-4.3zM1.1 31.5h4.3v4.6h-4.3zM14.0 31.5h4.3v4.6h-4.3zM74.2 31.5h4.3v4.6h-4.3zM82.8 31.5h4.3v4.6h-4.3zM1.1 36.1h4.3v4.6h-4.3zM14.0 36.1h4.3v4.6h-4.3zM69.9 36.1h4.3v4.6h-4.3zM78.5 36.1h8.6v4.6h-8.6zM1.1 40.7h4.3v4.6h-4.3zM65.6 40.7h8.6v4.6h-8.6zM78.5 45.3h4.3v4.6h-4.3zM1.1 49.9h4.3v4.6h-4.3zM61.3 49.9h8.6v4.6h-8.6zM1.1 54.5h4.3v4.6h-4.3zM1.1 59.1h4.3v4.6h-4.3zM1.1 63.7h4.3v4.6h-4.3zM14.0 63.7h4.3v4.6h-4.3zM35.5 63.7h4.3v4.6h-4.3zM52.7 63.7h8.6v4.6h-8.6zM9.7 68.3h4.3v4.6h-4.3zM22.6 68.3h4.3v4.6h-4.3zM44.1 68.3h8.6v4.6h-8.6zM22.6 72.9h4.3v4.6h-4.3zM44.1 72.9h4.3v4.6h-4.3zM18.3 77.5h8.6v4.6h-8.6zM39.8 82.1h4.3v4.6h-4.3z"/><path fill="#c0ff40" d="M48.4 8.5h4.3v4.6h-4.3zM44.1 17.7h4.3v4.6h-4.3zM9.7 22.3h4.3v4.6h-4.3zM44.1 22.3h4.3v4.6h-4.3zM22.6 26.9h4.3v4.6h-4.3zM44.1 26.9h8.6v4.6h-8.6zM22.6 31.5h4.3v4.6h-4.3zM18.3 36.1h4.3v4.6h-4.3zM31.2 40.7h4.3v4.6h-4.3zM61.3 40.7h4.3v4.6h-4.3zM74.2 40.7h4.3v4.6h-4.3zM69.9 45.3h4.3v4.6h-4.3zM5.4 49.9h8.6v4.6h-8.6zM22.6 49.9h4.3v4.6h-4.3zM5.4 54.5h8.6v4.6h-8.6zM5.4 59.1h21.5v4.6h-21.5zM18.3 63.7h8.6v4.6h-8.6zM1.1 72.9h4.3v4.6h-4.3zM26.9 72.9h4.3v4.6h-4.3zM14.0 77.5h4.3v4.6h-4.3zM26.9 77.5h4.3v4.6h-4.3z"/><path fill="#000000" d="M1.1 13.1h4.3v4.6h-4.3zM69.9 72.9h4.3v4.6h-4.3zM65.6 77.5h8.6v4.6h-8.6zM35.5 82.1h4.3v4.6h-4.3zM69.9 82.1h4.3v4.6h-4.3z"/><path fill="#78ffa0" d="M35.5 17.7h4.3v4.6h-4.3zM78.5 17.7h4.3v4.6h-4.3zM22.6 22.3h4.3v4.6h-4.3zM57.0 22.3h4.3v4.6h-4.3zM9.7 26.9h4.3v4.6h-4.3zM57.0 26.9h8.6v4.6h-8.6zM69.9 26.9h4.3v4.6h-4.3zM9.7 31.5h4.3v4.6h-4.3zM18.3 31.5h4.3v4.6h-4.3zM61.3 31.5h12.9v4.6h-12.9zM9.7 36.1h4.3v4.6h-4.3zM26.9 36.1h4.3v4.6h-4.3zM65.6 36.1h4.3v4.6h-4.3zM74.2 36.1h4.3v4.6h-4.3zM14.0 40.7h4.3v4.6h-4.3zM9.7 45.3h12.9v4.6h-12.9zM61.3 45.3h4.3v4.6h-4.3zM18.3 49.9h4.3v4.6h-4.3zM5.4 63.7h8.6v4.6h-8.6zM44.1 63.7h8.6v4.6h-8.6zM18.3 68.3h4.3v4.6h-4.3zM18.3 72.9h4.3v4.6h-4.3zM39.8 72.9h4.3v4.6h-4.3zM48.4 72.9h4.3v4.6h-4.3zM31.2 82.1h4.3v4.6h-4.3z"/><path fill="#ececf6" d="M57.0 17.7h4.3v4.6h-4.3zM82.8 22.3h4.3v4.6h-4.3zM5.4 40.7h4.3v4.6h-4.3zM57.0 40.7h4.3v4.6h-4.3zM57.0 45.3h4.3v4.6h-4.3zM57.0 49.9h4.3v4.6h-4.3zM57.0 54.5h4.3v4.6h-4.3z"/><path fill="#fff000" d="M26.9 22.3h17.2v4.6h-17.2zM61.3 22.3h4.3v4.6h-4.3zM26.9 26.9h17.2v4.6h-17.2zM5.4 31.5h4.3v4.6h-4.3zM44.1 31.5h8.6v4.6h-8.6zM57.0 31.5h4.3v4.6h-4.3zM57.0 36.1h8.6v4.6h-8.6zM18.3 40.7h4.3v4.6h-4.3zM26.9 40.7h4.3v4.6h-4.3zM1.1 45.3h4.3v4.6h-4.3zM22.6 45.3h4.3v4.6h-4.3zM26.9 49.9h4.3v4.6h-4.3zM14.0 54.5h12.9v4.6h-12.9zM39.8 54.5h4.3v4.6h-4.3zM35.5 59.1h21.5v4.6h-21.5zM26.9 63.7h4.3v4.6h-4.3zM14.0 68.3h4.3v4.6h-4.3zM26.9 68.3h4.3v4.6h-4.3zM14.0 72.9h4.3v4.6h-4.3zM31.2 77.5h4.3v4.6h-4.3zM44.1 77.5h4.3v4.6h-4.3zM52.7 77.5h4.3v4.6h-4.3zM26.9 82.1h4.3v4.6h-4.3z"/><path fill="#ffa800" d="M48.4 22.3h4.3v4.6h-4.3zM35.5 31.5h4.3v4.6h-4.3zM52.7 31.5h4.3v4.6h-4.3zM5.4 36.1h4.3v4.6h-4.3zM22.6 36.1h4.3v4.6h-4.3zM31.2 36.1h4.3v4.6h-4.3zM44.1 36.1h4.3v4.6h-4.3zM52.7 36.1h4.3v4.6h-4.3zM22.6 40.7h4.3v4.6h-4.3zM52.7 40.7h4.3v4.6h-4.3zM26.9 45.3h8.6v4.6h-8.6zM52.7 45.3h4.3v4.6h-4.3zM14.0 49.9h4.3v4.6h-4.3zM31.2 49.9h8.6v4.6h-8.6zM52.7 49.9h4.3v4.6h-4.3zM69.9 49.9h4.3v4.6h-4.3zM26.9 54.5h4.3v4.6h-4.3zM35.5 54.5h4.3v4.6h-4.3zM44.1 54.5h12.9v4.6h-12.9zM26.9 59.1h4.3v4.6h-4.3zM31.2 63.7h4.3v4.6h-4.3zM39.8 63.7h4.3v4.6h-4.3zM31.2 68.3h4.3v4.6h-4.3zM39.8 68.3h4.3v4.6h-4.3zM31.2 72.9h4.3v4.6h-4.3zM44.1 82.1h4.3v4.6h-4.3z"/><path fill="#ff2000" d="M52.7 26.9h4.3v4.6h-4.3zM26.9 31.5h8.6v4.6h-8.6zM35.5 36.1h8.6v4.6h-8.6zM48.4 36.1h4.3v4.6h-4.3zM35.5 40.7h17.2v4.6h-17.2zM35.5 45.3h17.2v4.6h-17.2zM39.8 49.9h12.9v4.6h-12.9zM31.2 54.5h4.3v4.6h-4.3zM31.2 59.1h4.3v4.6h-4.3zM35.5 77.5h4.3v4.6h-4.3z"/></g><g><rect x="40.55" y="31.40" width="4.00" height="4.00" fill="#f02000" stroke="#000" stroke-width="1.7"/></g></svg>
<svg class="p" style="left:166.4px;top:233.2px" width="87.8" height="85.8" viewBox="0 0 87.8 85.8"><rect width="100%" height="100%" fill="#e3e3e8"/><g filter="url(#bl)" shape-rendering="crispEdges"><path fill="#ffffff" d="M-1.5 -0.6h64.5v4.6h-64.5zM80.2 68.4h4.3v4.6h-4.3zM75.9 73.0h8.6v4.6h-8.6zM11.4 77.6h8.6v4.6h-8.6zM71.6 77.6h12.9v4.6h-12.9zM-1.5 82.2h8.6v4.6h-8.6zM11.4 82.2h8.6v4.6h-8.6zM58.7 82.2h8.6v4.6h-8.6zM71.6 82.2h12.9v4.6h-12.9z"/><path fill="#0048ff" d="M63.0 -0.6h4.3v4.6h-4.3zM80.2 -0.6h4.3v4.6h-4.3zM58.7 17.8h4.3v4.6h-4.3zM11.4 22.4h4.3v4.6h-4.3zM50.1 22.4h4.3v4.6h-4.3zM15.7 27.0h4.3v4.6h-4.3zM71.6 27.0h4.3v4.6h-4.3zM71.6 31.6h4.3v4.6h-4.3zM7.1 40.8h4.3v4.6h-4.3zM84.5 40.8h4.3v4.6h-4.3zM2.8 45.4h4.3v4.6h-4.3zM84.5 45.4h4.3v4.6h-4.3zM80.2 50.0h4.3v4.6h-4.3zM-1.5 59.2h12.9v4.6h-12.9zM2.8 63.8h8.6v4.6h-8.6zM71.6 63.8h4.3v4.6h-4.3zM63.0 73.0h4.3v4.6h-4.3zM50.1 77.6h4.3v4.6h-4.3zM63.0 77.6h4.3v4.6h-4.3zM50.1 82.2h4.3v4.6h-4.3z"/><path fill="#0090ff" d="M67.3 -0.6h12.9v4.6h-12.9zM84.5 -0.6h4.3v4.6h-4.3zM41.5 4.0h4.3v4.6h-4.3zM63.0 4.0h8.6v4.6h-8.6zM50.1 8.6h12.9v4.6h-12.9zM63.0 13.2h4.3v4.6h-4.3zM15.7 17.8h4.3v4.6h-4.3zM24.3 17.8h4.3v4.6h-4.3zM37.2 17.8h4.3v4.6h-4.3zM63.0 17.8h4.3v4.6h-4.3zM-1.5 22.4h4.3v4.6h-4.3zM7.1 22.4h4.3v4.6h-4.3zM15.7 22.4h4.3v4.6h-4.3zM80.2 22.4h4.3v4.6h-4.3zM-1.5 27.0h4.3v4.6h-4.3zM11.4 27.0h4.3v4.6h-4.3zM80.2 27.0h4.3v4.6h-4.3zM-1.5 31.6h4.3v4.6h-4.3zM15.7 31.6h4.3v4.6h-4.3zM80.2 31.6h4.3v4.6h-4.3zM-1.5 36.2h4.3v4.6h-4.3zM20.0 36.2h4.3v4.6h-4.3zM11.4 40.8h4.3v4.6h-4.3zM75.9 40.8h4.3v4.6h-4.3zM-1.5 45.4h4.3v4.6h-4.3zM11.4 45.4h4.3v4.6h-4.3zM24.3 45.4h4.3v4.6h-4.3zM67.3 45.4h4.3v4.6h-4.3zM75.9 45.4h4.3v4.6h-4.3zM75.9 50.0h4.3v4.6h-4.3zM-1.5 54.6h4.3v4.6h-4.3zM75.9 54.6h4.3v4.6h-4.3zM20.0 59.2h4.3v4.6h-4.3zM71.6 59.2h8.6v4.6h-8.6zM-1.5 63.8h4.3v4.6h-4.3zM20.0 63.8h4.3v4.6h-4.3zM54.4 63.8h4.3v4.6h-4.3zM75.9 63.8h4.3v4.6h-4.3zM-1.5 68.4h4.3v4.6h-4.3zM-1.5 73.0h12.9v4.6h-12.9zM2.8 77.6h8.6v4.6h-8.6zM24.3 82.2h4.3v4.6h-4.3z"/><path fill="#000090" d="M-1.5 4.0h34.4v4.6h-34.4zM80.2 4.0h4.3v4.6h-4.3zM7.1 8.6h12.9v4.6h-12.9zM11.4 13.2h12.9v4.6h-12.9zM84.5 50.0h4.3v4.6h-4.3zM80.2 54.6h4.3v4.6h-4.3zM54.4 82.2h4.3v4.6h-4.3z"/><path fill="#20f0e8" d="M45.8 4.0h4.3v4.6h-4.3zM37.2 8.6h8.6v4.6h-8.6zM84.5 8.6h4.3v4.6h-4.3zM50.1 13.2h4.3v4.6h-4.3zM28.6 17.8h8.6v4.6h-8.6zM45.8 17.8h4.3v4.6h-4.3zM54.4 17.8h4.3v4.6h-4.3zM67.3 17.8h4.3v4.6h-4.3zM84.5 17.8h4.3v4.6h-4.3zM28.6 22.4h17.2v4.6h-17.2zM54.4 22.4h4.3v4.6h-4.3zM67.3 22.4h4.3v4.6h-4.3zM75.9 22.4h4.3v4.6h-4.3zM84.5 22.4h4.3v4.6h-4.3zM2.8 27.0h4.3v4.6h-4.3zM37.2 27.0h8.6v4.6h-8.6zM63.0 27.0h8.6v4.6h-8.6zM84.5 27.0h4.3v4.6h-4.3zM11.4 31.6h4.3v4.6h-4.3zM20.0 31.6h4.3v4.6h-4.3zM63.0 31.6h8.6v4.6h-8.6zM75.9 31.6h4.3v4.6h-4.3zM84.5 31.6h4.3v4.6h-4.3zM11.4 36.2h8.6v4.6h-8.6zM75.9 36.2h4.3v4.6h-4.3zM84.5 36.2h4.3v4.6h-4.3zM20.0 40.8h4.3v4.6h-4.3zM63.0 40.8h4.3v4.6h-4.3zM15.7 45.4h8.6v4.6h-8.6zM15.7 50.0h4.3v4.6h-4.3zM24.3 50.0h4.3v4.6h-4.3zM58.7 50.0h4.3v4.6h-4.3zM67.3 50.0h4.3v4.6h-4.3zM15.7 54.6h4.3v4.6h-4.3zM24.3 54.6h4.3v4.6h-4.3zM54.4 54.6h8.6v4.6h-8.6zM24.3 59.2h4.3v4.6h-4.3zM32.9 59.2h8.6v4.6h-8.6zM50.1 59.2h17.2v4.6h-17.2zM24.3 63.8h4.3v4.6h-4.3zM32.9 63.8h8.6v4.6h-8.6zM50.1 63.8h4.3v4.6h-4.3zM58.7 63.8h8.6v4.6h-8.6zM2.8 68.4h4.3v4.6h-4.3zM15.7 68.4h4.3v4.6h-4.3zM28.6 68.4h12.9v4.6h-12.9zM50.1 68.4h17.2v4.6h-17.2zM24.3 73.0h17.2v4.6h-17.2zM50.1 73.0h4.3v4.6h-4.3zM58.7 73.0h4.3v4.6h-4.3zM37.2 82.2h4.3v4.6h-4.3zM67.3 82.2h4.3v4.6h-4.3z"/><path fill="#0010d8" d="M50.1 4.0h8.6v4.6h-8.6zM75.9 4.0h4.3v4.6h-4.3zM84.5 4.0h4.3v4.6h-4.3zM20.0 8.6h4.3v4.6h-4.3zM75.9 8.6h8.6v4.6h-8.6zM24.3 13.2h8.6v4.6h-8.6zM-1.5 17.8h8.6v4.6h-8.6zM80.2 17.8h4.3v4.6h-4.3zM7.1 31.6h4.3v4.6h-4.3zM7.1 36.2h4.3v4.6h-4.3zM80.2 36.2h4.3v4.6h-4.3zM-1.5 40.8h8.6v4.6h-8.6zM80.2 40.8h4.3v4.6h-4.3zM63.0 45.4h4.3v4.6h-4.3zM80.2 45.4h4.3v4.6h-4.3zM84.5 54.6h4.3v4.6h-4.3zM80.2 59.2h4.3v4.6h-4.3zM11.4 73.0h4.3v4.6h-4.3zM24.3 77.6h4.3v4.6h-4.3zM7.1 82.2h4.3v4.6h-4.3zM28.6 82.2h4.3v4.6h-4.3zM45.8 82.2h4.3v4.6h-4.3z"/><path fill="#ececf6" d="M58.7 4.0h4.3v4.6h-4.3zM24.3 8.6h4.3v4.6h-4.3zM32.9 13.2h4.3v4.6h-4.3zM54.4 13.2h4.3v4.6h-4.3zM80.2 13.2h4.3v4.6h-4.3zM7.1 45.4h4.3v4.6h-4.3zM67.3 54.6h4.3v4.6h-4.3z"/><path fill="#00c8ff" d="M71.6 4.0h4.3v4.6h-4.3zM28.6 8.6h8.6v4.6h-8.6zM45.8 8.6h4.3v4.6h-4.3zM63.0 8.6h12.9v4.6h-12.9zM37.2 13.2h4.3v4.6h-4.3zM67.3 13.2h4.3v4.6h-4.3zM84.5 13.2h4.3v4.6h-4.3zM11.4 17.8h4.3v4.6h-4.3zM20.0 17.8h4.3v4.6h-4.3zM41.5 17.8h4.3v4.6h-4.3zM71.6 17.8h8.6v4.6h-8.6zM20.0 22.4h4.3v4.6h-4.3zM63.0 22.4h4.3v4.6h-4.3zM71.6 22.4h4.3v4.6h-4.3zM7.1 27.0h4.3v4.6h-4.3zM20.0 27.0h4.3v4.6h-4.3zM2.8 31.6h4.3v4.6h-4.3zM2.8 36.2h4.3v4.6h-4.3zM24.3 36.2h4.3v4.6h-4.3zM71.6 36.2h4.3v4.6h-4.3zM24.3 40.8h4.3v4.6h-4.3zM71.6 40.8h4.3v4.6h-4.3zM71.6 45.4h4.3v4.6h-4.3zM20.0 50.0h4.3v4.6h-4.3zM63.0 50.0h4.3v4.6h-4.3zM71.6 50.0h4.3v4.6h-4.3zM20.0 54.6h4.3v4.6h-4.3zM50.1 54.6h4.3v4.6h-4.3zM71.6 54.6h4.3v4.6h-4.3zM15.7 59.2h4.3v4.6h-4.3zM67.3 59.2h4.3v4.6h-4.3zM11.4 63.8h8.6v4.6h-8.6zM67.3 63.8h4.3v4.6h-4.3zM7.1 68.4h8.6v4.6h-8.6zM20.0 68.4h4.3v4.6h-4.3zM67.3 68.4h8.6v4.6h-8.6zM15.7 73.0h8.6v4.6h-8.6zM54.4 73.0h4.3v4.6h-4.3zM67.3 73.0h8.6v4.6h-8.6zM20.0 77.6h4.3v4.6h-4.3zM67.3 77.6h4.3v4.6h-4.3zM20.0 82.2h4.3v4.6h-4.3zM41.5 82.2h4.3v4.6h-4.3z"/><path fill="#c0ff40" d="M41.5 13.2h4.3v4.6h-4.3zM75.9 13.2h4.3v4.6h-4.3zM32.9 27.0h4.3v4.6h-4.3zM45.8 27.0h4.3v4.6h-4.3zM54.4 27.0h4.3v4.6h-4.3zM24.3 31.6h8.6v4.6h-8.6zM58.7 36.2h8.6v4.6h-8.6zM54.4 40.8h4.3v4.6h-4.3zM28.6 45.4h4.3v4.6h-4.3zM54.4 45.4h4.3v4.6h-4.3zM-1.5 50.0h4.3v4.6h-4.3zM28.6 50.0h12.9v4.6h-12.9zM45.8 50.0h4.3v4.6h-4.3zM28.6 54.6h12.9v4.6h-12.9zM41.5 59.2h8.6v4.6h-8.6zM41.5 63.8h4.3v4.6h-4.3zM45.8 73.0h4.3v4.6h-4.3zM28.6 77.6h21.5v4.6h-21.5zM54.4 77.6h8.6v4.6h-8.6zM32.9 82.2h4.3v4.6h-4.3z"/><path fill="#78ffa0" d="M45.8 13.2h4.3v4.6h-4.3zM71.6 13.2h4.3v4.6h-4.3zM50.1 17.8h4.3v4.6h-4.3zM2.8 22.4h4.3v4.6h-4.3zM24.3 22.4h4.3v4.6h-4.3zM45.8 22.4h4.3v4.6h-4.3zM58.7 22.4h4.3v4.6h-4.3zM24.3 27.0h8.6v4.6h-8.6zM50.1 27.0h4.3v4.6h-4.3zM58.7 27.0h4.3v4.6h-4.3zM75.9 27.0h4.3v4.6h-4.3zM54.4 31.6h8.6v4.6h-8.6zM54.4 36.2h4.3v4.6h-4.3zM67.3 36.2h4.3v4.6h-4.3zM15.7 40.8h4.3v4.6h-4.3zM58.7 40.8h4.3v4.6h-4.3zM67.3 40.8h4.3v4.6h-4.3zM58.7 45.4h4.3v4.6h-4.3zM50.1 50.0h8.6v4.6h-8.6zM45.8 54.6h4.3v4.6h-4.3zM63.0 54.6h4.3v4.6h-4.3zM28.6 59.2h4.3v4.6h-4.3zM28.6 63.8h4.3v4.6h-4.3zM45.8 63.8h4.3v4.6h-4.3zM24.3 68.4h4.3v4.6h-4.3zM45.8 68.4h4.3v4.6h-4.3zM41.5 73.0h4.3v4.6h-4.3z"/><path fill="#ffa800" d="M58.7 13.2h4.3v4.6h-4.3zM32.9 31.6h4.3v4.6h-4.3zM50.1 31.6h4.3v4.6h-4.3zM32.9 36.2h4.3v4.6h-4.3zM41.5 36.2h12.9v4.6h-12.9zM28.6 40.8h8.6v4.6h-8.6zM41.5 40.8h12.9v4.6h-12.9zM41.5 45.4h8.6v4.6h-8.6zM41.5 50.0h4.3v4.6h-4.3z"/><path fill="#fff000" d="M37.2 31.6h4.3v4.6h-4.3zM45.8 31.6h4.3v4.6h-4.3zM28.6 36.2h4.3v4.6h-4.3zM37.2 36.2h4.3v4.6h-4.3zM37.2 40.8h4.3v4.6h-4.3zM32.9 45.4h8.6v4.6h-8.6zM50.1 45.4h4.3v4.6h-4.3zM41.5 54.6h4.3v4.6h-4.3zM41.5 68.4h4.3v4.6h-4.3z"/></g><g opacity="0.35" shape-rendering="crispEdges"><path fill="#ffffff" d="M-1.5 -0.6h64.5v4.6h-64.5zM80.2 68.4h4.3v4.6h-4.3zM75.9 73.0h8.6v4.6h-8.6zM11.4 77.6h8.6v4.6h-8.6zM71.6 77.6h12.9v4.6h-12.9zM-1.5 82.2h8.6v4.6h-8.6zM11.4 82.2h8.6v4.6h-8.6zM58.7 82.2h8.6v4.6h-8.6zM71.6 82.2h12.9v4.6h-12.9z"/><path fill="#0048ff" d="M63.0 -0.6h4.3v4.6h-4.3zM80.2 -0.6h4.3v4.6h-4.3zM58.7 17.8h4.3v4.6h-4.3zM11.4 22.4h4.3v4.6h-4.3zM50.1 22.4h4.3v4.6h-4.3zM15.7 27.0h4.3v4.6h-4.3zM71.6 27.0h4.3v4.6h-4.3zM71.6 31.6h4.3v4.6h-4.3zM7.1 40.8h4.3v4.6h-4.3zM84.5 40.8h4.3v4.6h-4.3zM2.8 45.4h4.3v4.6h-4.3zM84.5 45.4h4.3v4.6h-4.3zM80.2 50.0h4.3v4.6h-4.3zM-1.5 59.2h12.9v4.6h-12.9zM2.8 63.8h8.6v4.6h-8.6zM71.6 63.8h4.3v4.6h-4.3zM63.0 73.0h4.3v4.6h-4.3zM50.1 77.6h4.3v4.6h-4.3zM63.0 77.6h4.3v4.6h-4.3zM50.1 82.2h4.3v4.6h-4.3z"/><path fill="#0090ff" d="M67.3 -0.6h12.9v4.6h-12.9zM84.5 -0.6h4.3v4.6h-4.3zM41.5 4.0h4.3v4.6h-4.3zM63.0 4.0h8.6v4.6h-8.6zM50.1 8.6h12.9v4.6h-12.9zM63.0 13.2h4.3v4.6h-4.3zM15.7 17.8h4.3v4.6h-4.3zM24.3 17.8h4.3v4.6h-4.3zM37.2 17.8h4.3v4.6h-4.3zM63.0 17.8h4.3v4.6h-4.3zM-1.5 22.4h4.3v4.6h-4.3zM7.1 22.4h4.3v4.6h-4.3zM15.7 22.4h4.3v4.6h-4.3zM80.2 22.4h4.3v4.6h-4.3zM-1.5 27.0h4.3v4.6h-4.3zM11.4 27.0h4.3v4.6h-4.3zM80.2 27.0h4.3v4.6h-4.3zM-1.5 31.6h4.3v4.6h-4.3zM15.7 31.6h4.3v4.6h-4.3zM80.2 31.6h4.3v4.6h-4.3zM-1.5 36.2h4.3v4.6h-4.3zM20.0 36.2h4.3v4.6h-4.3zM11.4 40.8h4.3v4.6h-4.3zM75.9 40.8h4.3v4.6h-4.3zM-1.5 45.4h4.3v4.6h-4.3zM11.4 45.4h4.3v4.6h-4.3zM24.3 45.4h4.3v4.6h-4.3zM67.3 45.4h4.3v4.6h-4.3zM75.9 45.4h4.3v4.6h-4.3zM75.9 50.0h4.3v4.6h-4.3zM-1.5 54.6h4.3v4.6h-4.3zM75.9 54.6h4.3v4.6h-4.3zM20.0 59.2h4.3v4.6h-4.3zM71.6 59.2h8.6v4.6h-8.6zM-1.5 63.8h4.3v4.6h-4.3zM20.0 63.8h4.3v4.6h-4.3zM54.4 63.8h4.3v4.6h-4.3zM75.9 63.8h4.3v4.6h-4.3zM-1.5 68.4h4.3v4.6h-4.3zM-1.5 73.0h12.9v4.6h-12.9zM2.8 77.6h8.6v4.6h-8.6zM24.3 82.2h4.3v4.6h-4.3z"/><path fill="#000090" d="M-1.5 4.0h34.4v4.6h-34.4zM80.2 4.0h4.3v4.6h-4.3zM7.1 8.6h12.9v4.6h-12.9zM11.4 13.2h12.9v4.6h-12.9zM84.5 50.0h4.3v4.6h-4.3zM80.2 54.6h4.3v4.6h-4.3zM54.4 82.2h4.3v4.6h-4.3z"/><path fill="#20f0e8" d="M45.8 4.0h4.3v4.6h-4.3zM37.2 8.6h8.6v4.6h-8.6zM84.5 8.6h4.3v4.6h-4.3zM50.1 13.2h4.3v4.6h-4.3zM28.6 17.8h8.6v4.6h-8.6zM45.8 17.8h4.3v4.6h-4.3zM54.4 17.8h4.3v4.6h-4.3zM67.3 17.8h4.3v4.6h-4.3zM84.5 17.8h4.3v4.6h-4.3zM28.6 22.4h17.2v4.6h-17.2zM54.4 22.4h4.3v4.6h-4.3zM67.3 22.4h4.3v4.6h-4.3zM75.9 22.4h4.3v4.6h-4.3zM84.5 22.4h4.3v4.6h-4.3zM2.8 27.0h4.3v4.6h-4.3zM37.2 27.0h8.6v4.6h-8.6zM63.0 27.0h8.6v4.6h-8.6zM84.5 27.0h4.3v4.6h-4.3zM11.4 31.6h4.3v4.6h-4.3zM20.0 31.6h4.3v4.6h-4.3zM63.0 31.6h8.6v4.6h-8.6zM75.9 31.6h4.3v4.6h-4.3zM84.5 31.6h4.3v4.6h-4.3zM11.4 36.2h8.6v4.6h-8.6zM75.9 36.2h4.3v4.6h-4.3zM84.5 36.2h4.3v4.6h-4.3zM20.0 40.8h4.3v4.6h-4.3zM63.0 40.8h4.3v4.6h-4.3zM15.7 45.4h8.6v4.6h-8.6zM15.7 50.0h4.3v4.6h-4.3zM24.3 50.0h4.3v4.6h-4.3zM58.7 50.0h4.3v4.6h-4.3zM67.3 50.0h4.3v4.6h-4.3zM15.7 54.6h4.3v4.6h-4.3zM24.3 54.6h4.3v4.6h-4.3zM54.4 54.6h8.6v4.6h-8.6zM24.3 59.2h4.3v4.6h-4.3zM32.9 59.2h8.6v4.6h-8.6zM50.1 59.2h17.2v4.6h-17.2zM24.3 63.8h4.3v4.6h-4.3zM32.9 63.8h8.6v4.6h-8.6zM50.1 63.8h4.3v4.6h-4.3zM58.7 63.8h8.6v4.6h-8.6zM2.8 68.4h4.3v4.6h-4.3zM15.7 68.4h4.3v4.6h-4.3zM28.6 68.4h12.9v4.6h-12.9zM50.1 68.4h17.2v4.6h-17.2zM24.3 73.0h17.2v4.6h-17.2zM50.1 73.0h4.3v4.6h-4.3zM58.7 73.0h4.3v4.6h-4.3zM37.2 82.2h4.3v4.6h-4.3zM67.3 82.2h4.3v4.6h-4.3z"/><path fill="#0010d8" d="M50.1 4.0h8.6v4.6h-8.6zM75.9 4.0h4.3v4.6h-4.3zM84.5 4.0h4.3v4.6h-4.3zM20.0 8.6h4.3v4.6h-4.3zM75.9 8.6h8.6v4.6h-8.6zM24.3 13.2h8.6v4.6h-8.6zM-1.5 17.8h8.6v4.6h-8.6zM80.2 17.8h4.3v4.6h-4.3zM7.1 31.6h4.3v4.6h-4.3zM7.1 36.2h4.3v4.6h-4.3zM80.2 36.2h4.3v4.6h-4.3zM-1.5 40.8h8.6v4.6h-8.6zM80.2 40.8h4.3v4.6h-4.3zM63.0 45.4h4.3v4.6h-4.3zM80.2 45.4h4.3v4.6h-4.3zM84.5 54.6h4.3v4.6h-4.3zM80.2 59.2h4.3v4.6h-4.3zM11.4 73.0h4.3v4.6h-4.3zM24.3 77.6h4.3v4.6h-4.3zM7.1 82.2h4.3v4.6h-4.3zM28.6 82.2h4.3v4.6h-4.3zM45.8 82.2h4.3v4.6h-4.3z"/><path fill="#ececf6" d="M58.7 4.0h4.3v4.6h-4.3zM24.3 8.6h4.3v4.6h-4.3zM32.9 13.2h4.3v4.6h-4.3zM54.4 13.2h4.3v4.6h-4.3zM80.2 13.2h4.3v4.6h-4.3zM7.1 45.4h4.3v4.6h-4.3zM67.3 54.6h4.3v4.6h-4.3z"/><path fill="#00c8ff" d="M71.6 4.0h4.3v4.6h-4.3zM28.6 8.6h8.6v4.6h-8.6zM45.8 8.6h4.3v4.6h-4.3zM63.0 8.6h12.9v4.6h-12.9zM37.2 13.2h4.3v4.6h-4.3zM67.3 13.2h4.3v4.6h-4.3zM84.5 13.2h4.3v4.6h-4.3zM11.4 17.8h4.3v4.6h-4.3zM20.0 17.8h4.3v4.6h-4.3zM41.5 17.8h4.3v4.6h-4.3zM71.6 17.8h8.6v4.6h-8.6zM20.0 22.4h4.3v4.6h-4.3zM63.0 22.4h4.3v4.6h-4.3zM71.6 22.4h4.3v4.6h-4.3zM7.1 27.0h4.3v4.6h-4.3zM20.0 27.0h4.3v4.6h-4.3zM2.8 31.6h4.3v4.6h-4.3zM2.8 36.2h4.3v4.6h-4.3zM24.3 36.2h4.3v4.6h-4.3zM71.6 36.2h4.3v4.6h-4.3zM24.3 40.8h4.3v4.6h-4.3zM71.6 40.8h4.3v4.6h-4.3zM71.6 45.4h4.3v4.6h-4.3zM20.0 50.0h4.3v4.6h-4.3zM63.0 50.0h4.3v4.6h-4.3zM71.6 50.0h4.3v4.6h-4.3zM20.0 54.6h4.3v4.6h-4.3zM50.1 54.6h4.3v4.6h-4.3zM71.6 54.6h4.3v4.6h-4.3zM15.7 59.2h4.3v4.6h-4.3zM67.3 59.2h4.3v4.6h-4.3zM11.4 63.8h8.6v4.6h-8.6zM67.3 63.8h4.3v4.6h-4.3zM7.1 68.4h8.6v4.6h-8.6zM20.0 68.4h4.3v4.6h-4.3zM67.3 68.4h8.6v4.6h-8.6zM15.7 73.0h8.6v4.6h-8.6zM54.4 73.0h4.3v4.6h-4.3zM67.3 73.0h8.6v4.6h-8.6zM20.0 77.6h4.3v4.6h-4.3zM67.3 77.6h4.3v4.6h-4.3zM20.0 82.2h4.3v4.6h-4.3zM41.5 82.2h4.3v4.6h-4.3z"/><path fill="#c0ff40" d="M41.5 13.2h4.3v4.6h-4.3zM75.9 13.2h4.3v4.6h-4.3zM32.9 27.0h4.3v4.6h-4.3zM45.8 27.0h4.3v4.6h-4.3zM54.4 27.0h4.3v4.6h-4.3zM24.3 31.6h8.6v4.6h-8.6zM58.7 36.2h8.6v4.6h-8.6zM54.4 40.8h4.3v4.6h-4.3zM28.6 45.4h4.3v4.6h-4.3zM54.4 45.4h4.3v4.6h-4.3zM-1.5 50.0h4.3v4.6h-4.3zM28.6 50.0h12.9v4.6h-12.9zM45.8 50.0h4.3v4.6h-4.3zM28.6 54.6h12.9v4.6h-12.9zM41.5 59.2h8.6v4.6h-8.6zM41.5 63.8h4.3v4.6h-4.3zM45.8 73.0h4.3v4.6h-4.3zM28.6 77.6h21.5v4.6h-21.5zM54.4 77.6h8.6v4.6h-8.6zM32.9 82.2h4.3v4.6h-4.3z"/><path fill="#78ffa0" d="M45.8 13.2h4.3v4.6h-4.3zM71.6 13.2h4.3v4.6h-4.3zM50.1 17.8h4.3v4.6h-4.3zM2.8 22.4h4.3v4.6h-4.3zM24.3 22.4h4.3v4.6h-4.3zM45.8 22.4h4.3v4.6h-4.3zM58.7 22.4h4.3v4.6h-4.3zM24.3 27.0h8.6v4.6h-8.6zM50.1 27.0h4.3v4.6h-4.3zM58.7 27.0h4.3v4.6h-4.3zM75.9 27.0h4.3v4.6h-4.3zM54.4 31.6h8.6v4.6h-8.6zM54.4 36.2h4.3v4.6h-4.3zM67.3 36.2h4.3v4.6h-4.3zM15.7 40.8h4.3v4.6h-4.3zM58.7 40.8h4.3v4.6h-4.3zM67.3 40.8h4.3v4.6h-4.3zM58.7 45.4h4.3v4.6h-4.3zM50.1 50.0h8.6v4.6h-8.6zM45.8 54.6h4.3v4.6h-4.3zM63.0 54.6h4.3v4.6h-4.3zM28.6 59.2h4.3v4.6h-4.3zM28.6 63.8h4.3v4.6h-4.3zM45.8 63.8h4.3v4.6h-4.3zM24.3 68.4h4.3v4.6h-4.3zM45.8 68.4h4.3v4.6h-4.3zM41.5 73.0h4.3v4.6h-4.3z"/><path fill="#ffa800" d="M58.7 13.2h4.3v4.6h-4.3zM32.9 31.6h4.3v4.6h-4.3zM50.1 31.6h4.3v4.6h-4.3zM32.9 36.2h4.3v4.6h-4.3zM41.5 36.2h12.9v4.6h-12.9zM28.6 40.8h8.6v4.6h-8.6zM41.5 40.8h12.9v4.6h-12.9zM41.5 45.4h8.6v4.6h-8.6zM41.5 50.0h4.3v4.6h-4.3z"/><path fill="#fff000" d="M37.2 31.6h4.3v4.6h-4.3zM45.8 31.6h4.3v4.6h-4.3zM28.6 36.2h4.3v4.6h-4.3zM37.2 36.2h4.3v4.6h-4.3zM37.2 40.8h4.3v4.6h-4.3zM32.9 45.4h8.6v4.6h-8.6zM50.1 45.4h4.3v4.6h-4.3zM41.5 54.6h4.3v4.6h-4.3zM41.5 68.4h4.3v4.6h-4.3z"/></g><g><rect x="42.25" y="31.50" width="4.00" height="4.00" fill="#ff9000" stroke="#000" stroke-width="1.7"/></g></svg>
<svg class="p" style="left:254.2px;top:233.2px" width="85.5" height="85.8" viewBox="0 0 85.5 85.8"><rect width="100%" height="100%" fill="#e3e3e8"/><g filter="url(#bl)" shape-rendering="crispEdges"><path fill="#ffffff" d="M-2.3 -0.2h60.2v4.6h-60.2zM70.8 -0.2h8.6v4.6h-8.6zM70.8 73.4h4.3v4.6h-4.3zM79.4 73.4h4.3v4.6h-4.3zM62.2 78.0h4.3v4.6h-4.3zM70.8 78.0h12.9v4.6h-12.9zM-2.3 82.6h21.5v4.6h-21.5zM49.3 82.6h34.4v4.6h-34.4z"/><path fill="#000000" d="M57.9 -0.2h4.3v4.6h-4.3zM49.3 4.4h8.6v4.6h-8.6zM6.3 9.0h12.9v4.6h-12.9zM27.8 9.0h8.6v4.6h-8.6z"/><path fill="#000090" d="M-2.3 4.4h8.6v4.6h-8.6zM27.8 4.4h8.6v4.6h-8.6zM57.9 9.0h12.9v4.6h-12.9zM79.4 27.4h4.3v4.6h-4.3zM-2.3 36.6h8.6v4.6h-8.6zM10.6 55.0h4.3v4.6h-4.3zM75.1 55.0h4.3v4.6h-4.3zM-2.3 59.6h8.6v4.6h-8.6zM10.6 59.6h12.9v4.6h-12.9zM79.4 59.6h4.3v4.6h-4.3zM14.9 64.2h4.3v4.6h-4.3zM-2.3 68.8h8.6v4.6h-8.6zM14.9 68.8h4.3v4.6h-4.3zM70.8 68.8h4.3v4.6h-4.3zM2.0 73.4h4.3v4.6h-4.3zM14.9 73.4h4.3v4.6h-4.3zM32.1 73.4h4.3v4.6h-4.3zM75.1 73.4h4.3v4.6h-4.3zM19.2 78.0h4.3v4.6h-4.3zM32.1 78.0h4.3v4.6h-4.3z"/><path fill="#0090ff" d="M10.6 4.4h8.6v4.6h-8.6zM49.3 13.6h8.6v4.6h-8.6zM19.2 18.2h4.3v4.6h-4.3zM27.8 18.2h4.3v4.6h-4.3zM36.4 18.2h8.6v4.6h-8.6zM53.6 18.2h4.3v4.6h-4.3zM62.2 18.2h8.6v4.6h-8.6zM75.1 18.2h8.6v4.6h-8.6zM19.2 22.8h8.6v4.6h-8.6zM32.1 22.8h4.3v4.6h-4.3zM40.7 22.8h21.5v4.6h-21.5zM75.1 22.8h4.3v4.6h-4.3zM83.7 22.8h4.3v4.6h-4.3zM14.9 27.4h4.3v4.6h-4.3zM23.5 27.4h8.6v4.6h-8.6zM45.0 27.4h4.3v4.6h-4.3zM53.6 27.4h4.3v4.6h-4.3zM70.8 27.4h8.6v4.6h-8.6zM83.7 27.4h4.3v4.6h-4.3zM66.5 32.0h4.3v4.6h-4.3zM75.1 32.0h12.9v4.6h-12.9zM6.3 36.6h4.3v4.6h-4.3zM23.5 36.6h4.3v4.6h-4.3zM75.1 36.6h4.3v4.6h-4.3zM83.7 36.6h4.3v4.6h-4.3zM6.3 41.2h8.6v4.6h-8.6zM75.1 41.2h4.3v4.6h-4.3zM66.5 45.8h4.3v4.6h-4.3zM75.1 45.8h4.3v4.6h-4.3zM19.2 50.4h12.9v4.6h-12.9zM49.3 50.4h4.3v4.6h-4.3zM62.2 50.4h8.6v4.6h-8.6zM23.5 55.0h4.3v4.6h-4.3zM49.3 55.0h8.6v4.6h-8.6zM62.2 55.0h8.6v4.6h-8.6zM36.4 59.6h8.6v4.6h-8.6zM53.6 59.6h8.6v4.6h-8.6zM66.5 59.6h4.3v4.6h-4.3zM36.4 64.2h4.3v4.6h-4.3zM57.9 64.2h4.3v4.6h-4.3zM66.5 64.2h4.3v4.6h-4.3zM49.3 68.8h4.3v4.6h-4.3zM57.9 68.8h4.3v4.6h-4.3zM27.8 73.4h4.3v4.6h-4.3zM36.4 73.4h4.3v4.6h-4.3zM49.3 73.4h8.6v4.6h-8.6zM62.2 73.4h8.6v4.6h-8.6zM27.8 78.0h4.3v4.6h-4.3zM49.3 78.0h8.6v4.6h-8.6zM66.5 78.0h4.3v4.6h-4.3zM45.0 82.6h4.3v4.6h-4.3z"/><path fill="#0010d8" d="M19.2 4.4h8.6v4.6h-8.6zM36.4 4.4h4.3v4.6h-4.3zM45.0 4.4h4.3v4.6h-4.3zM57.9 4.4h4.3v4.6h-4.3zM40.7 9.0h4.3v4.6h-4.3zM36.4 13.6h4.3v4.6h-4.3zM-2.3 18.2h4.3v4.6h-4.3zM23.5 18.2h4.3v4.6h-4.3zM-2.3 22.8h4.3v4.6h-4.3zM14.9 22.8h4.3v4.6h-4.3zM-2.3 27.4h12.9v4.6h-12.9zM66.5 27.4h4.3v4.6h-4.3zM-2.3 32.0h4.3v4.6h-4.3zM10.6 32.0h4.3v4.6h-4.3zM-2.3 41.2h4.3v4.6h-4.3zM79.4 41.2h4.3v4.6h-4.3zM-2.3 45.8h4.3v4.6h-4.3zM79.4 45.8h4.3v4.6h-4.3zM6.3 50.4h12.9v4.6h-12.9zM70.8 50.4h12.9v4.6h-12.9zM6.3 55.0h4.3v4.6h-4.3zM14.9 55.0h4.3v4.6h-4.3zM70.8 55.0h4.3v4.6h-4.3zM79.4 55.0h4.3v4.6h-4.3zM23.5 59.6h8.6v4.6h-8.6zM70.8 59.6h8.6v4.6h-8.6zM19.2 64.2h12.9v4.6h-12.9zM75.1 64.2h8.6v4.6h-8.6zM6.3 68.8h8.6v4.6h-8.6zM19.2 68.8h4.3v4.6h-4.3zM32.1 68.8h4.3v4.6h-4.3zM75.1 68.8h8.6v4.6h-8.6zM-2.3 73.4h4.3v4.6h-4.3zM6.3 73.4h8.6v4.6h-8.6zM19.2 73.4h4.3v4.6h-4.3zM-2.3 78.0h21.5v4.6h-21.5z"/><path fill="#ececf6" d="M40.7 4.4h4.3v4.6h-4.3zM36.4 9.0h4.3v4.6h-4.3zM45.0 9.0h4.3v4.6h-4.3zM53.6 9.0h4.3v4.6h-4.3zM70.8 9.0h4.3v4.6h-4.3zM2.0 41.2h4.3v4.6h-4.3zM2.0 50.4h4.3v4.6h-4.3zM10.6 64.2h4.3v4.6h-4.3z"/><path fill="#0048ff" d="M70.8 4.4h8.6v4.6h-8.6zM23.5 9.0h4.3v4.6h-4.3zM75.1 9.0h4.3v4.6h-4.3zM6.3 13.6h8.6v4.6h-8.6zM23.5 13.6h4.3v4.6h-4.3zM75.1 13.6h4.3v4.6h-4.3zM2.0 18.2h12.9v4.6h-12.9zM32.1 18.2h4.3v4.6h-4.3zM45.0 18.2h4.3v4.6h-4.3zM57.9 18.2h4.3v4.6h-4.3zM70.8 18.2h4.3v4.6h-4.3zM83.7 18.2h4.3v4.6h-4.3zM2.0 22.8h12.9v4.6h-12.9zM36.4 22.8h4.3v4.6h-4.3zM66.5 22.8h8.6v4.6h-8.6zM10.6 27.4h4.3v4.6h-4.3zM19.2 27.4h4.3v4.6h-4.3zM32.1 27.4h4.3v4.6h-4.3zM2.0 32.0h8.6v4.6h-8.6zM70.8 32.0h4.3v4.6h-4.3zM10.6 36.6h4.3v4.6h-4.3zM70.8 36.6h4.3v4.6h-4.3zM79.4 36.6h4.3v4.6h-4.3zM14.9 41.2h4.3v4.6h-4.3zM2.0 45.8h17.2v4.6h-17.2zM-2.3 50.4h4.3v4.6h-4.3zM57.9 50.4h4.3v4.6h-4.3zM-2.3 55.0h8.6v4.6h-8.6zM19.2 55.0h4.3v4.6h-4.3zM27.8 55.0h4.3v4.6h-4.3zM57.9 55.0h4.3v4.6h-4.3zM6.3 59.6h4.3v4.6h-4.3zM32.1 59.6h4.3v4.6h-4.3zM-2.3 64.2h12.9v4.6h-12.9zM32.1 64.2h4.3v4.6h-4.3zM40.7 64.2h4.3v4.6h-4.3zM70.8 64.2h4.3v4.6h-4.3zM23.5 68.8h8.6v4.6h-8.6zM36.4 68.8h8.6v4.6h-8.6zM53.6 68.8h4.3v4.6h-4.3zM62.2 68.8h8.6v4.6h-8.6zM23.5 73.4h4.3v4.6h-4.3zM40.7 73.4h4.3v4.6h-4.3zM23.5 78.0h4.3v4.6h-4.3zM36.4 78.0h8.6v4.6h-8.6zM19.2 82.6h17.2v4.6h-17.2zM40.7 82.6h4.3v4.6h-4.3z"/><path fill="#00c8ff" d="M49.3 9.0h4.3v4.6h-4.3zM40.7 13.6h4.3v4.6h-4.3zM14.9 18.2h4.3v4.6h-4.3zM49.3 18.2h4.3v4.6h-4.3zM27.8 22.8h4.3v4.6h-4.3zM62.2 22.8h4.3v4.6h-4.3zM40.7 27.4h4.3v4.6h-4.3zM49.3 27.4h4.3v4.6h-4.3zM57.9 27.4h8.6v4.6h-8.6zM14.9 32.0h12.9v4.6h-12.9zM49.3 32.0h8.6v4.6h-8.6zM14.9 36.6h8.6v4.6h-8.6zM27.8 36.6h4.3v4.6h-4.3zM53.6 36.6h8.6v4.6h-8.6zM66.5 36.6h4.3v4.6h-4.3zM19.2 41.2h8.6v4.6h-8.6zM53.6 41.2h17.2v4.6h-17.2zM23.5 45.8h8.6v4.6h-8.6zM53.6 45.8h12.9v4.6h-12.9zM70.8 45.8h4.3v4.6h-4.3zM40.7 50.4h4.3v4.6h-4.3zM53.6 50.4h4.3v4.6h-4.3zM32.1 55.0h4.3v4.6h-4.3zM40.7 55.0h4.3v4.6h-4.3zM49.3 59.6h4.3v4.6h-4.3zM45.0 64.2h12.9v4.6h-12.9zM45.0 73.4h4.3v4.6h-4.3zM45.0 78.0h4.3v4.6h-4.3zM57.9 78.0h4.3v4.6h-4.3z"/><path fill="#20f0e8" d="M45.0 13.6h4.3v4.6h-4.3zM70.8 13.6h4.3v4.6h-4.3zM79.4 13.6h8.6v4.6h-8.6zM36.4 27.4h4.3v4.6h-4.3zM27.8 32.0h4.3v4.6h-4.3zM57.9 32.0h4.3v4.6h-4.3zM32.1 36.6h4.3v4.6h-4.3zM62.2 36.6h4.3v4.6h-4.3zM27.8 41.2h8.6v4.6h-8.6zM70.8 41.2h4.3v4.6h-4.3zM19.2 45.8h4.3v4.6h-4.3zM32.1 45.8h4.3v4.6h-4.3zM49.3 45.8h4.3v4.6h-4.3zM32.1 50.4h4.3v4.6h-4.3zM45.0 50.4h4.3v4.6h-4.3zM45.0 59.6h4.3v4.6h-4.3zM45.0 68.8h4.3v4.6h-4.3zM57.9 73.4h4.3v4.6h-4.3z"/><path fill="#78ffa0" d="M79.4 22.8h4.3v4.6h-4.3zM32.1 32.0h8.6v4.6h-8.6zM45.0 32.0h4.3v4.6h-4.3zM62.2 32.0h4.3v4.6h-4.3zM49.3 36.6h4.3v4.6h-4.3zM36.4 41.2h4.3v4.6h-4.3zM49.3 41.2h4.3v4.6h-4.3zM36.4 50.4h4.3v4.6h-4.3zM36.4 55.0h4.3v4.6h-4.3zM45.0 55.0h4.3v4.6h-4.3zM62.2 59.6h4.3v4.6h-4.3z"/><path fill="#fff000" d="M36.4 36.6h8.6v4.6h-8.6zM45.0 41.2h4.3v4.6h-4.3zM40.7 45.8h4.3v4.6h-4.3z"/><path fill="#ffa800" d="M45.0 36.6h4.3v4.6h-4.3zM40.7 41.2h4.3v4.6h-4.3z"/><path fill="#c0ff40" d="M36.4 45.8h4.3v4.6h-4.3zM45.0 45.8h4.3v4.6h-4.3zM62.2 64.2h4.3v4.6h-4.3zM36.4 82.6h4.3v4.6h-4.3z"/></g><g opacity="0.35" shape-rendering="crispEdges"><path fill="#ffffff" d="M-2.3 -0.2h60.2v4.6h-60.2zM70.8 -0.2h8.6v4.6h-8.6zM70.8 73.4h4.3v4.6h-4.3zM79.4 73.4h4.3v4.6h-4.3zM62.2 78.0h4.3v4.6h-4.3zM70.8 78.0h12.9v4.6h-12.9zM-2.3 82.6h21.5v4.6h-21.5zM49.3 82.6h34.4v4.6h-34.4z"/><path fill="#000000" d="M57.9 -0.2h4.3v4.6h-4.3zM49.3 4.4h8.6v4.6h-8.6zM6.3 9.0h12.9v4.6h-12.9zM27.8 9.0h8.6v4.6h-8.6z"/><path fill="#000090" d="M-2.3 4.4h8.6v4.6h-8.6zM27.8 4.4h8.6v4.6h-8.6zM57.9 9.0h12.9v4.6h-12.9zM79.4 27.4h4.3v4.6h-4.3zM-2.3 36.6h8.6v4.6h-8.6zM10.6 55.0h4.3v4.6h-4.3zM75.1 55.0h4.3v4.6h-4.3zM-2.3 59.6h8.6v4.6h-8.6zM10.6 59.6h12.9v4.6h-12.9zM79.4 59.6h4.3v4.6h-4.3zM14.9 64.2h4.3v4.6h-4.3zM-2.3 68.8h8.6v4.6h-8.6zM14.9 68.8h4.3v4.6h-4.3zM70.8 68.8h4.3v4.6h-4.3zM2.0 73.4h4.3v4.6h-4.3zM14.9 73.4h4.3v4.6h-4.3zM32.1 73.4h4.3v4.6h-4.3zM75.1 73.4h4.3v4.6h-4.3zM19.2 78.0h4.3v4.6h-4.3zM32.1 78.0h4.3v4.6h-4.3z"/><path fill="#0090ff" d="M10.6 4.4h8.6v4.6h-8.6zM49.3 13.6h8.6v4.6h-8.6zM19.2 18.2h4.3v4.6h-4.3zM27.8 18.2h4.3v4.6h-4.3zM36.4 18.2h8.6v4.6h-8.6zM53.6 18.2h4.3v4.6h-4.3zM62.2 18.2h8.6v4.6h-8.6zM75.1 18.2h8.6v4.6h-8.6zM19.2 22.8h8.6v4.6h-8.6zM32.1 22.8h4.3v4.6h-4.3zM40.7 22.8h21.5v4.6h-21.5zM75.1 22.8h4.3v4.6h-4.3zM83.7 22.8h4.3v4.6h-4.3zM14.9 27.4h4.3v4.6h-4.3zM23.5 27.4h8.6v4.6h-8.6zM45.0 27.4h4.3v4.6h-4.3zM53.6 27.4h4.3v4.6h-4.3zM70.8 27.4h8.6v4.6h-8.6zM83.7 27.4h4.3v4.6h-4.3zM66.5 32.0h4.3v4.6h-4.3zM75.1 32.0h12.9v4.6h-12.9zM6.3 36.6h4.3v4.6h-4.3zM23.5 36.6h4.3v4.6h-4.3zM75.1 36.6h4.3v4.6h-4.3zM83.7 36.6h4.3v4.6h-4.3zM6.3 41.2h8.6v4.6h-8.6zM75.1 41.2h4.3v4.6h-4.3zM66.5 45.8h4.3v4.6h-4.3zM75.1 45.8h4.3v4.6h-4.3zM19.2 50.4h12.9v4.6h-12.9zM49.3 50.4h4.3v4.6h-4.3zM62.2 50.4h8.6v4.6h-8.6zM23.5 55.0h4.3v4.6h-4.3zM49.3 55.0h8.6v4.6h-8.6zM62.2 55.0h8.6v4.6h-8.6zM36.4 59.6h8.6v4.6h-8.6zM53.6 59.6h8.6v4.6h-8.6zM66.5 59.6h4.3v4.6h-4.3zM36.4 64.2h4.3v4.6h-4.3zM57.9 64.2h4.3v4.6h-4.3zM66.5 64.2h4.3v4.6h-4.3zM49.3 68.8h4.3v4.6h-4.3zM57.9 68.8h4.3v4.6h-4.3zM27.8 73.4h4.3v4.6h-4.3zM36.4 73.4h4.3v4.6h-4.3zM49.3 73.4h8.6v4.6h-8.6zM62.2 73.4h8.6v4.6h-8.6zM27.8 78.0h4.3v4.6h-4.3zM49.3 78.0h8.6v4.6h-8.6zM66.5 78.0h4.3v4.6h-4.3zM45.0 82.6h4.3v4.6h-4.3z"/><path fill="#0010d8" d="M19.2 4.4h8.6v4.6h-8.6zM36.4 4.4h4.3v4.6h-4.3zM45.0 4.4h4.3v4.6h-4.3zM57.9 4.4h4.3v4.6h-4.3zM40.7 9.0h4.3v4.6h-4.3zM36.4 13.6h4.3v4.6h-4.3zM-2.3 18.2h4.3v4.6h-4.3zM23.5 18.2h4.3v4.6h-4.3zM-2.3 22.8h4.3v4.6h-4.3zM14.9 22.8h4.3v4.6h-4.3zM-2.3 27.4h12.9v4.6h-12.9zM66.5 27.4h4.3v4.6h-4.3zM-2.3 32.0h4.3v4.6h-4.3zM10.6 32.0h4.3v4.6h-4.3zM-2.3 41.2h4.3v4.6h-4.3zM79.4 41.2h4.3v4.6h-4.3zM-2.3 45.8h4.3v4.6h-4.3zM79.4 45.8h4.3v4.6h-4.3zM6.3 50.4h12.9v4.6h-12.9zM70.8 50.4h12.9v4.6h-12.9zM6.3 55.0h4.3v4.6h-4.3zM14.9 55.0h4.3v4.6h-4.3zM70.8 55.0h4.3v4.6h-4.3zM79.4 55.0h4.3v4.6h-4.3zM23.5 59.6h8.6v4.6h-8.6zM70.8 59.6h8.6v4.6h-8.6zM19.2 64.2h12.9v4.6h-12.9zM75.1 64.2h8.6v4.6h-8.6zM6.3 68.8h8.6v4.6h-8.6zM19.2 68.8h4.3v4.6h-4.3zM32.1 68.8h4.3v4.6h-4.3zM75.1 68.8h8.6v4.6h-8.6zM-2.3 73.4h4.3v4.6h-4.3zM6.3 73.4h8.6v4.6h-8.6zM19.2 73.4h4.3v4.6h-4.3zM-2.3 78.0h21.5v4.6h-21.5z"/><path fill="#ececf6" d="M40.7 4.4h4.3v4.6h-4.3zM36.4 9.0h4.3v4.6h-4.3zM45.0 9.0h4.3v4.6h-4.3zM53.6 9.0h4.3v4.6h-4.3zM70.8 9.0h4.3v4.6h-4.3zM2.0 41.2h4.3v4.6h-4.3zM2.0 50.4h4.3v4.6h-4.3zM10.6 64.2h4.3v4.6h-4.3z"/><path fill="#0048ff" d="M70.8 4.4h8.6v4.6h-8.6zM23.5 9.0h4.3v4.6h-4.3zM75.1 9.0h4.3v4.6h-4.3zM6.3 13.6h8.6v4.6h-8.6zM23.5 13.6h4.3v4.6h-4.3zM75.1 13.6h4.3v4.6h-4.3zM2.0 18.2h12.9v4.6h-12.9zM32.1 18.2h4.3v4.6h-4.3zM45.0 18.2h4.3v4.6h-4.3zM57.9 18.2h4.3v4.6h-4.3zM70.8 18.2h4.3v4.6h-4.3zM83.7 18.2h4.3v4.6h-4.3zM2.0 22.8h12.9v4.6h-12.9zM36.4 22.8h4.3v4.6h-4.3zM66.5 22.8h8.6v4.6h-8.6zM10.6 27.4h4.3v4.6h-4.3zM19.2 27.4h4.3v4.6h-4.3zM32.1 27.4h4.3v4.6h-4.3zM2.0 32.0h8.6v4.6h-8.6zM70.8 32.0h4.3v4.6h-4.3zM10.6 36.6h4.3v4.6h-4.3zM70.8 36.6h4.3v4.6h-4.3zM79.4 36.6h4.3v4.6h-4.3zM14.9 41.2h4.3v4.6h-4.3zM2.0 45.8h17.2v4.6h-17.2zM-2.3 50.4h4.3v4.6h-4.3zM57.9 50.4h4.3v4.6h-4.3zM-2.3 55.0h8.6v4.6h-8.6zM19.2 55.0h4.3v4.6h-4.3zM27.8 55.0h4.3v4.6h-4.3zM57.9 55.0h4.3v4.6h-4.3zM6.3 59.6h4.3v4.6h-4.3zM32.1 59.6h4.3v4.6h-4.3zM-2.3 64.2h12.9v4.6h-12.9zM32.1 64.2h4.3v4.6h-4.3zM40.7 64.2h4.3v4.6h-4.3zM70.8 64.2h4.3v4.6h-4.3zM23.5 68.8h8.6v4.6h-8.6zM36.4 68.8h8.6v4.6h-8.6zM53.6 68.8h4.3v4.6h-4.3zM62.2 68.8h8.6v4.6h-8.6zM23.5 73.4h4.3v4.6h-4.3zM40.7 73.4h4.3v4.6h-4.3zM23.5 78.0h4.3v4.6h-4.3zM36.4 78.0h8.6v4.6h-8.6zM19.2 82.6h17.2v4.6h-17.2zM40.7 82.6h4.3v4.6h-4.3z"/><path fill="#00c8ff" d="M49.3 9.0h4.3v4.6h-4.3zM40.7 13.6h4.3v4.6h-4.3zM14.9 18.2h4.3v4.6h-4.3zM49.3 18.2h4.3v4.6h-4.3zM27.8 22.8h4.3v4.6h-4.3zM62.2 22.8h4.3v4.6h-4.3zM40.7 27.4h4.3v4.6h-4.3zM49.3 27.4h4.3v4.6h-4.3zM57.9 27.4h8.6v4.6h-8.6zM14.9 32.0h12.9v4.6h-12.9zM49.3 32.0h8.6v4.6h-8.6zM14.9 36.6h8.6v4.6h-8.6zM27.8 36.6h4.3v4.6h-4.3zM53.6 36.6h8.6v4.6h-8.6zM66.5 36.6h4.3v4.6h-4.3zM19.2 41.2h8.6v4.6h-8.6zM53.6 41.2h17.2v4.6h-17.2zM23.5 45.8h8.6v4.6h-8.6zM53.6 45.8h12.9v4.6h-12.9zM70.8 45.8h4.3v4.6h-4.3zM40.7 50.4h4.3v4.6h-4.3zM53.6 50.4h4.3v4.6h-4.3zM32.1 55.0h4.3v4.6h-4.3zM40.7 55.0h4.3v4.6h-4.3zM49.3 59.6h4.3v4.6h-4.3zM45.0 64.2h12.9v4.6h-12.9zM45.0 73.4h4.3v4.6h-4.3zM45.0 78.0h4.3v4.6h-4.3zM57.9 78.0h4.3v4.6h-4.3z"/><path fill="#20f0e8" d="M45.0 13.6h4.3v4.6h-4.3zM70.8 13.6h4.3v4.6h-4.3zM79.4 13.6h8.6v4.6h-8.6zM36.4 27.4h4.3v4.6h-4.3zM27.8 32.0h4.3v4.6h-4.3zM57.9 32.0h4.3v4.6h-4.3zM32.1 36.6h4.3v4.6h-4.3zM62.2 36.6h4.3v4.6h-4.3zM27.8 41.2h8.6v4.6h-8.6zM70.8 41.2h4.3v4.6h-4.3zM19.2 45.8h4.3v4.6h-4.3zM32.1 45.8h4.3v4.6h-4.3zM49.3 45.8h4.3v4.6h-4.3zM32.1 50.4h4.3v4.6h-4.3zM45.0 50.4h4.3v4.6h-4.3zM45.0 59.6h4.3v4.6h-4.3zM45.0 68.8h4.3v4.6h-4.3zM57.9 73.4h4.3v4.6h-4.3z"/><path fill="#78ffa0" d="M79.4 22.8h4.3v4.6h-4.3zM32.1 32.0h8.6v4.6h-8.6zM45.0 32.0h4.3v4.6h-4.3zM62.2 32.0h4.3v4.6h-4.3zM49.3 36.6h4.3v4.6h-4.3zM36.4 41.2h4.3v4.6h-4.3zM49.3 41.2h4.3v4.6h-4.3zM36.4 50.4h4.3v4.6h-4.3zM36.4 55.0h4.3v4.6h-4.3zM45.0 55.0h4.3v4.6h-4.3zM62.2 59.6h4.3v4.6h-4.3z"/><path fill="#fff000" d="M36.4 36.6h8.6v4.6h-8.6zM45.0 41.2h4.3v4.6h-4.3zM40.7 45.8h4.3v4.6h-4.3z"/><path fill="#ffa800" d="M45.0 36.6h4.3v4.6h-4.3zM40.7 41.2h4.3v4.6h-4.3z"/><path fill="#c0ff40" d="M36.4 45.8h4.3v4.6h-4.3zM45.0 45.8h4.3v4.6h-4.3zM62.2 64.2h4.3v4.6h-4.3zM36.4 82.6h4.3v4.6h-4.3z"/></g><g><rect x="41.45" y="31.90" width="4.00" height="4.00" fill="#b0e8e0" stroke="#f01000" stroke-width="1.7"/></g></svg>
<svg class="p" style="left:339.7px;top:233.2px" width="88.8" height="85.8" viewBox="0 0 88.8 85.8"><rect width="100%" height="100%" fill="#e3e3e8"/><g filter="url(#bl)" shape-rendering="crispEdges"><path fill="#ffffff" d="M-1.2 -0.6h34.4v4.6h-34.4zM37.5 -0.6h12.9v4.6h-12.9zM59.0 -0.6h8.6v4.6h-8.6zM80.5 -0.6h8.6v4.6h-8.6zM76.2 59.2h4.3v4.6h-4.3zM80.5 68.4h4.3v4.6h-4.3zM76.2 73.0h8.6v4.6h-8.6zM71.9 77.6h12.9v4.6h-12.9zM-1.2 82.2h4.3v4.6h-4.3zM59.0 82.2h25.8v4.6h-25.8z"/><path fill="#000090" d="M33.2 -0.6h4.3v4.6h-4.3zM76.2 -0.6h4.3v4.6h-4.3zM11.7 4.0h4.3v4.6h-4.3zM33.2 4.0h8.6v4.6h-8.6zM63.3 4.0h4.3v4.6h-4.3zM80.5 4.0h8.6v4.6h-8.6zM20.3 8.6h17.2v4.6h-17.2zM63.3 8.6h8.6v4.6h-8.6zM11.7 13.2h8.6v4.6h-8.6zM33.2 13.2h12.9v4.6h-12.9zM11.7 17.8h4.3v4.6h-4.3zM33.2 22.4h4.3v4.6h-4.3zM84.8 31.6h4.3v4.6h-4.3zM84.8 36.2h4.3v4.6h-4.3zM84.8 40.8h4.3v4.6h-4.3zM11.7 45.4h4.3v4.6h-4.3zM59.0 45.4h4.3v4.6h-4.3zM76.2 45.4h4.3v4.6h-4.3zM84.8 45.4h4.3v4.6h-4.3zM59.0 50.0h4.3v4.6h-4.3zM84.8 50.0h4.3v4.6h-4.3z"/><path fill="#0010d8" d="M50.4 -0.6h8.6v4.6h-8.6zM71.9 -0.6h4.3v4.6h-4.3zM-1.2 4.0h12.9v4.6h-12.9zM20.3 4.0h8.6v4.6h-8.6zM50.4 4.0h8.6v4.6h-8.6zM67.6 4.0h4.3v4.6h-4.3zM46.1 8.6h4.3v4.6h-4.3zM71.9 8.6h8.6v4.6h-8.6zM76.2 13.2h12.9v4.6h-12.9zM-1.2 17.8h4.3v4.6h-4.3zM16.0 17.8h8.6v4.6h-8.6zM33.2 17.8h4.3v4.6h-4.3zM80.5 17.8h8.6v4.6h-8.6zM-1.2 22.4h4.3v4.6h-4.3zM11.7 22.4h8.6v4.6h-8.6zM41.8 22.4h4.3v4.6h-4.3zM80.5 22.4h8.6v4.6h-8.6zM-1.2 27.0h12.9v4.6h-12.9zM37.5 27.0h4.3v4.6h-4.3zM84.8 27.0h4.3v4.6h-4.3zM16.0 31.6h4.3v4.6h-4.3zM80.5 31.6h4.3v4.6h-4.3zM-1.2 36.2h4.3v4.6h-4.3zM16.0 36.2h4.3v4.6h-4.3zM54.7 36.2h4.3v4.6h-4.3zM80.5 36.2h4.3v4.6h-4.3zM-1.2 40.8h21.5v4.6h-21.5zM59.0 40.8h4.3v4.6h-4.3zM76.2 40.8h8.6v4.6h-8.6zM3.1 45.4h8.6v4.6h-8.6zM16.0 45.4h4.3v4.6h-4.3zM71.9 45.4h4.3v4.6h-4.3zM80.5 45.4h4.3v4.6h-4.3zM-1.2 50.0h8.6v4.6h-8.6zM20.3 50.0h4.3v4.6h-4.3zM63.3 50.0h4.3v4.6h-4.3zM71.9 50.0h12.9v4.6h-12.9zM-1.2 54.6h17.2v4.6h-17.2zM20.3 54.6h4.3v4.6h-4.3zM37.5 54.6h4.3v4.6h-4.3zM59.0 54.6h8.6v4.6h-8.6zM71.9 54.6h8.6v4.6h-8.6zM-1.2 59.2h4.3v4.6h-4.3zM20.3 59.2h8.6v4.6h-8.6zM46.1 59.2h8.6v4.6h-8.6zM59.0 59.2h4.3v4.6h-4.3zM67.6 59.2h8.6v4.6h-8.6zM28.9 63.8h8.6v4.6h-8.6zM46.1 63.8h4.3v4.6h-4.3zM63.3 63.8h8.6v4.6h-8.6zM24.6 68.4h12.9v4.6h-12.9zM54.7 68.4h4.3v4.6h-4.3zM24.6 73.0h4.3v4.6h-4.3zM33.2 73.0h4.3v4.6h-4.3zM41.8 73.0h4.3v4.6h-4.3zM54.7 73.0h4.3v4.6h-4.3zM67.6 73.0h4.3v4.6h-4.3zM7.4 77.6h4.3v4.6h-4.3zM24.6 77.6h4.3v4.6h-4.3zM33.2 77.6h12.9v4.6h-12.9zM54.7 77.6h4.3v4.6h-4.3zM24.6 82.2h4.3v4.6h-4.3zM37.5 82.2h4.3v4.6h-4.3z"/><path fill="#0048ff" d="M67.6 -0.6h4.3v4.6h-4.3zM28.9 4.0h4.3v4.6h-4.3zM16.0 8.6h4.3v4.6h-4.3zM41.8 8.6h4.3v4.6h-4.3zM50.4 8.6h4.3v4.6h-4.3zM46.1 13.2h4.3v4.6h-4.3zM3.1 17.8h8.6v4.6h-8.6zM24.6 17.8h8.6v4.6h-8.6zM41.8 17.8h17.2v4.6h-17.2zM63.3 17.8h17.2v4.6h-17.2zM3.1 22.4h4.3v4.6h-4.3zM20.3 22.4h12.9v4.6h-12.9zM37.5 22.4h4.3v4.6h-4.3zM50.4 22.4h30.1v4.6h-30.1zM11.7 27.0h25.8v4.6h-25.8zM50.4 27.0h12.9v4.6h-12.9zM71.9 27.0h8.6v4.6h-8.6zM-1.2 31.6h17.2v4.6h-17.2zM33.2 31.6h8.6v4.6h-8.6zM54.7 31.6h4.3v4.6h-4.3zM63.3 31.6h4.3v4.6h-4.3zM3.1 36.2h12.9v4.6h-12.9zM28.9 36.2h8.6v4.6h-8.6zM63.3 36.2h4.3v4.6h-4.3zM76.2 36.2h4.3v4.6h-4.3zM71.9 40.8h4.3v4.6h-4.3zM-1.2 45.4h4.3v4.6h-4.3zM20.3 45.4h8.6v4.6h-8.6zM54.7 45.4h4.3v4.6h-4.3zM63.3 45.4h8.6v4.6h-8.6zM7.4 50.0h8.6v4.6h-8.6zM24.6 50.0h4.3v4.6h-4.3zM67.6 50.0h4.3v4.6h-4.3zM24.6 54.6h4.3v4.6h-4.3zM46.1 54.6h12.9v4.6h-12.9zM67.6 54.6h4.3v4.6h-4.3zM28.9 59.2h12.9v4.6h-12.9zM54.7 59.2h4.3v4.6h-4.3zM63.3 59.2h4.3v4.6h-4.3zM24.6 63.8h4.3v4.6h-4.3zM50.4 63.8h8.6v4.6h-8.6zM50.4 68.4h4.3v4.6h-4.3zM50.4 73.0h4.3v4.6h-4.3zM28.9 77.6h4.3v4.6h-4.3zM50.4 77.6h4.3v4.6h-4.3zM16.0 82.2h8.6v4.6h-8.6zM28.9 82.2h8.6v4.6h-8.6zM41.8 82.2h4.3v4.6h-4.3zM50.4 82.2h8.6v4.6h-8.6z"/><path fill="#0090ff" d="M16.0 4.0h4.3v4.6h-4.3zM28.9 13.2h4.3v4.6h-4.3zM54.7 13.2h12.9v4.6h-12.9zM71.9 13.2h4.3v4.6h-4.3zM37.5 17.8h4.3v4.6h-4.3zM7.4 22.4h4.3v4.6h-4.3zM46.1 22.4h4.3v4.6h-4.3zM46.1 27.0h4.3v4.6h-4.3zM63.3 27.0h8.6v4.6h-8.6zM20.3 31.6h12.9v4.6h-12.9zM50.4 31.6h4.3v4.6h-4.3zM59.0 31.6h4.3v4.6h-4.3zM67.6 31.6h12.9v4.6h-12.9zM20.3 36.2h8.6v4.6h-8.6zM59.0 36.2h4.3v4.6h-4.3zM67.6 36.2h8.6v4.6h-8.6zM20.3 40.8h12.9v4.6h-12.9zM54.7 40.8h4.3v4.6h-4.3zM63.3 40.8h8.6v4.6h-8.6zM33.2 50.0h4.3v4.6h-4.3zM46.1 50.0h8.6v4.6h-8.6zM28.9 54.6h8.6v4.6h-8.6zM41.8 59.2h4.3v4.6h-4.3zM41.8 63.8h4.3v4.6h-4.3zM41.8 68.4h4.3v4.6h-4.3zM46.1 77.6h4.3v4.6h-4.3z"/><path fill="#ececf6" d="M37.5 8.6h4.3v4.6h-4.3zM67.6 13.2h4.3v4.6h-4.3zM80.5 27.0h4.3v4.6h-4.3zM-1.2 63.8h4.3v4.6h-4.3z"/><path fill="#00c8ff" d="M50.4 13.2h4.3v4.6h-4.3zM59.0 17.8h4.3v4.6h-4.3zM41.8 27.0h4.3v4.6h-4.3zM50.4 36.2h4.3v4.6h-4.3zM33.2 40.8h4.3v4.6h-4.3zM46.1 40.8h4.3v4.6h-4.3zM28.9 45.4h8.6v4.6h-8.6zM46.1 45.4h4.3v4.6h-4.3zM28.9 50.0h4.3v4.6h-4.3zM41.8 50.0h4.3v4.6h-4.3zM54.7 50.0h4.3v4.6h-4.3zM41.8 54.6h4.3v4.6h-4.3z"/><path fill="#c0ff40" d="M46.1 31.6h4.3v4.6h-4.3zM37.5 40.8h4.3v4.6h-4.3zM50.4 40.8h4.3v4.6h-4.3z"/><path fill="#20f0e8" d="M37.5 36.2h8.6v4.6h-8.6zM41.8 40.8h4.3v4.6h-4.3zM37.5 45.4h8.6v4.6h-8.6zM50.4 45.4h4.3v4.6h-4.3zM46.1 82.2h4.3v4.6h-4.3z"/><path fill="#78ffa0" d="M46.1 36.2h4.3v4.6h-4.3zM37.5 50.0h4.3v4.6h-4.3z"/><path fill="#000000" d="M16.0 50.0h4.3v4.6h-4.3zM16.0 59.2h4.3v4.6h-4.3zM7.4 63.8h4.3v4.6h-4.3zM-1.2 68.4h4.3v4.6h-4.3zM16.0 68.4h4.3v4.6h-4.3zM-1.2 73.0h4.3v4.6h-4.3zM11.7 73.0h4.3v4.6h-4.3zM20.3 73.0h4.3v4.6h-4.3zM37.5 73.0h4.3v4.6h-4.3zM63.3 73.0h4.3v4.6h-4.3zM71.9 73.0h4.3v4.6h-4.3zM-1.2 77.6h4.3v4.6h-4.3zM59.0 77.6h12.9v4.6h-12.9zM3.1 82.2h12.9v4.6h-12.9z"/><path fill="#000058" d="M16.0 54.6h4.3v4.6h-4.3zM80.5 54.6h8.6v4.6h-8.6zM3.1 59.2h12.9v4.6h-12.9zM80.5 59.2h8.6v4.6h-8.6zM3.1 63.8h4.3v4.6h-4.3zM11.7 63.8h12.9v4.6h-12.9zM37.5 63.8h4.3v4.6h-4.3zM59.0 63.8h4.3v4.6h-4.3zM71.9 63.8h12.9v4.6h-12.9zM3.1 68.4h12.9v4.6h-12.9zM20.3 68.4h4.3v4.6h-4.3zM37.5 68.4h4.3v4.6h-4.3zM46.1 68.4h4.3v4.6h-4.3zM59.0 68.4h21.5v4.6h-21.5zM3.1 73.0h8.6v4.6h-8.6zM16.0 73.0h4.3v4.6h-4.3zM28.9 73.0h4.3v4.6h-4.3zM46.1 73.0h4.3v4.6h-4.3zM59.0 73.0h4.3v4.6h-4.3zM3.1 77.6h4.3v4.6h-4.3zM11.7 77.6h12.9v4.6h-12.9z"/></g><g opacity="0.35" shape-rendering="crispEdges"><path fill="#ffffff" d="M-1.2 -0.6h34.4v4.6h-34.4zM37.5 -0.6h12.9v4.6h-12.9zM59.0 -0.6h8.6v4.6h-8.6zM80.5 -0.6h8.6v4.6h-8.6zM76.2 59.2h4.3v4.6h-4.3zM80.5 68.4h4.3v4.6h-4.3zM76.2 73.0h8.6v4.6h-8.6zM71.9 77.6h12.9v4.6h-12.9zM-1.2 82.2h4.3v4.6h-4.3zM59.0 82.2h25.8v4.6h-25.8z"/><path fill="#000090" d="M33.2 -0.6h4.3v4.6h-4.3zM76.2 -0.6h4.3v4.6h-4.3zM11.7 4.0h4.3v4.6h-4.3zM33.2 4.0h8.6v4.6h-8.6zM63.3 4.0h4.3v4.6h-4.3zM80.5 4.0h8.6v4.6h-8.6zM20.3 8.6h17.2v4.6h-17.2zM63.3 8.6h8.6v4.6h-8.6zM11.7 13.2h8.6v4.6h-8.6zM33.2 13.2h12.9v4.6h-12.9zM11.7 17.8h4.3v4.6h-4.3zM33.2 22.4h4.3v4.6h-4.3zM84.8 31.6h4.3v4.6h-4.3zM84.8 36.2h4.3v4.6h-4.3zM84.8 40.8h4.3v4.6h-4.3zM11.7 45.4h4.3v4.6h-4.3zM59.0 45.4h4.3v4.6h-4.3zM76.2 45.4h4.3v4.6h-4.3zM84.8 45.4h4.3v4.6h-4.3zM59.0 50.0h4.3v4.6h-4.3zM84.8 50.0h4.3v4.6h-4.3z"/><path fill="#0010d8" d="M50.4 -0.6h8.6v4.6h-8.6zM71.9 -0.6h4.3v4.6h-4.3zM-1.2 4.0h12.9v4.6h-12.9zM20.3 4.0h8.6v4.6h-8.6zM50.4 4.0h8.6v4.6h-8.6zM67.6 4.0h4.3v4.6h-4.3zM46.1 8.6h4.3v4.6h-4.3zM71.9 8.6h8.6v4.6h-8.6zM76.2 13.2h12.9v4.6h-12.9zM-1.2 17.8h4.3v4.6h-4.3zM16.0 17.8h8.6v4.6h-8.6zM33.2 17.8h4.3v4.6h-4.3zM80.5 17.8h8.6v4.6h-8.6zM-1.2 22.4h4.3v4.6h-4.3zM11.7 22.4h8.6v4.6h-8.6zM41.8 22.4h4.3v4.6h-4.3zM80.5 22.4h8.6v4.6h-8.6zM-1.2 27.0h12.9v4.6h-12.9zM37.5 27.0h4.3v4.6h-4.3zM84.8 27.0h4.3v4.6h-4.3zM16.0 31.6h4.3v4.6h-4.3zM80.5 31.6h4.3v4.6h-4.3zM-1.2 36.2h4.3v4.6h-4.3zM16.0 36.2h4.3v4.6h-4.3zM54.7 36.2h4.3v4.6h-4.3zM80.5 36.2h4.3v4.6h-4.3zM-1.2 40.8h21.5v4.6h-21.5zM59.0 40.8h4.3v4.6h-4.3zM76.2 40.8h8.6v4.6h-8.6zM3.1 45.4h8.6v4.6h-8.6zM16.0 45.4h4.3v4.6h-4.3zM71.9 45.4h4.3v4.6h-4.3zM80.5 45.4h4.3v4.6h-4.3zM-1.2 50.0h8.6v4.6h-8.6zM20.3 50.0h4.3v4.6h-4.3zM63.3 50.0h4.3v4.6h-4.3zM71.9 50.0h12.9v4.6h-12.9zM-1.2 54.6h17.2v4.6h-17.2zM20.3 54.6h4.3v4.6h-4.3zM37.5 54.6h4.3v4.6h-4.3zM59.0 54.6h8.6v4.6h-8.6zM71.9 54.6h8.6v4.6h-8.6zM-1.2 59.2h4.3v4.6h-4.3zM20.3 59.2h8.6v4.6h-8.6zM46.1 59.2h8.6v4.6h-8.6zM59.0 59.2h4.3v4.6h-4.3zM67.6 59.2h8.6v4.6h-8.6zM28.9 63.8h8.6v4.6h-8.6zM46.1 63.8h4.3v4.6h-4.3zM63.3 63.8h8.6v4.6h-8.6zM24.6 68.4h12.9v4.6h-12.9zM54.7 68.4h4.3v4.6h-4.3zM24.6 73.0h4.3v4.6h-4.3zM33.2 73.0h4.3v4.6h-4.3zM41.8 73.0h4.3v4.6h-4.3zM54.7 73.0h4.3v4.6h-4.3zM67.6 73.0h4.3v4.6h-4.3zM7.4 77.6h4.3v4.6h-4.3zM24.6 77.6h4.3v4.6h-4.3zM33.2 77.6h12.9v4.6h-12.9zM54.7 77.6h4.3v4.6h-4.3zM24.6 82.2h4.3v4.6h-4.3zM37.5 82.2h4.3v4.6h-4.3z"/><path fill="#0048ff" d="M67.6 -0.6h4.3v4.6h-4.3zM28.9 4.0h4.3v4.6h-4.3zM16.0 8.6h4.3v4.6h-4.3zM41.8 8.6h4.3v4.6h-4.3zM50.4 8.6h4.3v4.6h-4.3zM46.1 13.2h4.3v4.6h-4.3zM3.1 17.8h8.6v4.6h-8.6zM24.6 17.8h8.6v4.6h-8.6zM41.8 17.8h17.2v4.6h-17.2zM63.3 17.8h17.2v4.6h-17.2zM3.1 22.4h4.3v4.6h-4.3zM20.3 22.4h12.9v4.6h-12.9zM37.5 22.4h4.3v4.6h-4.3zM50.4 22.4h30.1v4.6h-30.1zM11.7 27.0h25.8v4.6h-25.8zM50.4 27.0h12.9v4.6h-12.9zM71.9 27.0h8.6v4.6h-8.6zM-1.2 31.6h17.2v4.6h-17.2zM33.2 31.6h8.6v4.6h-8.6zM54.7 31.6h4.3v4.6h-4.3zM63.3 31.6h4.3v4.6h-4.3zM3.1 36.2h12.9v4.6h-12.9zM28.9 36.2h8.6v4.6h-8.6zM63.3 36.2h4.3v4.6h-4.3zM76.2 36.2h4.3v4.6h-4.3zM71.9 40.8h4.3v4.6h-4.3zM-1.2 45.4h4.3v4.6h-4.3zM20.3 45.4h8.6v4.6h-8.6zM54.7 45.4h4.3v4.6h-4.3zM63.3 45.4h8.6v4.6h-8.6zM7.4 50.0h8.6v4.6h-8.6zM24.6 50.0h4.3v4.6h-4.3zM67.6 50.0h4.3v4.6h-4.3zM24.6 54.6h4.3v4.6h-4.3zM46.1 54.6h12.9v4.6h-12.9zM67.6 54.6h4.3v4.6h-4.3zM28.9 59.2h12.9v4.6h-12.9zM54.7 59.2h4.3v4.6h-4.3zM63.3 59.2h4.3v4.6h-4.3zM24.6 63.8h4.3v4.6h-4.3zM50.4 63.8h8.6v4.6h-8.6zM50.4 68.4h4.3v4.6h-4.3zM50.4 73.0h4.3v4.6h-4.3zM28.9 77.6h4.3v4.6h-4.3zM50.4 77.6h4.3v4.6h-4.3zM16.0 82.2h8.6v4.6h-8.6zM28.9 82.2h8.6v4.6h-8.6zM41.8 82.2h4.3v4.6h-4.3zM50.4 82.2h8.6v4.6h-8.6z"/><path fill="#0090ff" d="M16.0 4.0h4.3v4.6h-4.3zM28.9 13.2h4.3v4.6h-4.3zM54.7 13.2h12.9v4.6h-12.9zM71.9 13.2h4.3v4.6h-4.3zM37.5 17.8h4.3v4.6h-4.3zM7.4 22.4h4.3v4.6h-4.3zM46.1 22.4h4.3v4.6h-4.3zM46.1 27.0h4.3v4.6h-4.3zM63.3 27.0h8.6v4.6h-8.6zM20.3 31.6h12.9v4.6h-12.9zM50.4 31.6h4.3v4.6h-4.3zM59.0 31.6h4.3v4.6h-4.3zM67.6 31.6h12.9v4.6h-12.9zM20.3 36.2h8.6v4.6h-8.6zM59.0 36.2h4.3v4.6h-4.3zM67.6 36.2h8.6v4.6h-8.6zM20.3 40.8h12.9v4.6h-12.9zM54.7 40.8h4.3v4.6h-4.3zM63.3 40.8h8.6v4.6h-8.6zM33.2 50.0h4.3v4.6h-4.3zM46.1 50.0h8.6v4.6h-8.6zM28.9 54.6h8.6v4.6h-8.6zM41.8 59.2h4.3v4.6h-4.3zM41.8 63.8h4.3v4.6h-4.3zM41.8 68.4h4.3v4.6h-4.3zM46.1 77.6h4.3v4.6h-4.3z"/><path fill="#ececf6" d="M37.5 8.6h4.3v4.6h-4.3zM67.6 13.2h4.3v4.6h-4.3zM80.5 27.0h4.3v4.6h-4.3zM-1.2 63.8h4.3v4.6h-4.3z"/><path fill="#00c8ff" d="M50.4 13.2h4.3v4.6h-4.3zM59.0 17.8h4.3v4.6h-4.3zM41.8 27.0h4.3v4.6h-4.3zM50.4 36.2h4.3v4.6h-4.3zM33.2 40.8h4.3v4.6h-4.3zM46.1 40.8h4.3v4.6h-4.3zM28.9 45.4h8.6v4.6h-8.6zM46.1 45.4h4.3v4.6h-4.3zM28.9 50.0h4.3v4.6h-4.3zM41.8 50.0h4.3v4.6h-4.3zM54.7 50.0h4.3v4.6h-4.3zM41.8 54.6h4.3v4.6h-4.3z"/><path fill="#c0ff40" d="M46.1 31.6h4.3v4.6h-4.3zM37.5 40.8h4.3v4.6h-4.3zM50.4 40.8h4.3v4.6h-4.3z"/><path fill="#20f0e8" d="M37.5 36.2h8.6v4.6h-8.6zM41.8 40.8h4.3v4.6h-4.3zM37.5 45.4h8.6v4.6h-8.6zM50.4 45.4h4.3v4.6h-4.3zM46.1 82.2h4.3v4.6h-4.3z"/><path fill="#78ffa0" d="M46.1 36.2h4.3v4.6h-4.3zM37.5 50.0h4.3v4.6h-4.3z"/><path fill="#000000" d="M16.0 50.0h4.3v4.6h-4.3zM16.0 59.2h4.3v4.6h-4.3zM7.4 63.8h4.3v4.6h-4.3zM-1.2 68.4h4.3v4.6h-4.3zM16.0 68.4h4.3v4.6h-4.3zM-1.2 73.0h4.3v4.6h-4.3zM11.7 73.0h4.3v4.6h-4.3zM20.3 73.0h4.3v4.6h-4.3zM37.5 73.0h4.3v4.6h-4.3zM63.3 73.0h4.3v4.6h-4.3zM71.9 73.0h4.3v4.6h-4.3zM-1.2 77.6h4.3v4.6h-4.3zM59.0 77.6h12.9v4.6h-12.9zM3.1 82.2h12.9v4.6h-12.9z"/><path fill="#000058" d="M16.0 54.6h4.3v4.6h-4.3zM80.5 54.6h8.6v4.6h-8.6zM3.1 59.2h12.9v4.6h-12.9zM80.5 59.2h8.6v4.6h-8.6zM3.1 63.8h4.3v4.6h-4.3zM11.7 63.8h12.9v4.6h-12.9zM37.5 63.8h4.3v4.6h-4.3zM59.0 63.8h4.3v4.6h-4.3zM71.9 63.8h12.9v4.6h-12.9zM3.1 68.4h12.9v4.6h-12.9zM20.3 68.4h4.3v4.6h-4.3zM37.5 68.4h4.3v4.6h-4.3zM46.1 68.4h4.3v4.6h-4.3zM59.0 68.4h21.5v4.6h-21.5zM3.1 73.0h8.6v4.6h-8.6zM16.0 73.0h4.3v4.6h-4.3zM28.9 73.0h4.3v4.6h-4.3zM46.1 73.0h4.3v4.6h-4.3zM59.0 73.0h4.3v4.6h-4.3zM3.1 77.6h4.3v4.6h-4.3zM11.7 77.6h12.9v4.6h-12.9z"/></g><g><rect x="42.55" y="31.50" width="4.00" height="4.00" fill="#b0e8e0" stroke="#f01000" stroke-width="1.7"/></g></svg>
<svg class="p" style="left:428.5px;top:233.2px" width="86.5" height="85.8" viewBox="0 0 86.5 85.8"><rect width="100%" height="100%" fill="#e3e3e8"/><g filter="url(#bl)" shape-rendering="crispEdges"><path fill="#ffffff" d="M-2.5 -0.2h38.7v4.6h-38.7zM66.3 -0.2h17.2v4.6h-17.2zM79.2 59.6h4.3v4.6h-4.3zM66.3 64.2h4.3v4.6h-4.3zM79.2 64.2h4.3v4.6h-4.3zM-2.5 68.8h4.3v4.6h-4.3zM-2.5 73.4h4.3v4.6h-4.3zM79.2 73.4h8.6v4.6h-8.6zM-2.5 78.0h12.9v4.6h-12.9zM53.4 78.0h4.3v4.6h-4.3zM62.0 78.0h25.8v4.6h-25.8zM-2.5 82.6h8.6v4.6h-8.6zM23.3 82.6h4.3v4.6h-4.3zM53.4 82.6h34.4v4.6h-34.4z"/><path fill="#000000" d="M36.2 -0.2h4.3v4.6h-4.3zM79.2 45.8h4.3v4.6h-4.3zM66.3 50.4h4.3v4.6h-4.3zM79.2 50.4h4.3v4.6h-4.3zM83.5 55.0h4.3v4.6h-4.3zM6.1 59.6h4.3v4.6h-4.3zM1.8 64.2h8.6v4.6h-8.6zM53.4 64.2h4.3v4.6h-4.3zM1.8 68.8h4.3v4.6h-4.3zM53.4 68.8h34.4v4.6h-34.4zM1.8 73.4h8.6v4.6h-8.6zM53.4 73.4h8.6v4.6h-8.6zM66.3 73.4h12.9v4.6h-12.9zM10.4 78.0h4.3v4.6h-4.3zM19.0 78.0h4.3v4.6h-4.3zM31.9 78.0h4.3v4.6h-4.3zM57.7 78.0h4.3v4.6h-4.3zM6.1 82.6h4.3v4.6h-4.3zM31.9 82.6h4.3v4.6h-4.3z"/><path fill="#000090" d="M40.5 -0.2h8.6v4.6h-8.6zM57.7 -0.2h8.6v4.6h-8.6zM83.5 -0.2h4.3v4.6h-4.3zM66.3 4.4h21.5v4.6h-21.5zM6.1 9.0h21.5v4.6h-21.5zM44.8 9.0h4.3v4.6h-4.3zM57.7 9.0h4.3v4.6h-4.3zM23.3 13.6h4.3v4.6h-4.3zM-2.5 36.6h4.3v4.6h-4.3zM62.0 36.6h8.6v4.6h-8.6zM79.2 41.2h8.6v4.6h-8.6zM70.6 45.8h8.6v4.6h-8.6zM83.5 45.8h4.3v4.6h-4.3zM70.6 50.4h8.6v4.6h-8.6zM83.5 50.4h4.3v4.6h-4.3z"/><path fill="#0010d8" d="M49.1 -0.2h8.6v4.6h-8.6zM10.4 4.4h8.6v4.6h-8.6zM23.3 4.4h8.6v4.6h-8.6zM36.2 4.4h8.6v4.6h-8.6zM49.1 4.4h8.6v4.6h-8.6zM62.0 4.4h4.3v4.6h-4.3zM1.8 9.0h4.3v4.6h-4.3zM36.2 9.0h8.6v4.6h-8.6zM49.1 9.0h8.6v4.6h-8.6zM62.0 9.0h4.3v4.6h-4.3zM83.5 9.0h4.3v4.6h-4.3zM49.1 13.6h8.6v4.6h-8.6zM66.3 13.6h4.3v4.6h-4.3zM83.5 13.6h4.3v4.6h-4.3zM1.8 18.2h17.2v4.6h-17.2zM23.3 18.2h4.3v4.6h-4.3zM79.2 18.2h8.6v4.6h-8.6zM10.4 22.8h4.3v4.6h-4.3zM83.5 22.8h4.3v4.6h-4.3zM74.9 27.4h8.6v4.6h-8.6zM74.9 32.0h8.6v4.6h-8.6zM57.7 36.6h4.3v4.6h-4.3zM74.9 36.6h8.6v4.6h-8.6zM-2.5 41.2h4.3v4.6h-4.3zM62.0 41.2h17.2v4.6h-17.2zM62.0 45.8h8.6v4.6h-8.6zM-2.5 50.4h17.2v4.6h-17.2zM62.0 50.4h4.3v4.6h-4.3zM10.4 55.0h8.6v4.6h-8.6zM53.4 55.0h17.2v4.6h-17.2zM10.4 59.6h8.6v4.6h-8.6zM27.6 59.6h4.3v4.6h-4.3zM62.0 59.6h4.3v4.6h-4.3zM74.9 59.6h4.3v4.6h-4.3zM14.7 64.2h4.3v4.6h-4.3zM27.6 64.2h4.3v4.6h-4.3zM36.2 64.2h8.6v4.6h-8.6zM49.1 64.2h4.3v4.6h-4.3zM10.4 68.8h17.2v4.6h-17.2zM40.5 68.8h4.3v4.6h-4.3zM49.1 68.8h4.3v4.6h-4.3zM27.6 73.4h4.3v4.6h-4.3zM49.1 73.4h4.3v4.6h-4.3zM62.0 73.4h4.3v4.6h-4.3zM10.4 82.6h4.3v4.6h-4.3zM19.0 82.6h4.3v4.6h-4.3z"/><path fill="#0048ff" d="M-2.5 4.4h12.9v4.6h-12.9zM19.0 4.4h4.3v4.6h-4.3zM31.9 4.4h4.3v4.6h-4.3zM44.8 4.4h4.3v4.6h-4.3zM57.7 4.4h4.3v4.6h-4.3zM-2.5 9.0h4.3v4.6h-4.3zM-2.5 13.6h8.6v4.6h-8.6zM27.6 13.6h4.3v4.6h-4.3zM62.0 13.6h4.3v4.6h-4.3zM79.2 13.6h4.3v4.6h-4.3zM19.0 18.2h4.3v4.6h-4.3zM44.8 18.2h4.3v4.6h-4.3zM57.7 18.2h8.6v4.6h-8.6zM74.9 18.2h4.3v4.6h-4.3zM1.8 22.8h8.6v4.6h-8.6zM14.7 22.8h4.3v4.6h-4.3zM27.6 22.8h4.3v4.6h-4.3zM57.7 22.8h8.6v4.6h-8.6zM74.9 22.8h8.6v4.6h-8.6zM1.8 27.4h12.9v4.6h-12.9zM62.0 27.4h12.9v4.6h-12.9zM1.8 32.0h17.2v4.6h-17.2zM57.7 32.0h4.3v4.6h-4.3zM66.3 32.0h4.3v4.6h-4.3zM83.5 32.0h4.3v4.6h-4.3zM1.8 36.6h4.3v4.6h-4.3zM14.7 36.6h4.3v4.6h-4.3zM70.6 36.6h4.3v4.6h-4.3zM1.8 41.2h4.3v4.6h-4.3zM57.7 41.2h4.3v4.6h-4.3zM-2.5 45.8h17.2v4.6h-17.2zM57.7 45.8h4.3v4.6h-4.3zM27.6 55.0h4.3v4.6h-4.3zM19.0 59.6h4.3v4.6h-4.3zM49.1 59.6h4.3v4.6h-4.3zM10.4 64.2h4.3v4.6h-4.3zM19.0 64.2h4.3v4.6h-4.3zM27.6 68.8h4.3v4.6h-4.3zM36.2 68.8h4.3v4.6h-4.3zM44.8 68.8h4.3v4.6h-4.3zM36.2 73.4h12.9v4.6h-12.9zM36.2 78.0h8.6v4.6h-8.6zM49.1 78.0h4.3v4.6h-4.3zM36.2 82.6h8.6v4.6h-8.6zM49.1 82.6h4.3v4.6h-4.3z"/><path fill="#ececf6" d="M27.6 9.0h8.6v4.6h-8.6zM66.3 9.0h17.2v4.6h-17.2zM6.1 13.6h17.2v4.6h-17.2zM40.5 13.6h8.6v4.6h-8.6zM57.7 13.6h4.3v4.6h-4.3zM74.9 13.6h4.3v4.6h-4.3zM-2.5 18.2h4.3v4.6h-4.3zM49.1 32.0h4.3v4.6h-4.3zM53.4 36.6h4.3v4.6h-4.3zM83.5 36.6h4.3v4.6h-4.3zM6.1 41.2h4.3v4.6h-4.3zM53.4 41.2h4.3v4.6h-4.3zM53.4 45.8h4.3v4.6h-4.3z"/><path fill="#0090ff" d="M31.9 13.6h8.6v4.6h-8.6zM27.6 18.2h17.2v4.6h-17.2zM49.1 18.2h4.3v4.6h-4.3zM66.3 18.2h8.6v4.6h-8.6zM-2.5 22.8h4.3v4.6h-4.3zM31.9 22.8h4.3v4.6h-4.3zM44.8 22.8h12.9v4.6h-12.9zM66.3 22.8h8.6v4.6h-8.6zM-2.5 27.4h4.3v4.6h-4.3zM14.7 27.4h4.3v4.6h-4.3zM53.4 27.4h8.6v4.6h-8.6zM83.5 27.4h4.3v4.6h-4.3zM-2.5 32.0h4.3v4.6h-4.3zM53.4 32.0h4.3v4.6h-4.3zM62.0 32.0h4.3v4.6h-4.3zM70.6 32.0h4.3v4.6h-4.3zM6.1 36.6h8.6v4.6h-8.6zM10.4 41.2h8.6v4.6h-8.6zM44.8 41.2h4.3v4.6h-4.3zM19.0 45.8h4.3v4.6h-4.3zM14.7 50.4h12.9v4.6h-12.9zM53.4 50.4h4.3v4.6h-4.3zM19.0 55.0h4.3v4.6h-4.3zM49.1 55.0h4.3v4.6h-4.3zM31.9 59.6h12.9v4.6h-12.9zM57.7 59.6h4.3v4.6h-4.3zM44.8 64.2h4.3v4.6h-4.3z"/><path fill="#20f0e8" d="M70.6 13.6h4.3v4.6h-4.3zM53.4 18.2h4.3v4.6h-4.3zM36.2 22.8h8.6v4.6h-8.6zM31.9 27.4h4.3v4.6h-4.3zM23.3 32.0h4.3v4.6h-4.3zM27.6 36.6h4.3v4.6h-4.3zM44.8 36.6h4.3v4.6h-4.3zM27.6 41.2h4.3v4.6h-4.3zM27.6 45.8h8.6v4.6h-8.6zM31.9 50.4h4.3v4.6h-4.3zM31.9 55.0h12.9v4.6h-12.9z"/><path fill="#00c8ff" d="M19.0 22.8h8.6v4.6h-8.6zM19.0 27.4h12.9v4.6h-12.9zM44.8 27.4h8.6v4.6h-8.6zM19.0 32.0h4.3v4.6h-4.3zM31.9 32.0h4.3v4.6h-4.3zM44.8 32.0h4.3v4.6h-4.3zM19.0 36.6h8.6v4.6h-8.6zM31.9 36.6h4.3v4.6h-4.3zM19.0 41.2h8.6v4.6h-8.6zM49.1 41.2h4.3v4.6h-4.3zM14.7 45.8h4.3v4.6h-4.3zM23.3 45.8h4.3v4.6h-4.3zM44.8 45.8h8.6v4.6h-8.6zM27.6 50.4h4.3v4.6h-4.3zM49.1 50.4h4.3v4.6h-4.3zM57.7 50.4h4.3v4.6h-4.3zM44.8 55.0h4.3v4.6h-4.3zM44.8 59.6h4.3v4.6h-4.3z"/><path fill="#c0ff40" d="M36.2 27.4h4.3v4.6h-4.3zM27.6 32.0h4.3v4.6h-4.3zM49.1 36.6h4.3v4.6h-4.3zM36.2 45.8h8.6v4.6h-8.6zM44.8 50.4h4.3v4.6h-4.3zM44.8 82.6h4.3v4.6h-4.3z"/><path fill="#78ffa0" d="M40.5 27.4h4.3v4.6h-4.3zM36.2 32.0h4.3v4.6h-4.3zM36.2 36.6h4.3v4.6h-4.3zM31.9 41.2h12.9v4.6h-12.9zM36.2 50.4h8.6v4.6h-8.6z"/><path fill="#ffa800" d="M40.5 36.6h4.3v4.6h-4.3z"/><path fill="#000058" d="M-2.5 55.0h12.9v4.6h-12.9zM23.3 55.0h4.3v4.6h-4.3zM70.6 55.0h12.9v4.6h-12.9zM-2.5 59.6h8.6v4.6h-8.6zM23.3 59.6h4.3v4.6h-4.3zM53.4 59.6h4.3v4.6h-4.3zM66.3 59.6h8.6v4.6h-8.6zM83.5 59.6h4.3v4.6h-4.3zM-2.5 64.2h4.3v4.6h-4.3zM23.3 64.2h4.3v4.6h-4.3zM31.9 64.2h4.3v4.6h-4.3zM57.7 64.2h8.6v4.6h-8.6zM70.6 64.2h8.6v4.6h-8.6zM83.5 64.2h4.3v4.6h-4.3zM6.1 68.8h4.3v4.6h-4.3zM31.9 68.8h4.3v4.6h-4.3zM10.4 73.4h17.2v4.6h-17.2zM31.9 73.4h4.3v4.6h-4.3zM14.7 78.0h4.3v4.6h-4.3zM23.3 78.0h8.6v4.6h-8.6zM44.8 78.0h4.3v4.6h-4.3zM14.7 82.6h4.3v4.6h-4.3zM27.6 82.6h4.3v4.6h-4.3z"/></g><g opacity="0.35" shape-rendering="crispEdges"><path fill="#ffffff" d="M-2.5 -0.2h38.7v4.6h-38.7zM66.3 -0.2h17.2v4.6h-17.2zM79.2 59.6h4.3v4.6h-4.3zM66.3 64.2h4.3v4.6h-4.3zM79.2 64.2h4.3v4.6h-4.3zM-2.5 68.8h4.3v4.6h-4.3zM-2.5 73.4h4.3v4.6h-4.3zM79.2 73.4h8.6v4.6h-8.6zM-2.5 78.0h12.9v4.6h-12.9zM53.4 78.0h4.3v4.6h-4.3zM62.0 78.0h25.8v4.6h-25.8zM-2.5 82.6h8.6v4.6h-8.6zM23.3 82.6h4.3v4.6h-4.3zM53.4 82.6h34.4v4.6h-34.4z"/><path fill="#000000" d="M36.2 -0.2h4.3v4.6h-4.3zM79.2 45.8h4.3v4.6h-4.3zM66.3 50.4h4.3v4.6h-4.3zM79.2 50.4h4.3v4.6h-4.3zM83.5 55.0h4.3v4.6h-4.3zM6.1 59.6h4.3v4.6h-4.3zM1.8 64.2h8.6v4.6h-8.6zM53.4 64.2h4.3v4.6h-4.3zM1.8 68.8h4.3v4.6h-4.3zM53.4 68.8h34.4v4.6h-34.4zM1.8 73.4h8.6v4.6h-8.6zM53.4 73.4h8.6v4.6h-8.6zM66.3 73.4h12.9v4.6h-12.9zM10.4 78.0h4.3v4.6h-4.3zM19.0 78.0h4.3v4.6h-4.3zM31.9 78.0h4.3v4.6h-4.3zM57.7 78.0h4.3v4.6h-4.3zM6.1 82.6h4.3v4.6h-4.3zM31.9 82.6h4.3v4.6h-4.3z"/><path fill="#000090" d="M40.5 -0.2h8.6v4.6h-8.6zM57.7 -0.2h8.6v4.6h-8.6zM83.5 -0.2h4.3v4.6h-4.3zM66.3 4.4h21.5v4.6h-21.5zM6.1 9.0h21.5v4.6h-21.5zM44.8 9.0h4.3v4.6h-4.3zM57.7 9.0h4.3v4.6h-4.3zM23.3 13.6h4.3v4.6h-4.3zM-2.5 36.6h4.3v4.6h-4.3zM62.0 36.6h8.6v4.6h-8.6zM79.2 41.2h8.6v4.6h-8.6zM70.6 45.8h8.6v4.6h-8.6zM83.5 45.8h4.3v4.6h-4.3zM70.6 50.4h8.6v4.6h-8.6zM83.5 50.4h4.3v4.6h-4.3z"/><path fill="#0010d8" d="M49.1 -0.2h8.6v4.6h-8.6zM10.4 4.4h8.6v4.6h-8.6zM23.3 4.4h8.6v4.6h-8.6zM36.2 4.4h8.6v4.6h-8.6zM49.1 4.4h8.6v4.6h-8.6zM62.0 4.4h4.3v4.6h-4.3zM1.8 9.0h4.3v4.6h-4.3zM36.2 9.0h8.6v4.6h-8.6zM49.1 9.0h8.6v4.6h-8.6zM62.0 9.0h4.3v4.6h-4.3zM83.5 9.0h4.3v4.6h-4.3zM49.1 13.6h8.6v4.6h-8.6zM66.3 13.6h4.3v4.6h-4.3zM83.5 13.6h4.3v4.6h-4.3zM1.8 18.2h17.2v4.6h-17.2zM23.3 18.2h4.3v4.6h-4.3zM79.2 18.2h8.6v4.6h-8.6zM10.4 22.8h4.3v4.6h-4.3zM83.5 22.8h4.3v4.6h-4.3zM74.9 27.4h8.6v4.6h-8.6zM74.9 32.0h8.6v4.6h-8.6zM57.7 36.6h4.3v4.6h-4.3zM74.9 36.6h8.6v4.6h-8.6zM-2.5 41.2h4.3v4.6h-4.3zM62.0 41.2h17.2v4.6h-17.2zM62.0 45.8h8.6v4.6h-8.6zM-2.5 50.4h17.2v4.6h-17.2zM62.0 50.4h4.3v4.6h-4.3zM10.4 55.0h8.6v4.6h-8.6zM53.4 55.0h17.2v4.6h-17.2zM10.4 59.6h8.6v4.6h-8.6zM27.6 59.6h4.3v4.6h-4.3zM62.0 59.6h4.3v4.6h-4.3zM74.9 59.6h4.3v4.6h-4.3zM14.7 64.2h4.3v4.6h-4.3zM27.6 64.2h4.3v4.6h-4.3zM36.2 64.2h8.6v4.6h-8.6zM49.1 64.2h4.3v4.6h-4.3zM10.4 68.8h17.2v4.6h-17.2zM40.5 68.8h4.3v4.6h-4.3zM49.1 68.8h4.3v4.6h-4.3zM27.6 73.4h4.3v4.6h-4.3zM49.1 73.4h4.3v4.6h-4.3zM62.0 73.4h4.3v4.6h-4.3zM10.4 82.6h4.3v4.6h-4.3zM19.0 82.6h4.3v4.6h-4.3z"/><path fill="#0048ff" d="M-2.5 4.4h12.9v4.6h-12.9zM19.0 4.4h4.3v4.6h-4.3zM31.9 4.4h4.3v4.6h-4.3zM44.8 4.4h4.3v4.6h-4.3zM57.7 4.4h4.3v4.6h-4.3zM-2.5 9.0h4.3v4.6h-4.3zM-2.5 13.6h8.6v4.6h-8.6zM27.6 13.6h4.3v4.6h-4.3zM62.0 13.6h4.3v4.6h-4.3zM79.2 13.6h4.3v4.6h-4.3zM19.0 18.2h4.3v4.6h-4.3zM44.8 18.2h4.3v4.6h-4.3zM57.7 18.2h8.6v4.6h-8.6zM74.9 18.2h4.3v4.6h-4.3zM1.8 22.8h8.6v4.6h-8.6zM14.7 22.8h4.3v4.6h-4.3zM27.6 22.8h4.3v4.6h-4.3zM57.7 22.8h8.6v4.6h-8.6zM74.9 22.8h8.6v4.6h-8.6zM1.8 27.4h12.9v4.6h-12.9zM62.0 27.4h12.9v4.6h-12.9zM1.8 32.0h17.2v4.6h-17.2zM57.7 32.0h4.3v4.6h-4.3zM66.3 32.0h4.3v4.6h-4.3zM83.5 32.0h4.3v4.6h-4.3zM1.8 36.6h4.3v4.6h-4.3zM14.7 36.6h4.3v4.6h-4.3zM70.6 36.6h4.3v4.6h-4.3zM1.8 41.2h4.3v4.6h-4.3zM57.7 41.2h4.3v4.6h-4.3zM-2.5 45.8h17.2v4.6h-17.2zM57.7 45.8h4.3v4.6h-4.3zM27.6 55.0h4.3v4.6h-4.3zM19.0 59.6h4.3v4.6h-4.3zM49.1 59.6h4.3v4.6h-4.3zM10.4 64.2h4.3v4.6h-4.3zM19.0 64.2h4.3v4.6h-4.3zM27.6 68.8h4.3v4.6h-4.3zM36.2 68.8h4.3v4.6h-4.3zM44.8 68.8h4.3v4.6h-4.3zM36.2 73.4h12.9v4.6h-12.9zM36.2 78.0h8.6v4.6h-8.6zM49.1 78.0h4.3v4.6h-4.3zM36.2 82.6h8.6v4.6h-8.6zM49.1 82.6h4.3v4.6h-4.3z"/><path fill="#ececf6" d="M27.6 9.0h8.6v4.6h-8.6zM66.3 9.0h17.2v4.6h-17.2zM6.1 13.6h17.2v4.6h-17.2zM40.5 13.6h8.6v4.6h-8.6zM57.7 13.6h4.3v4.6h-4.3zM74.9 13.6h4.3v4.6h-4.3zM-2.5 18.2h4.3v4.6h-4.3zM49.1 32.0h4.3v4.6h-4.3zM53.4 36.6h4.3v4.6h-4.3zM83.5 36.6h4.3v4.6h-4.3zM6.1 41.2h4.3v4.6h-4.3zM53.4 41.2h4.3v4.6h-4.3zM53.4 45.8h4.3v4.6h-4.3z"/><path fill="#0090ff" d="M31.9 13.6h8.6v4.6h-8.6zM27.6 18.2h17.2v4.6h-17.2zM49.1 18.2h4.3v4.6h-4.3zM66.3 18.2h8.6v4.6h-8.6zM-2.5 22.8h4.3v4.6h-4.3zM31.9 22.8h4.3v4.6h-4.3zM44.8 22.8h12.9v4.6h-12.9zM66.3 22.8h8.6v4.6h-8.6zM-2.5 27.4h4.3v4.6h-4.3zM14.7 27.4h4.3v4.6h-4.3zM53.4 27.4h8.6v4.6h-8.6zM83.5 27.4h4.3v4.6h-4.3zM-2.5 32.0h4.3v4.6h-4.3zM53.4 32.0h4.3v4.6h-4.3zM62.0 32.0h4.3v4.6h-4.3zM70.6 32.0h4.3v4.6h-4.3zM6.1 36.6h8.6v4.6h-8.6zM10.4 41.2h8.6v4.6h-8.6zM44.8 41.2h4.3v4.6h-4.3zM19.0 45.8h4.3v4.6h-4.3zM14.7 50.4h12.9v4.6h-12.9zM53.4 50.4h4.3v4.6h-4.3zM19.0 55.0h4.3v4.6h-4.3zM49.1 55.0h4.3v4.6h-4.3zM31.9 59.6h12.9v4.6h-12.9zM57.7 59.6h4.3v4.6h-4.3zM44.8 64.2h4.3v4.6h-4.3z"/><path fill="#20f0e8" d="M70.6 13.6h4.3v4.6h-4.3zM53.4 18.2h4.3v4.6h-4.3zM36.2 22.8h8.6v4.6h-8.6zM31.9 27.4h4.3v4.6h-4.3zM23.3 32.0h4.3v4.6h-4.3zM27.6 36.6h4.3v4.6h-4.3zM44.8 36.6h4.3v4.6h-4.3zM27.6 41.2h4.3v4.6h-4.3zM27.6 45.8h8.6v4.6h-8.6zM31.9 50.4h4.3v4.6h-4.3zM31.9 55.0h12.9v4.6h-12.9z"/><path fill="#00c8ff" d="M19.0 22.8h8.6v4.6h-8.6zM19.0 27.4h12.9v4.6h-12.9zM44.8 27.4h8.6v4.6h-8.6zM19.0 32.0h4.3v4.6h-4.3zM31.9 32.0h4.3v4.6h-4.3zM44.8 32.0h4.3v4.6h-4.3zM19.0 36.6h8.6v4.6h-8.6zM31.9 36.6h4.3v4.6h-4.3zM19.0 41.2h8.6v4.6h-8.6zM49.1 41.2h4.3v4.6h-4.3zM14.7 45.8h4.3v4.6h-4.3zM23.3 45.8h4.3v4.6h-4.3zM44.8 45.8h8.6v4.6h-8.6zM27.6 50.4h4.3v4.6h-4.3zM49.1 50.4h4.3v4.6h-4.3zM57.7 50.4h4.3v4.6h-4.3zM44.8 55.0h4.3v4.6h-4.3zM44.8 59.6h4.3v4.6h-4.3z"/><path fill="#c0ff40" d="M36.2 27.4h4.3v4.6h-4.3zM27.6 32.0h4.3v4.6h-4.3zM49.1 36.6h4.3v4.6h-4.3zM36.2 45.8h8.6v4.6h-8.6zM44.8 50.4h4.3v4.6h-4.3zM44.8 82.6h4.3v4.6h-4.3z"/><path fill="#78ffa0" d="M40.5 27.4h4.3v4.6h-4.3zM36.2 32.0h4.3v4.6h-4.3zM36.2 36.6h4.3v4.6h-4.3zM31.9 41.2h12.9v4.6h-12.9zM36.2 50.4h8.6v4.6h-8.6z"/><path fill="#ffa800" d="M40.5 36.6h4.3v4.6h-4.3z"/><path fill="#000058" d="M-2.5 55.0h12.9v4.6h-12.9zM23.3 55.0h4.3v4.6h-4.3zM70.6 55.0h12.9v4.6h-12.9zM-2.5 59.6h8.6v4.6h-8.6zM23.3 59.6h4.3v4.6h-4.3zM53.4 59.6h4.3v4.6h-4.3zM66.3 59.6h8.6v4.6h-8.6zM83.5 59.6h4.3v4.6h-4.3zM-2.5 64.2h4.3v4.6h-4.3zM23.3 64.2h4.3v4.6h-4.3zM31.9 64.2h4.3v4.6h-4.3zM57.7 64.2h8.6v4.6h-8.6zM70.6 64.2h8.6v4.6h-8.6zM83.5 64.2h4.3v4.6h-4.3zM6.1 68.8h4.3v4.6h-4.3zM31.9 68.8h4.3v4.6h-4.3zM10.4 73.4h17.2v4.6h-17.2zM31.9 73.4h4.3v4.6h-4.3zM14.7 78.0h4.3v4.6h-4.3zM23.3 78.0h8.6v4.6h-8.6zM44.8 78.0h4.3v4.6h-4.3zM14.7 82.6h4.3v4.6h-4.3zM27.6 82.6h4.3v4.6h-4.3z"/></g><g><rect x="41.25" y="31.90" width="4.00" height="4.00" fill="#f0f020" stroke="#f01000" stroke-width="1.7"/></g></svg>
<svg class="p" style="left:515.0px;top:233.2px" width="86.4" height="85.8" viewBox="0 0 86.4 85.8"><rect width="100%" height="100%" fill="#e3e3e8"/><g filter="url(#bl)" shape-rendering="crispEdges"><path fill="#ffffff" d="M-1.3 0.3h55.9v4.6h-55.9zM67.5 69.3h4.3v4.6h-4.3zM7.3 73.9h4.3v4.6h-4.3zM67.5 73.9h4.3v4.6h-4.3zM76.1 73.9h8.6v4.6h-8.6zM-1.3 78.5h12.9v4.6h-12.9zM67.5 78.5h17.2v4.6h-17.2zM-1.3 83.1h12.9v4.6h-12.9zM28.8 83.1h4.3v4.6h-4.3zM46.0 83.1h4.3v4.6h-4.3zM54.6 83.1h30.1v4.6h-30.1z"/><path fill="#000090" d="M54.6 0.3h12.9v4.6h-12.9zM71.8 0.3h17.2v4.6h-17.2zM-1.3 4.9h8.6v4.6h-8.6zM28.8 4.9h8.6v4.6h-8.6zM67.5 4.9h4.3v4.6h-4.3zM28.8 9.5h4.3v4.6h-4.3zM46.0 9.5h4.3v4.6h-4.3zM76.1 9.5h4.3v4.6h-4.3zM-1.3 14.1h12.9v4.6h-12.9zM28.8 14.1h4.3v4.6h-4.3zM50.3 14.1h4.3v4.6h-4.3zM84.7 23.3h4.3v4.6h-4.3zM84.7 32.5h4.3v4.6h-4.3zM80.4 37.1h8.6v4.6h-8.6zM76.1 46.3h4.3v4.6h-4.3zM50.3 50.9h4.3v4.6h-4.3zM76.1 50.9h4.3v4.6h-4.3zM63.2 55.5h4.3v4.6h-4.3zM76.1 55.5h4.3v4.6h-4.3zM76.1 60.1h4.3v4.6h-4.3zM20.2 64.7h4.3v4.6h-4.3zM67.5 64.7h4.3v4.6h-4.3zM76.1 64.7h4.3v4.6h-4.3zM3.0 69.3h8.6v4.6h-8.6zM28.8 69.3h4.3v4.6h-4.3zM76.1 69.3h4.3v4.6h-4.3zM54.6 73.9h4.3v4.6h-4.3zM63.2 73.9h4.3v4.6h-4.3zM71.8 73.9h4.3v4.6h-4.3zM11.6 78.5h8.6v4.6h-8.6zM11.6 83.1h4.3v4.6h-4.3z"/><path fill="#0010d8" d="M67.5 0.3h4.3v4.6h-4.3zM7.3 4.9h4.3v4.6h-4.3zM15.9 4.9h12.9v4.6h-12.9zM37.4 4.9h8.6v4.6h-8.6zM58.9 4.9h8.6v4.6h-8.6zM71.8 4.9h8.6v4.6h-8.6zM-1.3 9.5h4.3v4.6h-4.3zM7.3 9.5h4.3v4.6h-4.3zM15.9 9.5h4.3v4.6h-4.3zM33.1 9.5h8.6v4.6h-8.6zM50.3 9.5h4.3v4.6h-4.3zM63.2 9.5h12.9v4.6h-12.9zM80.4 9.5h4.3v4.6h-4.3zM11.6 14.1h4.3v4.6h-4.3zM20.2 14.1h8.6v4.6h-8.6zM37.4 14.1h4.3v4.6h-4.3zM46.0 14.1h4.3v4.6h-4.3zM67.5 14.1h4.3v4.6h-4.3zM-1.3 18.7h4.3v4.6h-4.3zM15.9 18.7h4.3v4.6h-4.3zM84.7 18.7h4.3v4.6h-4.3zM80.4 23.3h4.3v4.6h-4.3zM3.0 27.9h4.3v4.6h-4.3zM71.8 27.9h17.2v4.6h-17.2zM58.9 32.5h4.3v4.6h-4.3zM71.8 32.5h12.9v4.6h-12.9zM67.5 37.1h8.6v4.6h-8.6zM76.1 41.7h4.3v4.6h-4.3zM3.0 46.3h4.3v4.6h-4.3zM15.9 50.9h4.3v4.6h-4.3zM63.2 50.9h8.6v4.6h-8.6zM58.9 55.5h4.3v4.6h-4.3zM67.5 55.5h8.6v4.6h-8.6zM-1.3 60.1h8.6v4.6h-8.6zM15.9 60.1h4.3v4.6h-4.3zM58.9 60.1h17.2v4.6h-17.2zM-1.3 64.7h21.5v4.6h-21.5zM24.5 64.7h4.3v4.6h-4.3zM58.9 64.7h8.6v4.6h-8.6zM71.8 64.7h4.3v4.6h-4.3zM-1.3 69.3h4.3v4.6h-4.3zM11.6 69.3h4.3v4.6h-4.3zM24.5 69.3h4.3v4.6h-4.3zM50.3 69.3h17.2v4.6h-17.2zM71.8 69.3h4.3v4.6h-4.3zM-1.3 73.9h4.3v4.6h-4.3zM11.6 73.9h4.3v4.6h-4.3zM28.8 73.9h4.3v4.6h-4.3zM58.9 73.9h4.3v4.6h-4.3zM20.2 78.5h4.3v4.6h-4.3zM54.6 78.5h12.9v4.6h-12.9zM15.9 83.1h8.6v4.6h-8.6zM41.7 83.1h4.3v4.6h-4.3z"/><path fill="#0048ff" d="M11.6 4.9h4.3v4.6h-4.3zM46.0 4.9h12.9v4.6h-12.9zM80.4 4.9h8.6v4.6h-8.6zM54.6 9.5h8.6v4.6h-8.6zM84.7 9.5h4.3v4.6h-4.3zM15.9 14.1h4.3v4.6h-4.3zM41.7 14.1h4.3v4.6h-4.3zM84.7 14.1h4.3v4.6h-4.3zM3.0 18.7h4.3v4.6h-4.3zM11.6 18.7h4.3v4.6h-4.3zM67.5 18.7h4.3v4.6h-4.3zM76.1 18.7h8.6v4.6h-8.6zM67.5 23.3h4.3v4.6h-4.3zM76.1 23.3h4.3v4.6h-4.3zM7.3 27.9h4.3v4.6h-4.3zM41.7 27.9h4.3v4.6h-4.3zM67.5 27.9h4.3v4.6h-4.3zM67.5 41.7h8.6v4.6h-8.6zM-1.3 46.3h4.3v4.6h-4.3zM58.9 46.3h17.2v4.6h-17.2zM-1.3 50.9h8.6v4.6h-8.6zM58.9 50.9h4.3v4.6h-4.3zM-1.3 55.5h4.3v4.6h-4.3zM15.9 55.5h4.3v4.6h-4.3zM50.3 55.5h8.6v4.6h-8.6zM7.3 60.1h4.3v4.6h-4.3zM20.2 60.1h8.6v4.6h-8.6zM41.7 60.1h4.3v4.6h-4.3zM28.8 64.7h4.3v4.6h-4.3zM41.7 64.7h4.3v4.6h-4.3zM50.3 64.7h8.6v4.6h-8.6zM15.9 69.3h4.3v4.6h-4.3zM3.0 73.9h4.3v4.6h-4.3zM15.9 73.9h8.6v4.6h-8.6zM46.0 73.9h8.6v4.6h-8.6zM41.7 78.5h4.3v4.6h-4.3zM24.5 83.1h4.3v4.6h-4.3zM37.4 83.1h4.3v4.6h-4.3z"/><path fill="#ececf6" d="M3.0 9.5h4.3v4.6h-4.3zM20.2 9.5h8.6v4.6h-8.6zM41.7 9.5h4.3v4.6h-4.3zM76.1 14.1h8.6v4.6h-8.6zM28.8 23.3h4.3v4.6h-4.3zM71.8 23.3h4.3v4.6h-4.3zM76.1 37.1h4.3v4.6h-4.3zM80.4 41.7h4.3v4.6h-4.3zM80.4 46.3h4.3v4.6h-4.3zM3.0 55.5h4.3v4.6h-4.3z"/><path fill="#20f0e8" d="M11.6 9.5h4.3v4.6h-4.3zM11.6 23.3h4.3v4.6h-4.3zM33.1 23.3h4.3v4.6h-4.3zM41.7 23.3h4.3v4.6h-4.3zM-1.3 32.5h8.6v4.6h-8.6zM28.8 32.5h4.3v4.6h-4.3zM24.5 37.1h4.3v4.6h-4.3zM3.0 41.7h4.3v4.6h-4.3zM20.2 41.7h8.6v4.6h-8.6zM50.3 41.7h4.3v4.6h-4.3zM7.3 46.3h4.3v4.6h-4.3zM20.2 46.3h4.3v4.6h-4.3zM50.3 46.3h4.3v4.6h-4.3zM11.6 50.9h4.3v4.6h-4.3zM33.1 50.9h4.3v4.6h-4.3zM41.7 50.9h8.6v4.6h-8.6zM46.0 55.5h4.3v4.6h-4.3zM33.1 64.7h4.3v4.6h-4.3zM37.4 73.9h4.3v4.6h-4.3z"/><path fill="#78ffa0" d="M33.1 14.1h4.3v4.6h-4.3zM33.1 18.7h4.3v4.6h-4.3zM50.3 18.7h4.3v4.6h-4.3zM-1.3 27.9h4.3v4.6h-4.3zM15.9 27.9h4.3v4.6h-4.3zM33.1 27.9h4.3v4.6h-4.3zM28.8 37.1h4.3v4.6h-4.3zM50.3 37.1h8.6v4.6h-8.6zM7.3 41.7h4.3v4.6h-4.3zM28.8 41.7h8.6v4.6h-8.6zM41.7 41.7h8.6v4.6h-8.6zM41.7 46.3h4.3v4.6h-4.3zM37.4 50.9h4.3v4.6h-4.3zM46.0 60.1h4.3v4.6h-4.3zM37.4 78.5h4.3v4.6h-4.3z"/><path fill="#0090ff" d="M54.6 14.1h12.9v4.6h-12.9zM71.8 14.1h4.3v4.6h-4.3zM7.3 18.7h4.3v4.6h-4.3zM24.5 18.7h8.6v4.6h-8.6zM41.7 18.7h4.3v4.6h-4.3zM54.6 18.7h8.6v4.6h-8.6zM71.8 18.7h4.3v4.6h-4.3zM-1.3 23.3h4.3v4.6h-4.3zM54.6 23.3h4.3v4.6h-4.3zM11.6 27.9h4.3v4.6h-4.3zM28.8 27.9h4.3v4.6h-4.3zM50.3 27.9h17.2v4.6h-17.2zM7.3 32.5h12.9v4.6h-12.9zM63.2 32.5h8.6v4.6h-8.6zM11.6 37.1h4.3v4.6h-4.3zM58.9 37.1h4.3v4.6h-4.3zM11.6 41.7h4.3v4.6h-4.3zM58.9 41.7h8.6v4.6h-8.6zM11.6 46.3h4.3v4.6h-4.3zM20.2 50.9h8.6v4.6h-8.6zM71.8 50.9h4.3v4.6h-4.3zM7.3 55.5h8.6v4.6h-8.6zM20.2 55.5h8.6v4.6h-8.6zM28.8 60.1h4.3v4.6h-4.3zM37.4 60.1h4.3v4.6h-4.3zM50.3 60.1h4.3v4.6h-4.3zM37.4 64.7h4.3v4.6h-4.3zM33.1 69.3h4.3v4.6h-4.3zM41.7 69.3h4.3v4.6h-4.3zM24.5 73.9h4.3v4.6h-4.3zM41.7 73.9h4.3v4.6h-4.3zM24.5 78.5h8.6v4.6h-8.6zM46.0 78.5h4.3v4.6h-4.3z"/><path fill="#00c8ff" d="M20.2 18.7h4.3v4.6h-4.3zM37.4 18.7h4.3v4.6h-4.3zM46.0 18.7h4.3v4.6h-4.3zM63.2 18.7h4.3v4.6h-4.3zM3.0 23.3h8.6v4.6h-8.6zM15.9 23.3h12.9v4.6h-12.9zM37.4 23.3h4.3v4.6h-4.3zM46.0 23.3h8.6v4.6h-8.6zM58.9 23.3h8.6v4.6h-8.6zM20.2 27.9h8.6v4.6h-8.6zM46.0 27.9h4.3v4.6h-4.3zM20.2 32.5h8.6v4.6h-8.6zM54.6 32.5h4.3v4.6h-4.3zM-1.3 37.1h12.9v4.6h-12.9zM15.9 37.1h8.6v4.6h-8.6zM63.2 37.1h4.3v4.6h-4.3zM-1.3 41.7h4.3v4.6h-4.3zM15.9 41.7h4.3v4.6h-4.3zM15.9 46.3h4.3v4.6h-4.3zM24.5 46.3h4.3v4.6h-4.3zM54.6 46.3h4.3v4.6h-4.3zM7.3 50.9h4.3v4.6h-4.3zM28.8 50.9h4.3v4.6h-4.3zM54.6 50.9h4.3v4.6h-4.3zM28.8 55.5h17.2v4.6h-17.2zM11.6 60.1h4.3v4.6h-4.3zM33.1 60.1h4.3v4.6h-4.3zM54.6 60.1h4.3v4.6h-4.3zM46.0 64.7h4.3v4.6h-4.3zM20.2 69.3h4.3v4.6h-4.3zM37.4 69.3h4.3v4.6h-4.3zM46.0 69.3h4.3v4.6h-4.3zM33.1 73.9h4.3v4.6h-4.3zM33.1 78.5h4.3v4.6h-4.3zM50.3 78.5h4.3v4.6h-4.3zM33.1 83.1h4.3v4.6h-4.3z"/><path fill="#c0ff40" d="M37.4 27.9h4.3v4.6h-4.3zM33.1 32.5h4.3v4.6h-4.3zM46.0 32.5h8.6v4.6h-8.6zM33.1 37.1h8.6v4.6h-8.6zM54.6 41.7h4.3v4.6h-4.3zM28.8 46.3h4.3v4.6h-4.3zM46.0 46.3h4.3v4.6h-4.3zM50.3 83.1h4.3v4.6h-4.3z"/><path fill="#fff000" d="M37.4 32.5h4.3v4.6h-4.3zM41.7 37.1h8.6v4.6h-8.6zM33.1 46.3h8.6v4.6h-8.6z"/><path fill="#ffa800" d="M37.4 41.7h4.3v4.6h-4.3z"/><path fill="#000000" d="M80.4 50.9h4.3v4.6h-4.3zM80.4 55.5h4.3v4.6h-4.3zM80.4 60.1h4.3v4.6h-4.3zM80.4 64.7h4.3v4.6h-4.3zM80.4 69.3h4.3v4.6h-4.3z"/></g><g opacity="0.35" shape-rendering="crispEdges"><path fill="#ffffff" d="M-1.3 0.3h55.9v4.6h-55.9zM67.5 69.3h4.3v4.6h-4.3zM7.3 73.9h4.3v4.6h-4.3zM67.5 73.9h4.3v4.6h-4.3zM76.1 73.9h8.6v4.6h-8.6zM-1.3 78.5h12.9v4.6h-12.9zM67.5 78.5h17.2v4.6h-17.2zM-1.3 83.1h12.9v4.6h-12.9zM28.8 83.1h4.3v4.6h-4.3zM46.0 83.1h4.3v4.6h-4.3zM54.6 83.1h30.1v4.6h-30.1z"/><path fill="#000090" d="M54.6 0.3h12.9v4.6h-12.9zM71.8 0.3h17.2v4.6h-17.2zM-1.3 4.9h8.6v4.6h-8.6zM28.8 4.9h8.6v4.6h-8.6zM67.5 4.9h4.3v4.6h-4.3zM28.8 9.5h4.3v4.6h-4.3zM46.0 9.5h4.3v4.6h-4.3zM76.1 9.5h4.3v4.6h-4.3zM-1.3 14.1h12.9v4.6h-12.9zM28.8 14.1h4.3v4.6h-4.3zM50.3 14.1h4.3v4.6h-4.3zM84.7 23.3h4.3v4.6h-4.3zM84.7 32.5h4.3v4.6h-4.3zM80.4 37.1h8.6v4.6h-8.6zM76.1 46.3h4.3v4.6h-4.3zM50.3 50.9h4.3v4.6h-4.3zM76.1 50.9h4.3v4.6h-4.3zM63.2 55.5h4.3v4.6h-4.3zM76.1 55.5h4.3v4.6h-4.3zM76.1 60.1h4.3v4.6h-4.3zM20.2 64.7h4.3v4.6h-4.3zM67.5 64.7h4.3v4.6h-4.3zM76.1 64.7h4.3v4.6h-4.3zM3.0 69.3h8.6v4.6h-8.6zM28.8 69.3h4.3v4.6h-4.3zM76.1 69.3h4.3v4.6h-4.3zM54.6 73.9h4.3v4.6h-4.3zM63.2 73.9h4.3v4.6h-4.3zM71.8 73.9h4.3v4.6h-4.3zM11.6 78.5h8.6v4.6h-8.6zM11.6 83.1h4.3v4.6h-4.3z"/><path fill="#0010d8" d="M67.5 0.3h4.3v4.6h-4.3zM7.3 4.9h4.3v4.6h-4.3zM15.9 4.9h12.9v4.6h-12.9zM37.4 4.9h8.6v4.6h-8.6zM58.9 4.9h8.6v4.6h-8.6zM71.8 4.9h8.6v4.6h-8.6zM-1.3 9.5h4.3v4.6h-4.3zM7.3 9.5h4.3v4.6h-4.3zM15.9 9.5h4.3v4.6h-4.3zM33.1 9.5h8.6v4.6h-8.6zM50.3 9.5h4.3v4.6h-4.3zM63.2 9.5h12.9v4.6h-12.9zM80.4 9.5h4.3v4.6h-4.3zM11.6 14.1h4.3v4.6h-4.3zM20.2 14.1h8.6v4.6h-8.6zM37.4 14.1h4.3v4.6h-4.3zM46.0 14.1h4.3v4.6h-4.3zM67.5 14.1h4.3v4.6h-4.3zM-1.3 18.7h4.3v4.6h-4.3zM15.9 18.7h4.3v4.6h-4.3zM84.7 18.7h4.3v4.6h-4.3zM80.4 23.3h4.3v4.6h-4.3zM3.0 27.9h4.3v4.6h-4.3zM71.8 27.9h17.2v4.6h-17.2zM58.9 32.5h4.3v4.6h-4.3zM71.8 32.5h12.9v4.6h-12.9zM67.5 37.1h8.6v4.6h-8.6zM76.1 41.7h4.3v4.6h-4.3zM3.0 46.3h4.3v4.6h-4.3zM15.9 50.9h4.3v4.6h-4.3zM63.2 50.9h8.6v4.6h-8.6zM58.9 55.5h4.3v4.6h-4.3zM67.5 55.5h8.6v4.6h-8.6zM-1.3 60.1h8.6v4.6h-8.6zM15.9 60.1h4.3v4.6h-4.3zM58.9 60.1h17.2v4.6h-17.2zM-1.3 64.7h21.5v4.6h-21.5zM24.5 64.7h4.3v4.6h-4.3zM58.9 64.7h8.6v4.6h-8.6zM71.8 64.7h4.3v4.6h-4.3zM-1.3 69.3h4.3v4.6h-4.3zM11.6 69.3h4.3v4.6h-4.3zM24.5 69.3h4.3v4.6h-4.3zM50.3 69.3h17.2v4.6h-17.2zM71.8 69.3h4.3v4.6h-4.3zM-1.3 73.9h4.3v4.6h-4.3zM11.6 73.9h4.3v4.6h-4.3zM28.8 73.9h4.3v4.6h-4.3zM58.9 73.9h4.3v4.6h-4.3zM20.2 78.5h4.3v4.6h-4.3zM54.6 78.5h12.9v4.6h-12.9zM15.9 83.1h8.6v4.6h-8.6zM41.7 83.1h4.3v4.6h-4.3z"/><path fill="#0048ff" d="M11.6 4.9h4.3v4.6h-4.3zM46.0 4.9h12.9v4.6h-12.9zM80.4 4.9h8.6v4.6h-8.6zM54.6 9.5h8.6v4.6h-8.6zM84.7 9.5h4.3v4.6h-4.3zM15.9 14.1h4.3v4.6h-4.3zM41.7 14.1h4.3v4.6h-4.3zM84.7 14.1h4.3v4.6h-4.3zM3.0 18.7h4.3v4.6h-4.3zM11.6 18.7h4.3v4.6h-4.3zM67.5 18.7h4.3v4.6h-4.3zM76.1 18.7h8.6v4.6h-8.6zM67.5 23.3h4.3v4.6h-4.3zM76.1 23.3h4.3v4.6h-4.3zM7.3 27.9h4.3v4.6h-4.3zM41.7 27.9h4.3v4.6h-4.3zM67.5 27.9h4.3v4.6h-4.3zM67.5 41.7h8.6v4.6h-8.6zM-1.3 46.3h4.3v4.6h-4.3zM58.9 46.3h17.2v4.6h-17.2zM-1.3 50.9h8.6v4.6h-8.6zM58.9 50.9h4.3v4.6h-4.3zM-1.3 55.5h4.3v4.6h-4.3zM15.9 55.5h4.3v4.6h-4.3zM50.3 55.5h8.6v4.6h-8.6zM7.3 60.1h4.3v4.6h-4.3zM20.2 60.1h8.6v4.6h-8.6zM41.7 60.1h4.3v4.6h-4.3zM28.8 64.7h4.3v4.6h-4.3zM41.7 64.7h4.3v4.6h-4.3zM50.3 64.7h8.6v4.6h-8.6zM15.9 69.3h4.3v4.6h-4.3zM3.0 73.9h4.3v4.6h-4.3zM15.9 73.9h8.6v4.6h-8.6zM46.0 73.9h8.6v4.6h-8.6zM41.7 78.5h4.3v4.6h-4.3zM24.5 83.1h4.3v4.6h-4.3zM37.4 83.1h4.3v4.6h-4.3z"/><path fill="#ececf6" d="M3.0 9.5h4.3v4.6h-4.3zM20.2 9.5h8.6v4.6h-8.6zM41.7 9.5h4.3v4.6h-4.3zM76.1 14.1h8.6v4.6h-8.6zM28.8 23.3h4.3v4.6h-4.3zM71.8 23.3h4.3v4.6h-4.3zM76.1 37.1h4.3v4.6h-4.3zM80.4 41.7h4.3v4.6h-4.3zM80.4 46.3h4.3v4.6h-4.3zM3.0 55.5h4.3v4.6h-4.3z"/><path fill="#20f0e8" d="M11.6 9.5h4.3v4.6h-4.3zM11.6 23.3h4.3v4.6h-4.3zM33.1 23.3h4.3v4.6h-4.3zM41.7 23.3h4.3v4.6h-4.3zM-1.3 32.5h8.6v4.6h-8.6zM28.8 32.5h4.3v4.6h-4.3zM24.5 37.1h4.3v4.6h-4.3zM3.0 41.7h4.3v4.6h-4.3zM20.2 41.7h8.6v4.6h-8.6zM50.3 41.7h4.3v4.6h-4.3zM7.3 46.3h4.3v4.6h-4.3zM20.2 46.3h4.3v4.6h-4.3zM50.3 46.3h4.3v4.6h-4.3zM11.6 50.9h4.3v4.6h-4.3zM33.1 50.9h4.3v4.6h-4.3zM41.7 50.9h8.6v4.6h-8.6zM46.0 55.5h4.3v4.6h-4.3zM33.1 64.7h4.3v4.6h-4.3zM37.4 73.9h4.3v4.6h-4.3z"/><path fill="#78ffa0" d="M33.1 14.1h4.3v4.6h-4.3zM33.1 18.7h4.3v4.6h-4.3zM50.3 18.7h4.3v4.6h-4.3zM-1.3 27.9h4.3v4.6h-4.3zM15.9 27.9h4.3v4.6h-4.3zM33.1 27.9h4.3v4.6h-4.3zM28.8 37.1h4.3v4.6h-4.3zM50.3 37.1h8.6v4.6h-8.6zM7.3 41.7h4.3v4.6h-4.3zM28.8 41.7h8.6v4.6h-8.6zM41.7 41.7h8.6v4.6h-8.6zM41.7 46.3h4.3v4.6h-4.3zM37.4 50.9h4.3v4.6h-4.3zM46.0 60.1h4.3v4.6h-4.3zM37.4 78.5h4.3v4.6h-4.3z"/><path fill="#0090ff" d="M54.6 14.1h12.9v4.6h-12.9zM71.8 14.1h4.3v4.6h-4.3zM7.3 18.7h4.3v4.6h-4.3zM24.5 18.7h8.6v4.6h-8.6zM41.7 18.7h4.3v4.6h-4.3zM54.6 18.7h8.6v4.6h-8.6zM71.8 18.7h4.3v4.6h-4.3zM-1.3 23.3h4.3v4.6h-4.3zM54.6 23.3h4.3v4.6h-4.3zM11.6 27.9h4.3v4.6h-4.3zM28.8 27.9h4.3v4.6h-4.3zM50.3 27.9h17.2v4.6h-17.2zM7.3 32.5h12.9v4.6h-12.9zM63.2 32.5h8.6v4.6h-8.6zM11.6 37.1h4.3v4.6h-4.3zM58.9 37.1h4.3v4.6h-4.3zM11.6 41.7h4.3v4.6h-4.3zM58.9 41.7h8.6v4.6h-8.6zM11.6 46.3h4.3v4.6h-4.3zM20.2 50.9h8.6v4.6h-8.6zM71.8 50.9h4.3v4.6h-4.3zM7.3 55.5h8.6v4.6h-8.6zM20.2 55.5h8.6v4.6h-8.6zM28.8 60.1h4.3v4.6h-4.3zM37.4 60.1h4.3v4.6h-4.3zM50.3 60.1h4.3v4.6h-4.3zM37.4 64.7h4.3v4.6h-4.3zM33.1 69.3h4.3v4.6h-4.3zM41.7 69.3h4.3v4.6h-4.3zM24.5 73.9h4.3v4.6h-4.3zM41.7 73.9h4.3v4.6h-4.3zM24.5 78.5h8.6v4.6h-8.6zM46.0 78.5h4.3v4.6h-4.3z"/><path fill="#00c8ff" d="M20.2 18.7h4.3v4.6h-4.3zM37.4 18.7h4.3v4.6h-4.3zM46.0 18.7h4.3v4.6h-4.3zM63.2 18.7h4.3v4.6h-4.3zM3.0 23.3h8.6v4.6h-8.6zM15.9 23.3h12.9v4.6h-12.9zM37.4 23.3h4.3v4.6h-4.3zM46.0 23.3h8.6v4.6h-8.6zM58.9 23.3h8.6v4.6h-8.6zM20.2 27.9h8.6v4.6h-8.6zM46.0 27.9h4.3v4.6h-4.3zM20.2 32.5h8.6v4.6h-8.6zM54.6 32.5h4.3v4.6h-4.3zM-1.3 37.1h12.9v4.6h-12.9zM15.9 37.1h8.6v4.6h-8.6zM63.2 37.1h4.3v4.6h-4.3zM-1.3 41.7h4.3v4.6h-4.3zM15.9 41.7h4.3v4.6h-4.3zM15.9 46.3h4.3v4.6h-4.3zM24.5 46.3h4.3v4.6h-4.3zM54.6 46.3h4.3v4.6h-4.3zM7.3 50.9h4.3v4.6h-4.3zM28.8 50.9h4.3v4.6h-4.3zM54.6 50.9h4.3v4.6h-4.3zM28.8 55.5h17.2v4.6h-17.2zM11.6 60.1h4.3v4.6h-4.3zM33.1 60.1h4.3v4.6h-4.3zM54.6 60.1h4.3v4.6h-4.3zM46.0 64.7h4.3v4.6h-4.3zM20.2 69.3h4.3v4.6h-4.3zM37.4 69.3h4.3v4.6h-4.3zM46.0 69.3h4.3v4.6h-4.3zM33.1 73.9h4.3v4.6h-4.3zM33.1 78.5h4.3v4.6h-4.3zM50.3 78.5h4.3v4.6h-4.3zM33.1 83.1h4.3v4.6h-4.3z"/><path fill="#c0ff40" d="M37.4 27.9h4.3v4.6h-4.3zM33.1 32.5h4.3v4.6h-4.3zM46.0 32.5h8.6v4.6h-8.6zM33.1 37.1h8.6v4.6h-8.6zM54.6 41.7h4.3v4.6h-4.3zM28.8 46.3h4.3v4.6h-4.3zM46.0 46.3h4.3v4.6h-4.3zM50.3 83.1h4.3v4.6h-4.3z"/><path fill="#fff000" d="M37.4 32.5h4.3v4.6h-4.3zM41.7 37.1h8.6v4.6h-8.6zM33.1 46.3h8.6v4.6h-8.6z"/><path fill="#ffa800" d="M37.4 41.7h4.3v4.6h-4.3z"/><path fill="#000000" d="M80.4 50.9h4.3v4.6h-4.3zM80.4 55.5h4.3v4.6h-4.3zM80.4 60.1h4.3v4.6h-4.3zM80.4 64.7h4.3v4.6h-4.3zM80.4 69.3h4.3v4.6h-4.3z"/></g><g><rect x="42.45" y="32.40" width="4.00" height="4.00" fill="#b0e8e0" stroke="#f01000" stroke-width="1.7"/></g></svg>
<svg class="p" style="left:601.4px;top:233.2px" width="87.4" height="85.8" viewBox="0 0 87.4 85.8"><rect width="100%" height="100%" fill="#e3e3e8"/><g filter="url(#bl)" shape-rendering="crispEdges"><path fill="#ffffff" d="M-2.5 -0.8h43.0v4.6h-43.0zM74.9 59.0h4.3v4.6h-4.3zM74.9 63.6h4.3v4.6h-4.3zM74.9 68.2h4.3v4.6h-4.3zM70.6 72.8h17.2v4.6h-17.2zM-2.5 77.4h8.6v4.6h-8.6zM74.9 77.4h12.9v4.6h-12.9zM-2.5 82.0h8.6v4.6h-8.6zM10.4 82.0h4.3v4.6h-4.3zM31.9 82.0h4.3v4.6h-4.3zM40.5 82.0h4.3v4.6h-4.3zM53.4 82.0h4.3v4.6h-4.3zM66.3 82.0h4.3v4.6h-4.3zM74.9 82.0h12.9v4.6h-12.9z"/><path fill="#00c8ff" d="M40.5 -0.8h4.3v4.6h-4.3zM-2.5 3.8h8.6v4.6h-8.6zM14.7 3.8h4.3v4.6h-4.3zM57.7 8.4h4.3v4.6h-4.3zM66.3 8.4h4.3v4.6h-4.3zM79.2 8.4h4.3v4.6h-4.3zM70.6 13.0h8.6v4.6h-8.6zM27.6 22.2h4.3v4.6h-4.3zM-2.5 31.4h12.9v4.6h-12.9zM49.1 31.4h4.3v4.6h-4.3zM79.2 31.4h4.3v4.6h-4.3zM-2.5 36.0h12.9v4.6h-12.9zM-2.5 40.6h4.3v4.6h-4.3zM19.0 45.2h4.3v4.6h-4.3zM70.6 45.2h4.3v4.6h-4.3zM-2.5 49.8h12.9v4.6h-12.9zM23.3 49.8h4.3v4.6h-4.3zM74.9 49.8h4.3v4.6h-4.3zM-2.5 54.4h8.6v4.6h-8.6zM66.3 54.4h8.6v4.6h-8.6zM-2.5 59.0h8.6v4.6h-8.6zM66.3 59.0h8.6v4.6h-8.6zM-2.5 63.6h8.6v4.6h-8.6zM62.0 63.6h12.9v4.6h-12.9zM1.8 68.2h8.6v4.6h-8.6zM40.5 68.2h4.3v4.6h-4.3zM62.0 68.2h4.3v4.6h-4.3zM62.0 72.8h4.3v4.6h-4.3zM6.1 77.4h4.3v4.6h-4.3zM27.6 77.4h4.3v4.6h-4.3zM40.5 77.4h4.3v4.6h-4.3z"/><path fill="#0090ff" d="M44.8 -0.8h4.3v4.6h-4.3zM10.4 3.8h4.3v4.6h-4.3zM19.0 3.8h4.3v4.6h-4.3zM31.9 3.8h4.3v4.6h-4.3zM40.5 3.8h4.3v4.6h-4.3zM19.0 13.0h8.6v4.6h-8.6zM-2.5 26.8h8.6v4.6h-8.6zM57.7 26.8h4.3v4.6h-4.3zM70.6 49.8h4.3v4.6h-4.3zM57.7 54.4h8.6v4.6h-8.6zM6.1 59.0h4.3v4.6h-4.3zM27.6 59.0h4.3v4.6h-4.3zM57.7 59.0h8.6v4.6h-8.6zM6.1 63.6h4.3v4.6h-4.3zM27.6 63.6h4.3v4.6h-4.3zM57.7 63.6h4.3v4.6h-4.3zM-2.5 68.2h4.3v4.6h-4.3zM19.0 68.2h8.6v4.6h-8.6zM57.7 68.2h4.3v4.6h-4.3zM6.1 72.8h4.3v4.6h-4.3zM14.7 72.8h4.3v4.6h-4.3zM23.3 72.8h4.3v4.6h-4.3zM10.4 77.4h8.6v4.6h-8.6z"/><path fill="#000090" d="M49.1 -0.8h25.8v4.6h-25.8zM83.5 -0.8h4.3v4.6h-4.3zM31.9 13.0h4.3v4.6h-4.3zM66.3 68.2h8.6v4.6h-8.6zM62.0 77.4h8.6v4.6h-8.6zM57.7 82.0h8.6v4.6h-8.6z"/><path fill="#000000" d="M74.9 -0.8h8.6v4.6h-8.6z"/><path fill="#0010d8" d="M6.1 3.8h4.3v4.6h-4.3zM44.8 3.8h4.3v4.6h-4.3zM57.7 3.8h8.6v4.6h-8.6zM74.9 3.8h4.3v4.6h-4.3zM83.5 3.8h4.3v4.6h-4.3zM6.1 8.4h4.3v4.6h-4.3zM10.4 13.0h4.3v4.6h-4.3zM83.5 26.8h4.3v4.6h-4.3zM83.5 36.0h4.3v4.6h-4.3zM79.2 45.2h8.6v4.6h-8.6zM10.4 54.4h4.3v4.6h-4.3zM79.2 59.0h4.3v4.6h-4.3zM79.2 63.6h4.3v4.6h-4.3zM-2.5 72.8h8.6v4.6h-8.6zM57.7 72.8h4.3v4.6h-4.3zM66.3 72.8h4.3v4.6h-4.3zM57.7 77.4h4.3v4.6h-4.3zM70.6 77.4h4.3v4.6h-4.3zM70.6 82.0h4.3v4.6h-4.3z"/><path fill="#0048ff" d="M23.3 3.8h8.6v4.6h-8.6zM36.2 3.8h4.3v4.6h-4.3zM49.1 3.8h8.6v4.6h-8.6zM66.3 3.8h8.6v4.6h-8.6zM79.2 3.8h4.3v4.6h-4.3zM62.0 8.4h4.3v4.6h-4.3zM70.6 8.4h8.6v4.6h-8.6zM83.5 8.4h4.3v4.6h-4.3zM79.2 13.0h8.6v4.6h-8.6zM10.4 17.6h4.3v4.6h-4.3zM74.9 17.6h8.6v4.6h-8.6zM44.8 22.2h4.3v4.6h-4.3zM-2.5 45.2h12.9v4.6h-12.9zM79.2 49.8h4.3v4.6h-4.3zM6.1 54.4h4.3v4.6h-4.3zM14.7 82.0h4.3v4.6h-4.3z"/><path fill="#ececf6" d="M10.4 8.4h12.9v4.6h-12.9zM36.2 8.4h12.9v4.6h-12.9zM53.4 8.4h4.3v4.6h-4.3zM66.3 13.0h4.3v4.6h-4.3zM36.2 17.6h4.3v4.6h-4.3zM53.4 17.6h4.3v4.6h-4.3zM83.5 17.6h4.3v4.6h-4.3zM36.2 22.2h4.3v4.6h-4.3zM79.2 22.2h8.6v4.6h-8.6zM36.2 26.8h4.3v4.6h-4.3zM79.2 26.8h4.3v4.6h-4.3zM79.2 36.0h4.3v4.6h-4.3zM79.2 40.6h4.3v4.6h-4.3zM10.4 49.8h4.3v4.6h-4.3z"/><path fill="#20f0e8" d="M23.3 8.4h8.6v4.6h-8.6zM49.1 8.4h4.3v4.6h-4.3zM49.1 13.0h4.3v4.6h-4.3zM-2.5 17.6h8.6v4.6h-8.6zM19.0 17.6h12.9v4.6h-12.9zM49.1 17.6h4.3v4.6h-4.3zM70.6 17.6h4.3v4.6h-4.3zM-2.5 22.2h8.6v4.6h-8.6zM14.7 22.2h8.6v4.6h-8.6zM70.6 22.2h8.6v4.6h-8.6zM6.1 26.8h4.3v4.6h-4.3zM66.3 26.8h4.3v4.6h-4.3zM74.9 26.8h4.3v4.6h-4.3zM10.4 31.4h4.3v4.6h-4.3zM36.2 31.4h4.3v4.6h-4.3zM53.4 31.4h8.6v4.6h-8.6zM74.9 31.4h4.3v4.6h-4.3zM83.5 31.4h4.3v4.6h-4.3zM10.4 36.0h4.3v4.6h-4.3zM19.0 36.0h4.3v4.6h-4.3zM53.4 36.0h4.3v4.6h-4.3zM74.9 36.0h4.3v4.6h-4.3zM1.8 40.6h12.9v4.6h-12.9zM53.4 40.6h4.3v4.6h-4.3zM74.9 40.6h4.3v4.6h-4.3zM14.7 49.8h8.6v4.6h-8.6zM57.7 49.8h12.9v4.6h-12.9zM14.7 54.4h4.3v4.6h-4.3zM23.3 54.4h4.3v4.6h-4.3zM74.9 54.4h4.3v4.6h-4.3zM10.4 59.0h4.3v4.6h-4.3zM23.3 59.0h4.3v4.6h-4.3zM10.4 63.6h4.3v4.6h-4.3zM19.0 63.6h8.6v4.6h-8.6zM31.9 63.6h4.3v4.6h-4.3zM40.5 63.6h4.3v4.6h-4.3zM10.4 68.2h8.6v4.6h-8.6zM27.6 68.2h12.9v4.6h-12.9zM44.8 68.2h12.9v4.6h-12.9zM79.2 68.2h4.3v4.6h-4.3zM19.0 72.8h4.3v4.6h-4.3zM27.6 72.8h8.6v4.6h-8.6zM40.5 72.8h4.3v4.6h-4.3zM49.1 72.8h8.6v4.6h-8.6zM23.3 77.4h4.3v4.6h-4.3zM49.1 77.4h8.6v4.6h-8.6zM23.3 82.0h8.6v4.6h-8.6zM49.1 82.0h4.3v4.6h-4.3z"/><path fill="#78ffa0" d="M31.9 8.4h4.3v4.6h-4.3zM44.8 13.0h4.3v4.6h-4.3zM57.7 13.0h8.6v4.6h-8.6zM44.8 17.6h4.3v4.6h-4.3zM66.3 17.6h4.3v4.6h-4.3zM6.1 22.2h8.6v4.6h-8.6zM23.3 22.2h4.3v4.6h-4.3zM31.9 22.2h4.3v4.6h-4.3zM66.3 22.2h4.3v4.6h-4.3zM10.4 26.8h8.6v4.6h-8.6zM31.9 26.8h4.3v4.6h-4.3zM70.6 26.8h4.3v4.6h-4.3zM31.9 31.4h4.3v4.6h-4.3zM62.0 31.4h8.6v4.6h-8.6zM14.7 36.0h4.3v4.6h-4.3zM57.7 36.0h17.2v4.6h-17.2zM14.7 40.6h8.6v4.6h-8.6zM62.0 40.6h12.9v4.6h-12.9zM14.7 45.2h4.3v4.6h-4.3zM66.3 45.2h4.3v4.6h-4.3zM27.6 49.8h4.3v4.6h-4.3zM19.0 54.4h4.3v4.6h-4.3zM27.6 54.4h12.9v4.6h-12.9zM53.4 54.4h4.3v4.6h-4.3zM14.7 59.0h8.6v4.6h-8.6zM31.9 59.0h8.6v4.6h-8.6zM14.7 63.6h4.3v4.6h-4.3zM36.2 63.6h4.3v4.6h-4.3zM44.8 63.6h12.9v4.6h-12.9zM10.4 72.8h4.3v4.6h-4.3zM44.8 72.8h4.3v4.6h-4.3zM31.9 77.4h8.6v4.6h-8.6zM6.1 82.0h4.3v4.6h-4.3zM36.2 82.0h4.3v4.6h-4.3z"/><path fill="#c0ff40" d="M36.2 13.0h8.6v4.6h-8.6zM53.4 13.0h4.3v4.6h-4.3zM40.5 17.6h4.3v4.6h-4.3zM40.5 22.2h4.3v4.6h-4.3zM49.1 22.2h8.6v4.6h-8.6zM23.3 26.8h4.3v4.6h-4.3zM14.7 31.4h12.9v4.6h-12.9zM70.6 31.4h4.3v4.6h-4.3zM49.1 36.0h4.3v4.6h-4.3zM23.3 40.6h4.3v4.6h-4.3zM10.4 45.2h4.3v4.6h-4.3zM62.0 45.2h4.3v4.6h-4.3zM53.4 49.8h4.3v4.6h-4.3zM49.1 54.4h4.3v4.6h-4.3zM44.8 59.0h8.6v4.6h-8.6zM44.8 77.4h4.3v4.6h-4.3zM44.8 82.0h4.3v4.6h-4.3z"/><path fill="#fff000" d="M57.7 17.6h8.6v4.6h-8.6zM57.7 22.2h8.6v4.6h-8.6zM44.8 26.8h4.3v4.6h-4.3zM23.3 36.0h4.3v4.6h-4.3zM31.9 36.0h4.3v4.6h-4.3zM31.9 40.6h4.3v4.6h-4.3zM49.1 40.6h4.3v4.6h-4.3zM57.7 40.6h4.3v4.6h-4.3zM23.3 45.2h12.9v4.6h-12.9zM53.4 45.2h4.3v4.6h-4.3zM31.9 49.8h8.6v4.6h-8.6zM49.1 49.8h4.3v4.6h-4.3zM40.5 54.4h8.6v4.6h-8.6zM40.5 59.0h4.3v4.6h-4.3zM19.0 77.4h4.3v4.6h-4.3zM19.0 82.0h4.3v4.6h-4.3z"/><path fill="#ffa800" d="M19.0 26.8h4.3v4.6h-4.3zM27.6 26.8h4.3v4.6h-4.3zM53.4 26.8h4.3v4.6h-4.3zM62.0 26.8h4.3v4.6h-4.3zM27.6 31.4h4.3v4.6h-4.3zM40.5 31.4h4.3v4.6h-4.3zM27.6 36.0h4.3v4.6h-4.3zM27.6 40.6h4.3v4.6h-4.3zM40.5 40.6h4.3v4.6h-4.3zM36.2 45.2h4.3v4.6h-4.3zM44.8 45.2h8.6v4.6h-8.6zM57.7 45.2h4.3v4.6h-4.3zM74.9 45.2h4.3v4.6h-4.3zM40.5 49.8h8.6v4.6h-8.6zM53.4 59.0h4.3v4.6h-4.3z"/><path fill="#ff2000" d="M40.5 26.8h4.3v4.6h-4.3zM49.1 26.8h4.3v4.6h-4.3zM36.2 36.0h12.9v4.6h-12.9zM36.2 40.6h4.3v4.6h-4.3zM44.8 40.6h4.3v4.6h-4.3zM40.5 45.2h4.3v4.6h-4.3zM36.2 72.8h4.3v4.6h-4.3z"/></g><g opacity="0.35" shape-rendering="crispEdges"><path fill="#ffffff" d="M-2.5 -0.8h43.0v4.6h-43.0zM74.9 59.0h4.3v4.6h-4.3zM74.9 63.6h4.3v4.6h-4.3zM74.9 68.2h4.3v4.6h-4.3zM70.6 72.8h17.2v4.6h-17.2zM-2.5 77.4h8.6v4.6h-8.6zM74.9 77.4h12.9v4.6h-12.9zM-2.5 82.0h8.6v4.6h-8.6zM10.4 82.0h4.3v4.6h-4.3zM31.9 82.0h4.3v4.6h-4.3zM40.5 82.0h4.3v4.6h-4.3zM53.4 82.0h4.3v4.6h-4.3zM66.3 82.0h4.3v4.6h-4.3zM74.9 82.0h12.9v4.6h-12.9z"/><path fill="#00c8ff" d="M40.5 -0.8h4.3v4.6h-4.3zM-2.5 3.8h8.6v4.6h-8.6zM14.7 3.8h4.3v4.6h-4.3zM57.7 8.4h4.3v4.6h-4.3zM66.3 8.4h4.3v4.6h-4.3zM79.2 8.4h4.3v4.6h-4.3zM70.6 13.0h8.6v4.6h-8.6zM27.6 22.2h4.3v4.6h-4.3zM-2.5 31.4h12.9v4.6h-12.9zM49.1 31.4h4.3v4.6h-4.3zM79.2 31.4h4.3v4.6h-4.3zM-2.5 36.0h12.9v4.6h-12.9zM-2.5 40.6h4.3v4.6h-4.3zM19.0 45.2h4.3v4.6h-4.3zM70.6 45.2h4.3v4.6h-4.3zM-2.5 49.8h12.9v4.6h-12.9zM23.3 49.8h4.3v4.6h-4.3zM74.9 49.8h4.3v4.6h-4.3zM-2.5 54.4h8.6v4.6h-8.6zM66.3 54.4h8.6v4.6h-8.6zM-2.5 59.0h8.6v4.6h-8.6zM66.3 59.0h8.6v4.6h-8.6zM-2.5 63.6h8.6v4.6h-8.6zM62.0 63.6h12.9v4.6h-12.9zM1.8 68.2h8.6v4.6h-8.6zM40.5 68.2h4.3v4.6h-4.3zM62.0 68.2h4.3v4.6h-4.3zM62.0 72.8h4.3v4.6h-4.3zM6.1 77.4h4.3v4.6h-4.3zM27.6 77.4h4.3v4.6h-4.3zM40.5 77.4h4.3v4.6h-4.3z"/><path fill="#0090ff" d="M44.8 -0.8h4.3v4.6h-4.3zM10.4 3.8h4.3v4.6h-4.3zM19.0 3.8h4.3v4.6h-4.3zM31.9 3.8h4.3v4.6h-4.3zM40.5 3.8h4.3v4.6h-4.3zM19.0 13.0h8.6v4.6h-8.6zM-2.5 26.8h8.6v4.6h-8.6zM57.7 26.8h4.3v4.6h-4.3zM70.6 49.8h4.3v4.6h-4.3zM57.7 54.4h8.6v4.6h-8.6zM6.1 59.0h4.3v4.6h-4.3zM27.6 59.0h4.3v4.6h-4.3zM57.7 59.0h8.6v4.6h-8.6zM6.1 63.6h4.3v4.6h-4.3zM27.6 63.6h4.3v4.6h-4.3zM57.7 63.6h4.3v4.6h-4.3zM-2.5 68.2h4.3v4.6h-4.3zM19.0 68.2h8.6v4.6h-8.6zM57.7 68.2h4.3v4.6h-4.3zM6.1 72.8h4.3v4.6h-4.3zM14.7 72.8h4.3v4.6h-4.3zM23.3 72.8h4.3v4.6h-4.3zM10.4 77.4h8.6v4.6h-8.6z"/><path fill="#000090" d="M49.1 -0.8h25.8v4.6h-25.8zM83.5 -0.8h4.3v4.6h-4.3zM31.9 13.0h4.3v4.6h-4.3zM66.3 68.2h8.6v4.6h-8.6zM62.0 77.4h8.6v4.6h-8.6zM57.7 82.0h8.6v4.6h-8.6z"/><path fill="#000000" d="M74.9 -0.8h8.6v4.6h-8.6z"/><path fill="#0010d8" d="M6.1 3.8h4.3v4.6h-4.3zM44.8 3.8h4.3v4.6h-4.3zM57.7 3.8h8.6v4.6h-8.6zM74.9 3.8h4.3v4.6h-4.3zM83.5 3.8h4.3v4.6h-4.3zM6.1 8.4h4.3v4.6h-4.3zM10.4 13.0h4.3v4.6h-4.3zM83.5 26.8h4.3v4.6h-4.3zM83.5 36.0h4.3v4.6h-4.3zM79.2 45.2h8.6v4.6h-8.6zM10.4 54.4h4.3v4.6h-4.3zM79.2 59.0h4.3v4.6h-4.3zM79.2 63.6h4.3v4.6h-4.3zM-2.5 72.8h8.6v4.6h-8.6zM57.7 72.8h4.3v4.6h-4.3zM66.3 72.8h4.3v4.6h-4.3zM57.7 77.4h4.3v4.6h-4.3zM70.6 77.4h4.3v4.6h-4.3zM70.6 82.0h4.3v4.6h-4.3z"/><path fill="#0048ff" d="M23.3 3.8h8.6v4.6h-8.6zM36.2 3.8h4.3v4.6h-4.3zM49.1 3.8h8.6v4.6h-8.6zM66.3 3.8h8.6v4.6h-8.6zM79.2 3.8h4.3v4.6h-4.3zM62.0 8.4h4.3v4.6h-4.3zM70.6 8.4h8.6v4.6h-8.6zM83.5 8.4h4.3v4.6h-4.3zM79.2 13.0h8.6v4.6h-8.6zM10.4 17.6h4.3v4.6h-4.3zM74.9 17.6h8.6v4.6h-8.6zM44.8 22.2h4.3v4.6h-4.3zM-2.5 45.2h12.9v4.6h-12.9zM79.2 49.8h4.3v4.6h-4.3zM6.1 54.4h4.3v4.6h-4.3zM14.7 82.0h4.3v4.6h-4.3z"/><path fill="#ececf6" d="M10.4 8.4h12.9v4.6h-12.9zM36.2 8.4h12.9v4.6h-12.9zM53.4 8.4h4.3v4.6h-4.3zM66.3 13.0h4.3v4.6h-4.3zM36.2 17.6h4.3v4.6h-4.3zM53.4 17.6h4.3v4.6h-4.3zM83.5 17.6h4.3v4.6h-4.3zM36.2 22.2h4.3v4.6h-4.3zM79.2 22.2h8.6v4.6h-8.6zM36.2 26.8h4.3v4.6h-4.3zM79.2 26.8h4.3v4.6h-4.3zM79.2 36.0h4.3v4.6h-4.3zM79.2 40.6h4.3v4.6h-4.3zM10.4 49.8h4.3v4.6h-4.3z"/><path fill="#20f0e8" d="M23.3 8.4h8.6v4.6h-8.6zM49.1 8.4h4.3v4.6h-4.3zM49.1 13.0h4.3v4.6h-4.3zM-2.5 17.6h8.6v4.6h-8.6zM19.0 17.6h12.9v4.6h-12.9zM49.1 17.6h4.3v4.6h-4.3zM70.6 17.6h4.3v4.6h-4.3zM-2.5 22.2h8.6v4.6h-8.6zM14.7 22.2h8.6v4.6h-8.6zM70.6 22.2h8.6v4.6h-8.6zM6.1 26.8h4.3v4.6h-4.3zM66.3 26.8h4.3v4.6h-4.3zM74.9 26.8h4.3v4.6h-4.3zM10.4 31.4h4.3v4.6h-4.3zM36.2 31.4h4.3v4.6h-4.3zM53.4 31.4h8.6v4.6h-8.6zM74.9 31.4h4.3v4.6h-4.3zM83.5 31.4h4.3v4.6h-4.3zM10.4 36.0h4.3v4.6h-4.3zM19.0 36.0h4.3v4.6h-4.3zM53.4 36.0h4.3v4.6h-4.3zM74.9 36.0h4.3v4.6h-4.3zM1.8 40.6h12.9v4.6h-12.9zM53.4 40.6h4.3v4.6h-4.3zM74.9 40.6h4.3v4.6h-4.3zM14.7 49.8h8.6v4.6h-8.6zM57.7 49.8h12.9v4.6h-12.9zM14.7 54.4h4.3v4.6h-4.3zM23.3 54.4h4.3v4.6h-4.3zM74.9 54.4h4.3v4.6h-4.3zM10.4 59.0h4.3v4.6h-4.3zM23.3 59.0h4.3v4.6h-4.3zM10.4 63.6h4.3v4.6h-4.3zM19.0 63.6h8.6v4.6h-8.6zM31.9 63.6h4.3v4.6h-4.3zM40.5 63.6h4.3v4.6h-4.3zM10.4 68.2h8.6v4.6h-8.6zM27.6 68.2h12.9v4.6h-12.9zM44.8 68.2h12.9v4.6h-12.9zM79.2 68.2h4.3v4.6h-4.3zM19.0 72.8h4.3v4.6h-4.3zM27.6 72.8h8.6v4.6h-8.6zM40.5 72.8h4.3v4.6h-4.3zM49.1 72.8h8.6v4.6h-8.6zM23.3 77.4h4.3v4.6h-4.3zM49.1 77.4h8.6v4.6h-8.6zM23.3 82.0h8.6v4.6h-8.6zM49.1 82.0h4.3v4.6h-4.3z"/><path fill="#78ffa0" d="M31.9 8.4h4.3v4.6h-4.3zM44.8 13.0h4.3v4.6h-4.3zM57.7 13.0h8.6v4.6h-8.6zM44.8 17.6h4.3v4.6h-4.3zM66.3 17.6h4.3v4.6h-4.3zM6.1 22.2h8.6v4.6h-8.6zM23.3 22.2h4.3v4.6h-4.3zM31.9 22.2h4.3v4.6h-4.3zM66.3 22.2h4.3v4.6h-4.3zM10.4 26.8h8.6v4.6h-8.6zM31.9 26.8h4.3v4.6h-4.3zM70.6 26.8h4.3v4.6h-4.3zM31.9 31.4h4.3v4.6h-4.3zM62.0 31.4h8.6v4.6h-8.6zM14.7 36.0h4.3v4.6h-4.3zM57.7 36.0h17.2v4.6h-17.2zM14.7 40.6h8.6v4.6h-8.6zM62.0 40.6h12.9v4.6h-12.9zM14.7 45.2h4.3v4.6h-4.3zM66.3 45.2h4.3v4.6h-4.3zM27.6 49.8h4.3v4.6h-4.3zM19.0 54.4h4.3v4.6h-4.3zM27.6 54.4h12.9v4.6h-12.9zM53.4 54.4h4.3v4.6h-4.3zM14.7 59.0h8.6v4.6h-8.6zM31.9 59.0h8.6v4.6h-8.6zM14.7 63.6h4.3v4.6h-4.3zM36.2 63.6h4.3v4.6h-4.3zM44.8 63.6h12.9v4.6h-12.9zM10.4 72.8h4.3v4.6h-4.3zM44.8 72.8h4.3v4.6h-4.3zM31.9 77.4h8.6v4.6h-8.6zM6.1 82.0h4.3v4.6h-4.3zM36.2 82.0h4.3v4.6h-4.3z"/><path fill="#c0ff40" d="M36.2 13.0h8.6v4.6h-8.6zM53.4 13.0h4.3v4.6h-4.3zM40.5 17.6h4.3v4.6h-4.3zM40.5 22.2h4.3v4.6h-4.3zM49.1 22.2h8.6v4.6h-8.6zM23.3 26.8h4.3v4.6h-4.3zM14.7 31.4h12.9v4.6h-12.9zM70.6 31.4h4.3v4.6h-4.3zM49.1 36.0h4.3v4.6h-4.3zM23.3 40.6h4.3v4.6h-4.3zM10.4 45.2h4.3v4.6h-4.3zM62.0 45.2h4.3v4.6h-4.3zM53.4 49.8h4.3v4.6h-4.3zM49.1 54.4h4.3v4.6h-4.3zM44.8 59.0h8.6v4.6h-8.6zM44.8 77.4h4.3v4.6h-4.3zM44.8 82.0h4.3v4.6h-4.3z"/><path fill="#fff000" d="M57.7 17.6h8.6v4.6h-8.6zM57.7 22.2h8.6v4.6h-8.6zM44.8 26.8h4.3v4.6h-4.3zM23.3 36.0h4.3v4.6h-4.3zM31.9 36.0h4.3v4.6h-4.3zM31.9 40.6h4.3v4.6h-4.3zM49.1 40.6h4.3v4.6h-4.3zM57.7 40.6h4.3v4.6h-4.3zM23.3 45.2h12.9v4.6h-12.9zM53.4 45.2h4.3v4.6h-4.3zM31.9 49.8h8.6v4.6h-8.6zM49.1 49.8h4.3v4.6h-4.3zM40.5 54.4h8.6v4.6h-8.6zM40.5 59.0h4.3v4.6h-4.3zM19.0 77.4h4.3v4.6h-4.3zM19.0 82.0h4.3v4.6h-4.3z"/><path fill="#ffa800" d="M19.0 26.8h4.3v4.6h-4.3zM27.6 26.8h4.3v4.6h-4.3zM53.4 26.8h4.3v4.6h-4.3zM62.0 26.8h4.3v4.6h-4.3zM27.6 31.4h4.3v4.6h-4.3zM40.5 31.4h4.3v4.6h-4.3zM27.6 36.0h4.3v4.6h-4.3zM27.6 40.6h4.3v4.6h-4.3zM40.5 40.6h4.3v4.6h-4.3zM36.2 45.2h4.3v4.6h-4.3zM44.8 45.2h8.6v4.6h-8.6zM57.7 45.2h4.3v4.6h-4.3zM74.9 45.2h4.3v4.6h-4.3zM40.5 49.8h8.6v4.6h-8.6zM53.4 59.0h4.3v4.6h-4.3z"/><path fill="#ff2000" d="M40.5 26.8h4.3v4.6h-4.3zM49.1 26.8h4.3v4.6h-4.3zM36.2 36.0h12.9v4.6h-12.9zM36.2 40.6h4.3v4.6h-4.3zM44.8 40.6h4.3v4.6h-4.3zM40.5 45.2h4.3v4.6h-4.3zM36.2 72.8h4.3v4.6h-4.3z"/></g><g><rect x="45.55" y="31.30" width="4.00" height="4.00" fill="#f02000" stroke="#000" stroke-width="1.7"/></g></svg>
<svg class="p" style="left:688.8px;top:233.2px" width="86.2" height="85.8" viewBox="0 0 86.2 85.8"><rect width="100%" height="100%" fill="#e3e3e8"/><g filter="url(#bl)" shape-rendering="crispEdges"><path fill="#ffffff" d="M-2.6 -0.4h38.7v4.6h-38.7zM49.0 -0.4h4.3v4.6h-4.3zM70.5 59.4h4.3v4.6h-4.3zM79.1 59.4h4.3v4.6h-4.3zM70.5 64.0h4.3v4.6h-4.3zM79.1 64.0h4.3v4.6h-4.3zM79.1 68.6h4.3v4.6h-4.3zM61.9 73.2h4.3v4.6h-4.3zM70.5 73.2h12.9v4.6h-12.9zM6.0 77.8h4.3v4.6h-4.3zM61.9 77.8h21.5v4.6h-21.5zM6.0 82.4h4.3v4.6h-4.3zM53.3 82.4h30.1v4.6h-30.1z"/><path fill="#0048ff" d="M36.1 -0.4h4.3v4.6h-4.3zM44.7 -0.4h4.3v4.6h-4.3zM66.2 -0.4h4.3v4.6h-4.3zM18.9 4.2h8.6v4.6h-8.6zM10.3 8.8h4.3v4.6h-4.3zM23.2 8.8h8.6v4.6h-8.6zM66.2 8.8h4.3v4.6h-4.3zM74.8 8.8h4.3v4.6h-4.3zM74.8 22.6h4.3v4.6h-4.3zM66.2 73.2h4.3v4.6h-4.3z"/><path fill="#00c8ff" d="M40.4 -0.4h4.3v4.6h-4.3zM61.9 -0.4h4.3v4.6h-4.3zM31.8 4.2h4.3v4.6h-4.3zM44.7 4.2h17.2v4.6h-17.2zM70.5 4.2h4.3v4.6h-4.3zM49.0 8.8h8.6v4.6h-8.6zM70.5 8.8h4.3v4.6h-4.3zM79.1 8.8h4.3v4.6h-4.3zM40.4 13.4h4.3v4.6h-4.3zM6.0 18.0h4.3v4.6h-4.3zM53.3 18.0h12.9v4.6h-12.9zM79.1 22.6h4.3v4.6h-4.3zM-2.6 27.2h4.3v4.6h-4.3zM74.8 27.2h4.3v4.6h-4.3zM79.1 31.8h4.3v4.6h-4.3zM79.1 36.4h4.3v4.6h-4.3zM70.5 41.0h12.9v4.6h-12.9zM6.0 45.6h8.6v4.6h-8.6zM74.8 54.8h4.3v4.6h-4.3zM74.8 59.4h4.3v4.6h-4.3zM10.3 64.0h4.3v4.6h-4.3zM10.3 68.6h4.3v4.6h-4.3zM-2.6 73.2h4.3v4.6h-4.3zM53.3 73.2h4.3v4.6h-4.3zM-2.6 77.8h8.6v4.6h-8.6zM10.3 77.8h4.3v4.6h-4.3zM53.3 77.8h4.3v4.6h-4.3zM-2.6 82.4h4.3v4.6h-4.3zM10.3 82.4h4.3v4.6h-4.3z"/><path fill="#0090ff" d="M53.3 -0.4h8.6v4.6h-8.6zM70.5 -0.4h4.3v4.6h-4.3zM10.3 4.2h8.6v4.6h-8.6zM27.5 4.2h4.3v4.6h-4.3zM36.1 4.2h8.6v4.6h-8.6zM61.9 4.2h8.6v4.6h-8.6zM14.6 8.8h8.6v4.6h-8.6zM36.1 8.8h8.6v4.6h-8.6zM57.6 8.8h8.6v4.6h-8.6zM10.3 13.4h8.6v4.6h-8.6zM49.0 13.4h25.8v4.6h-25.8zM1.7 27.2h4.3v4.6h-4.3zM70.5 45.6h4.3v4.6h-4.3zM70.5 50.2h8.6v4.6h-8.6zM74.8 64.0h4.3v4.6h-4.3zM74.8 68.6h4.3v4.6h-4.3zM1.7 73.2h17.2v4.6h-17.2z"/><path fill="#0010d8" d="M74.8 -0.4h8.6v4.6h-8.6zM-2.6 4.2h4.3v4.6h-4.3zM6.0 4.2h4.3v4.6h-4.3zM74.8 4.2h8.6v4.6h-8.6zM-2.6 8.8h12.9v4.6h-12.9zM31.8 8.8h4.3v4.6h-4.3zM70.5 68.6h4.3v4.6h-4.3z"/><path fill="#000000" d="M1.7 4.2h4.3v4.6h-4.3z"/><path fill="#20f0e8" d="M44.7 8.8h4.3v4.6h-4.3zM44.7 13.4h4.3v4.6h-4.3zM10.3 18.0h4.3v4.6h-4.3zM36.1 18.0h17.2v4.6h-17.2zM66.2 22.6h4.3v4.6h-4.3zM-2.6 31.8h4.3v4.6h-4.3zM-2.6 36.4h8.6v4.6h-8.6zM66.2 36.4h4.3v4.6h-4.3zM74.8 36.4h4.3v4.6h-4.3zM23.2 45.6h4.3v4.6h-4.3zM57.6 45.6h4.3v4.6h-4.3zM66.2 54.8h4.3v4.6h-4.3zM-2.6 59.4h12.9v4.6h-12.9zM27.5 59.4h4.3v4.6h-4.3zM66.2 59.4h4.3v4.6h-4.3zM-2.6 64.0h12.9v4.6h-12.9zM14.6 64.0h4.3v4.6h-4.3zM66.2 64.0h4.3v4.6h-4.3zM-2.6 68.6h12.9v4.6h-12.9zM14.6 68.6h4.3v4.6h-4.3zM36.1 68.6h4.3v4.6h-4.3zM53.3 68.6h8.6v4.6h-8.6zM66.2 68.6h4.3v4.6h-4.3zM23.2 73.2h8.6v4.6h-8.6zM23.2 77.8h4.3v4.6h-4.3zM49.0 77.8h4.3v4.6h-4.3z"/><path fill="#78ffa0" d="M27.5 18.0h4.3v4.6h-4.3zM61.9 22.6h4.3v4.6h-4.3zM6.0 27.2h4.3v4.6h-4.3zM61.9 27.2h8.6v4.6h-8.6zM1.7 31.8h8.6v4.6h-8.6zM66.2 31.8h4.3v4.6h-4.3zM53.3 36.4h4.3v4.6h-4.3zM70.5 36.4h4.3v4.6h-4.3zM6.0 41.0h8.6v4.6h-8.6zM23.2 41.0h4.3v4.6h-4.3zM66.2 41.0h4.3v4.6h-4.3zM-2.6 45.6h4.3v4.6h-4.3zM66.2 45.6h4.3v4.6h-4.3zM-2.6 50.2h12.9v4.6h-12.9zM23.2 50.2h4.3v4.6h-4.3zM66.2 50.2h4.3v4.6h-4.3zM-2.6 54.8h4.3v4.6h-4.3zM6.0 54.8h4.3v4.6h-4.3zM23.2 54.8h4.3v4.6h-4.3zM10.3 59.4h8.6v4.6h-8.6zM61.9 59.4h4.3v4.6h-4.3zM18.9 64.0h4.3v4.6h-4.3zM36.1 64.0h4.3v4.6h-4.3zM53.3 64.0h12.9v4.6h-12.9zM18.9 68.6h4.3v4.6h-4.3zM27.5 68.6h4.3v4.6h-4.3zM61.9 68.6h4.3v4.6h-4.3zM18.9 73.2h4.3v4.6h-4.3zM31.8 73.2h8.6v4.6h-8.6zM57.6 73.2h4.3v4.6h-4.3zM14.6 77.8h8.6v4.6h-8.6zM31.8 77.8h4.3v4.6h-4.3zM57.6 77.8h4.3v4.6h-4.3zM14.6 82.4h4.3v4.6h-4.3zM44.7 82.4h8.6v4.6h-8.6z"/><path fill="#ececf6" d="M66.2 18.0h4.3v4.6h-4.3zM79.1 27.2h4.3v4.6h-4.3zM74.8 31.8h4.3v4.6h-4.3zM31.8 36.4h4.3v4.6h-4.3zM27.5 41.0h4.3v4.6h-4.3zM1.7 45.6h4.3v4.6h-4.3zM27.5 45.6h4.3v4.6h-4.3zM79.1 45.6h4.3v4.6h-4.3zM27.5 50.2h4.3v4.6h-4.3zM61.9 50.2h4.3v4.6h-4.3zM79.1 50.2h4.3v4.6h-4.3zM1.7 54.8h4.3v4.6h-4.3zM31.8 54.8h4.3v4.6h-4.3zM70.5 54.8h4.3v4.6h-4.3zM79.1 54.8h4.3v4.6h-4.3z"/><path fill="#c0ff40" d="M70.5 18.0h4.3v4.6h-4.3zM-2.6 22.6h12.9v4.6h-12.9zM18.9 22.6h4.3v4.6h-4.3zM27.5 22.6h8.6v4.6h-8.6zM40.4 22.6h21.5v4.6h-21.5zM70.5 22.6h4.3v4.6h-4.3zM10.3 27.2h4.3v4.6h-4.3zM70.5 27.2h4.3v4.6h-4.3zM10.3 31.8h4.3v4.6h-4.3zM70.5 31.8h4.3v4.6h-4.3zM6.0 36.4h4.3v4.6h-4.3zM61.9 36.4h4.3v4.6h-4.3zM-2.6 41.0h8.6v4.6h-8.6zM14.6 41.0h4.3v4.6h-4.3zM14.6 45.6h4.3v4.6h-4.3zM10.3 50.2h4.3v4.6h-4.3zM57.6 50.2h4.3v4.6h-4.3zM10.3 54.8h4.3v4.6h-4.3zM61.9 54.8h4.3v4.6h-4.3zM18.9 59.4h8.6v4.6h-8.6zM53.3 59.4h8.6v4.6h-8.6zM27.5 64.0h4.3v4.6h-4.3zM44.7 64.0h4.3v4.6h-4.3zM23.2 68.6h4.3v4.6h-4.3zM31.8 68.6h4.3v4.6h-4.3zM44.7 68.6h4.3v4.6h-4.3zM40.4 73.2h12.9v4.6h-12.9zM27.5 77.8h4.3v4.6h-4.3zM36.1 77.8h4.3v4.6h-4.3zM44.7 77.8h4.3v4.6h-4.3zM18.9 82.4h8.6v4.6h-8.6zM36.1 82.4h8.6v4.6h-8.6z"/><path fill="#ffa800" d="M10.3 22.6h8.6v4.6h-8.6zM18.9 27.2h4.3v4.6h-4.3zM27.5 27.2h8.6v4.6h-8.6zM49.0 27.2h4.3v4.6h-4.3zM57.6 27.2h4.3v4.6h-4.3zM14.6 31.8h4.3v4.6h-4.3zM27.5 31.8h8.6v4.6h-8.6zM49.0 31.8h4.3v4.6h-4.3zM61.9 31.8h4.3v4.6h-4.3zM18.9 36.4h4.3v4.6h-4.3zM49.0 36.4h4.3v4.6h-4.3zM57.6 36.4h4.3v4.6h-4.3zM53.3 41.0h12.9v4.6h-12.9zM18.9 45.6h4.3v4.6h-4.3zM44.7 45.6h4.3v4.6h-4.3zM53.3 45.6h4.3v4.6h-4.3zM61.9 45.6h4.3v4.6h-4.3zM14.6 50.2h8.6v4.6h-8.6zM18.9 54.8h4.3v4.6h-4.3zM27.5 54.8h4.3v4.6h-4.3zM36.1 54.8h4.3v4.6h-4.3zM31.8 59.4h4.3v4.6h-4.3zM44.7 59.4h8.6v4.6h-8.6zM40.4 64.0h4.3v4.6h-4.3zM49.0 68.6h4.3v4.6h-4.3zM27.5 82.4h8.6v4.6h-8.6z"/><path fill="#fff000" d="M23.2 22.6h4.3v4.6h-4.3zM36.1 22.6h4.3v4.6h-4.3zM14.6 27.2h4.3v4.6h-4.3zM23.2 27.2h4.3v4.6h-4.3zM53.3 27.2h4.3v4.6h-4.3zM18.9 31.8h4.3v4.6h-4.3zM53.3 31.8h8.6v4.6h-8.6zM10.3 36.4h8.6v4.6h-8.6zM23.2 36.4h8.6v4.6h-8.6zM18.9 41.0h4.3v4.6h-4.3zM44.7 50.2h4.3v4.6h-4.3zM53.3 50.2h4.3v4.6h-4.3zM14.6 54.8h4.3v4.6h-4.3zM53.3 54.8h8.6v4.6h-8.6zM36.1 59.4h4.3v4.6h-4.3zM23.2 64.0h4.3v4.6h-4.3zM31.8 64.0h4.3v4.6h-4.3zM49.0 64.0h4.3v4.6h-4.3zM40.4 68.6h4.3v4.6h-4.3zM40.4 77.8h4.3v4.6h-4.3z"/><path fill="#ff2000" d="M36.1 27.2h12.9v4.6h-12.9zM23.2 31.8h4.3v4.6h-4.3zM36.1 31.8h4.3v4.6h-4.3zM44.7 31.8h4.3v4.6h-4.3zM36.1 36.4h12.9v4.6h-12.9zM31.8 41.0h21.5v4.6h-21.5zM31.8 45.6h12.9v4.6h-12.9zM49.0 45.6h4.3v4.6h-4.3zM31.8 50.2h12.9v4.6h-12.9zM49.0 50.2h4.3v4.6h-4.3zM40.4 54.8h12.9v4.6h-12.9zM40.4 59.4h4.3v4.6h-4.3z"/><path fill="#000090" d="M74.8 45.6h4.3v4.6h-4.3zM1.7 82.4h4.3v4.6h-4.3z"/></g><g opacity="0.35" shape-rendering="crispEdges"><path fill="#ffffff" d="M-2.6 -0.4h38.7v4.6h-38.7zM49.0 -0.4h4.3v4.6h-4.3zM70.5 59.4h4.3v4.6h-4.3zM79.1 59.4h4.3v4.6h-4.3zM70.5 64.0h4.3v4.6h-4.3zM79.1 64.0h4.3v4.6h-4.3zM79.1 68.6h4.3v4.6h-4.3zM61.9 73.2h4.3v4.6h-4.3zM70.5 73.2h12.9v4.6h-12.9zM6.0 77.8h4.3v4.6h-4.3zM61.9 77.8h21.5v4.6h-21.5zM6.0 82.4h4.3v4.6h-4.3zM53.3 82.4h30.1v4.6h-30.1z"/><path fill="#0048ff" d="M36.1 -0.4h4.3v4.6h-4.3zM44.7 -0.4h4.3v4.6h-4.3zM66.2 -0.4h4.3v4.6h-4.3zM18.9 4.2h8.6v4.6h-8.6zM10.3 8.8h4.3v4.6h-4.3zM23.2 8.8h8.6v4.6h-8.6zM66.2 8.8h4.3v4.6h-4.3zM74.8 8.8h4.3v4.6h-4.3zM74.8 22.6h4.3v4.6h-4.3zM66.2 73.2h4.3v4.6h-4.3z"/><path fill="#00c8ff" d="M40.4 -0.4h4.3v4.6h-4.3zM61.9 -0.4h4.3v4.6h-4.3zM31.8 4.2h4.3v4.6h-4.3zM44.7 4.2h17.2v4.6h-17.2zM70.5 4.2h4.3v4.6h-4.3zM49.0 8.8h8.6v4.6h-8.6zM70.5 8.8h4.3v4.6h-4.3zM79.1 8.8h4.3v4.6h-4.3zM40.4 13.4h4.3v4.6h-4.3zM6.0 18.0h4.3v4.6h-4.3zM53.3 18.0h12.9v4.6h-12.9zM79.1 22.6h4.3v4.6h-4.3zM-2.6 27.2h4.3v4.6h-4.3zM74.8 27.2h4.3v4.6h-4.3zM79.1 31.8h4.3v4.6h-4.3zM79.1 36.4h4.3v4.6h-4.3zM70.5 41.0h12.9v4.6h-12.9zM6.0 45.6h8.6v4.6h-8.6zM74.8 54.8h4.3v4.6h-4.3zM74.8 59.4h4.3v4.6h-4.3zM10.3 64.0h4.3v4.6h-4.3zM10.3 68.6h4.3v4.6h-4.3zM-2.6 73.2h4.3v4.6h-4.3zM53.3 73.2h4.3v4.6h-4.3zM-2.6 77.8h8.6v4.6h-8.6zM10.3 77.8h4.3v4.6h-4.3zM53.3 77.8h4.3v4.6h-4.3zM-2.6 82.4h4.3v4.6h-4.3zM10.3 82.4h4.3v4.6h-4.3z"/><path fill="#0090ff" d="M53.3 -0.4h8.6v4.6h-8.6zM70.5 -0.4h4.3v4.6h-4.3zM10.3 4.2h8.6v4.6h-8.6zM27.5 4.2h4.3v4.6h-4.3zM36.1 4.2h8.6v4.6h-8.6zM61.9 4.2h8.6v4.6h-8.6zM14.6 8.8h8.6v4.6h-8.6zM36.1 8.8h8.6v4.6h-8.6zM57.6 8.8h8.6v4.6h-8.6zM10.3 13.4h8.6v4.6h-8.6zM49.0 13.4h25.8v4.6h-25.8zM1.7 27.2h4.3v4.6h-4.3zM70.5 45.6h4.3v4.6h-4.3zM70.5 50.2h8.6v4.6h-8.6zM74.8 64.0h4.3v4.6h-4.3zM74.8 68.6h4.3v4.6h-4.3zM1.7 73.2h17.2v4.6h-17.2z"/><path fill="#0010d8" d="M74.8 -0.4h8.6v4.6h-8.6zM-2.6 4.2h4.3v4.6h-4.3zM6.0 4.2h4.3v4.6h-4.3zM74.8 4.2h8.6v4.6h-8.6zM-2.6 8.8h12.9v4.6h-12.9zM31.8 8.8h4.3v4.6h-4.3zM70.5 68.6h4.3v4.6h-4.3z"/><path fill="#000000" d="M1.7 4.2h4.3v4.6h-4.3z"/><path fill="#20f0e8" d="M44.7 8.8h4.3v4.6h-4.3zM44.7 13.4h4.3v4.6h-4.3zM10.3 18.0h4.3v4.6h-4.3zM36.1 18.0h17.2v4.6h-17.2zM66.2 22.6h4.3v4.6h-4.3zM-2.6 31.8h4.3v4.6h-4.3zM-2.6 36.4h8.6v4.6h-8.6zM66.2 36.4h4.3v4.6h-4.3zM74.8 36.4h4.3v4.6h-4.3zM23.2 45.6h4.3v4.6h-4.3zM57.6 45.6h4.3v4.6h-4.3zM66.2 54.8h4.3v4.6h-4.3zM-2.6 59.4h12.9v4.6h-12.9zM27.5 59.4h4.3v4.6h-4.3zM66.2 59.4h4.3v4.6h-4.3zM-2.6 64.0h12.9v4.6h-12.9zM14.6 64.0h4.3v4.6h-4.3zM66.2 64.0h4.3v4.6h-4.3zM-2.6 68.6h12.9v4.6h-12.9zM14.6 68.6h4.3v4.6h-4.3zM36.1 68.6h4.3v4.6h-4.3zM53.3 68.6h8.6v4.6h-8.6zM66.2 68.6h4.3v4.6h-4.3zM23.2 73.2h8.6v4.6h-8.6zM23.2 77.8h4.3v4.6h-4.3zM49.0 77.8h4.3v4.6h-4.3z"/><path fill="#78ffa0" d="M27.5 18.0h4.3v4.6h-4.3zM61.9 22.6h4.3v4.6h-4.3zM6.0 27.2h4.3v4.6h-4.3zM61.9 27.2h8.6v4.6h-8.6zM1.7 31.8h8.6v4.6h-8.6zM66.2 31.8h4.3v4.6h-4.3zM53.3 36.4h4.3v4.6h-4.3zM70.5 36.4h4.3v4.6h-4.3zM6.0 41.0h8.6v4.6h-8.6zM23.2 41.0h4.3v4.6h-4.3zM66.2 41.0h4.3v4.6h-4.3zM-2.6 45.6h4.3v4.6h-4.3zM66.2 45.6h4.3v4.6h-4.3zM-2.6 50.2h12.9v4.6h-12.9zM23.2 50.2h4.3v4.6h-4.3zM66.2 50.2h4.3v4.6h-4.3zM-2.6 54.8h4.3v4.6h-4.3zM6.0 54.8h4.3v4.6h-4.3zM23.2 54.8h4.3v4.6h-4.3zM10.3 59.4h8.6v4.6h-8.6zM61.9 59.4h4.3v4.6h-4.3zM18.9 64.0h4.3v4.6h-4.3zM36.1 64.0h4.3v4.6h-4.3zM53.3 64.0h12.9v4.6h-12.9zM18.9 68.6h4.3v4.6h-4.3zM27.5 68.6h4.3v4.6h-4.3zM61.9 68.6h4.3v4.6h-4.3zM18.9 73.2h4.3v4.6h-4.3zM31.8 73.2h8.6v4.6h-8.6zM57.6 73.2h4.3v4.6h-4.3zM14.6 77.8h8.6v4.6h-8.6zM31.8 77.8h4.3v4.6h-4.3zM57.6 77.8h4.3v4.6h-4.3zM14.6 82.4h4.3v4.6h-4.3zM44.7 82.4h8.6v4.6h-8.6z"/><path fill="#ececf6" d="M66.2 18.0h4.3v4.6h-4.3zM79.1 27.2h4.3v4.6h-4.3zM74.8 31.8h4.3v4.6h-4.3zM31.8 36.4h4.3v4.6h-4.3zM27.5 41.0h4.3v4.6h-4.3zM1.7 45.6h4.3v4.6h-4.3zM27.5 45.6h4.3v4.6h-4.3zM79.1 45.6h4.3v4.6h-4.3zM27.5 50.2h4.3v4.6h-4.3zM61.9 50.2h4.3v4.6h-4.3zM79.1 50.2h4.3v4.6h-4.3zM1.7 54.8h4.3v4.6h-4.3zM31.8 54.8h4.3v4.6h-4.3zM70.5 54.8h4.3v4.6h-4.3zM79.1 54.8h4.3v4.6h-4.3z"/><path fill="#c0ff40" d="M70.5 18.0h4.3v4.6h-4.3zM-2.6 22.6h12.9v4.6h-12.9zM18.9 22.6h4.3v4.6h-4.3zM27.5 22.6h8.6v4.6h-8.6zM40.4 22.6h21.5v4.6h-21.5zM70.5 22.6h4.3v4.6h-4.3zM10.3 27.2h4.3v4.6h-4.3zM70.5 27.2h4.3v4.6h-4.3zM10.3 31.8h4.3v4.6h-4.3zM70.5 31.8h4.3v4.6h-4.3zM6.0 36.4h4.3v4.6h-4.3zM61.9 36.4h4.3v4.6h-4.3zM-2.6 41.0h8.6v4.6h-8.6zM14.6 41.0h4.3v4.6h-4.3zM14.6 45.6h4.3v4.6h-4.3zM10.3 50.2h4.3v4.6h-4.3zM57.6 50.2h4.3v4.6h-4.3zM10.3 54.8h4.3v4.6h-4.3zM61.9 54.8h4.3v4.6h-4.3zM18.9 59.4h8.6v4.6h-8.6zM53.3 59.4h8.6v4.6h-8.6zM27.5 64.0h4.3v4.6h-4.3zM44.7 64.0h4.3v4.6h-4.3zM23.2 68.6h4.3v4.6h-4.3zM31.8 68.6h4.3v4.6h-4.3zM44.7 68.6h4.3v4.6h-4.3zM40.4 73.2h12.9v4.6h-12.9zM27.5 77.8h4.3v4.6h-4.3zM36.1 77.8h4.3v4.6h-4.3zM44.7 77.8h4.3v4.6h-4.3zM18.9 82.4h8.6v4.6h-8.6zM36.1 82.4h8.6v4.6h-8.6z"/><path fill="#ffa800" d="M10.3 22.6h8.6v4.6h-8.6zM18.9 27.2h4.3v4.6h-4.3zM27.5 27.2h8.6v4.6h-8.6zM49.0 27.2h4.3v4.6h-4.3zM57.6 27.2h4.3v4.6h-4.3zM14.6 31.8h4.3v4.6h-4.3zM27.5 31.8h8.6v4.6h-8.6zM49.0 31.8h4.3v4.6h-4.3zM61.9 31.8h4.3v4.6h-4.3zM18.9 36.4h4.3v4.6h-4.3zM49.0 36.4h4.3v4.6h-4.3zM57.6 36.4h4.3v4.6h-4.3zM53.3 41.0h12.9v4.6h-12.9zM18.9 45.6h4.3v4.6h-4.3zM44.7 45.6h4.3v4.6h-4.3zM53.3 45.6h4.3v4.6h-4.3zM61.9 45.6h4.3v4.6h-4.3zM14.6 50.2h8.6v4.6h-8.6zM18.9 54.8h4.3v4.6h-4.3zM27.5 54.8h4.3v4.6h-4.3zM36.1 54.8h4.3v4.6h-4.3zM31.8 59.4h4.3v4.6h-4.3zM44.7 59.4h8.6v4.6h-8.6zM40.4 64.0h4.3v4.6h-4.3zM49.0 68.6h4.3v4.6h-4.3zM27.5 82.4h8.6v4.6h-8.6z"/><path fill="#fff000" d="M23.2 22.6h4.3v4.6h-4.3zM36.1 22.6h4.3v4.6h-4.3zM14.6 27.2h4.3v4.6h-4.3zM23.2 27.2h4.3v4.6h-4.3zM53.3 27.2h4.3v4.6h-4.3zM18.9 31.8h4.3v4.6h-4.3zM53.3 31.8h8.6v4.6h-8.6zM10.3 36.4h8.6v4.6h-8.6zM23.2 36.4h8.6v4.6h-8.6zM18.9 41.0h4.3v4.6h-4.3zM44.7 50.2h4.3v4.6h-4.3zM53.3 50.2h4.3v4.6h-4.3zM14.6 54.8h4.3v4.6h-4.3zM53.3 54.8h8.6v4.6h-8.6zM36.1 59.4h4.3v4.6h-4.3zM23.2 64.0h4.3v4.6h-4.3zM31.8 64.0h4.3v4.6h-4.3zM49.0 64.0h4.3v4.6h-4.3zM40.4 68.6h4.3v4.6h-4.3zM40.4 77.8h4.3v4.6h-4.3z"/><path fill="#ff2000" d="M36.1 27.2h12.9v4.6h-12.9zM23.2 31.8h4.3v4.6h-4.3zM36.1 31.8h4.3v4.6h-4.3zM44.7 31.8h4.3v4.6h-4.3zM36.1 36.4h12.9v4.6h-12.9zM31.8 41.0h21.5v4.6h-21.5zM31.8 45.6h12.9v4.6h-12.9zM49.0 45.6h4.3v4.6h-4.3zM31.8 50.2h12.9v4.6h-12.9zM49.0 50.2h4.3v4.6h-4.3zM40.4 54.8h12.9v4.6h-12.9zM40.4 59.4h4.3v4.6h-4.3z"/><path fill="#000090" d="M74.8 45.6h4.3v4.6h-4.3zM1.7 82.4h4.3v4.6h-4.3z"/></g><g><rect x="41.15" y="31.70" width="4.00" height="4.00" fill="#f02000" stroke="#000" stroke-width="1.7"/></g></svg>
<svg class="p" style="left:74.2px;top:229.2px" width="706.8" height="93.8" viewBox="74.2 229.2 706.8 93.8" fill="none"><line x1="166.4" y1="233.2" x2="166.4" y2="319.0" stroke="#fff" stroke-width="3.2" opacity="0.85"/><line x1="254.2" y1="233.2" x2="254.2" y2="319.0" stroke="#fff" stroke-width="3.2" opacity="0.85"/><line x1="339.7" y1="233.2" x2="339.7" y2="319.0" stroke="#fff" stroke-width="3.2" opacity="0.85"/><line x1="428.5" y1="233.2" x2="428.5" y2="319.0" stroke="#fff" stroke-width="3.2" opacity="0.85"/><line x1="515.0" y1="233.2" x2="515.0" y2="319.0" stroke="#fff" stroke-width="3.2" opacity="0.85"/><line x1="601.4" y1="233.2" x2="601.4" y2="319.0" stroke="#fff" stroke-width="3.2" opacity="0.85"/><line x1="688.8" y1="233.2" x2="688.8" y2="319.0" stroke="#fff" stroke-width="3.2" opacity="0.85"/><line x1="166.4" y1="233.2" x2="166.4" y2="319.0" stroke="#000" stroke-width="1.8"/><line x1="254.2" y1="233.2" x2="254.2" y2="319.0" stroke="#000" stroke-width="1.8"/><line x1="339.7" y1="233.2" x2="339.7" y2="319.0" stroke="#000" stroke-width="1.8"/><line x1="428.5" y1="233.2" x2="428.5" y2="319.0" stroke="#000" stroke-width="1.8"/><line x1="515.0" y1="233.2" x2="515.0" y2="319.0" stroke="#000" stroke-width="1.8"/><line x1="601.4" y1="233.2" x2="601.4" y2="319.0" stroke="#000" stroke-width="1.8"/><line x1="688.8" y1="233.2" x2="688.8" y2="319.0" stroke="#000" stroke-width="1.8"/><path d="M80.2 232.6V319.0H775.0V232.6" stroke="#000" stroke-width="1.8" stroke-linejoin="miter"/><line x1="80.2" y1="233.2" x2="775.0" y2="233.2" stroke="#000" stroke-width="1.2"/><line x1="80.2" y1="274.7" x2="82.4" y2="274.7" stroke="#000" stroke-width="1"/><line x1="80.2" y1="314.9" x2="82.4" y2="314.9" stroke="#000" stroke-width="1"/><line x1="151.2" y1="233.2" x2="151.2" y2="236.7" stroke="#000" stroke-width="1"/><line x1="163.9" y1="274.7" x2="168.6" y2="274.7" stroke="#000" stroke-width="1"/><line x1="163.9" y1="314.9" x2="168.6" y2="314.9" stroke="#000" stroke-width="1"/><line x1="237.4" y1="233.2" x2="237.4" y2="236.7" stroke="#000" stroke-width="1"/><line x1="251.7" y1="274.7" x2="256.4" y2="274.7" stroke="#000" stroke-width="1"/><line x1="251.7" y1="314.9" x2="256.4" y2="314.9" stroke="#000" stroke-width="1"/><line x1="325.2" y1="233.2" x2="325.2" y2="236.7" stroke="#000" stroke-width="1"/><line x1="337.2" y1="274.7" x2="341.9" y2="274.7" stroke="#000" stroke-width="1"/><line x1="337.2" y1="314.9" x2="341.9" y2="314.9" stroke="#000" stroke-width="1"/><line x1="410.7" y1="233.2" x2="410.7" y2="236.7" stroke="#000" stroke-width="1"/><line x1="426.0" y1="274.7" x2="430.7" y2="274.7" stroke="#000" stroke-width="1"/><line x1="426.0" y1="314.9" x2="430.7" y2="314.9" stroke="#000" stroke-width="1"/><line x1="499.5" y1="233.2" x2="499.5" y2="236.7" stroke="#000" stroke-width="1"/><line x1="512.5" y1="274.7" x2="517.2" y2="274.7" stroke="#000" stroke-width="1"/><line x1="512.5" y1="314.9" x2="517.2" y2="314.9" stroke="#000" stroke-width="1"/><line x1="586.0" y1="233.2" x2="586.0" y2="236.7" stroke="#000" stroke-width="1"/><line x1="598.9" y1="274.7" x2="603.6" y2="274.7" stroke="#000" stroke-width="1"/><line x1="598.9" y1="314.9" x2="603.6" y2="314.9" stroke="#000" stroke-width="1"/><line x1="672.4" y1="233.2" x2="672.4" y2="236.7" stroke="#000" stroke-width="1"/><line x1="686.3" y1="274.7" x2="691.0" y2="274.7" stroke="#000" stroke-width="1"/><line x1="686.3" y1="314.9" x2="691.0" y2="314.9" stroke="#000" stroke-width="1"/><line x1="759.8" y1="233.2" x2="759.8" y2="236.7" stroke="#000" stroke-width="1"/><line x1="772.5" y1="274.7" x2="775.0" y2="274.7" stroke="#000" stroke-width="1"/><line x1="772.5" y1="314.9" x2="775.0" y2="314.9" stroke="#000" stroke-width="1"/></svg>
<div class="t b" style="left:6px;top:-5.5px;font-size:16px;">a</div>
<div class="t b" style="left:2px;top:21.2px;font-size:15px;">MLat</div>
<div class="t " style="left:51.7px;top:21px;">90°</div>
<div class="t " style="left:51.7px;top:59.3px;">45°</div>
<div class="t " style="left:55px;top:102px;">0°</div>
<div class="t b" style="left:112px;top:4.3px;font-size:12px;">100°</div>
<div class="t b" style="left:417.5px;top:141px;font-size:16px;">MLT</div>
<div class="t " style="left:79.5px;top:115px;">0</div>
<div class="t " style="left:163.0px;top:115px;">3</div>
<div class="t " style="left:249.5px;top:115px;">6</div>
<div class="t " style="left:338.5px;top:115px;">9</div>
<div class="t " style="left:422.5px;top:115px;">12</div>
<div class="t " style="left:508.0px;top:115px;">15</div>
<div class="t " style="left:595.0px;top:115px;">18</div>
<div class="t " style="left:683.5px;top:115px;">21</div>
<div class="t " style="left:768.5px;top:115px;">24</div>
<div class="t b" style="left:85.5px;top:145px;font-size:15.5px;">Intensity dBT</div>
<div class="t " style="left:65.5px;top:178.3px;">-290</div>
<div class="t " style="left:106.5px;top:179.3px;">-282</div>
<div class="t " style="left:151px;top:179.3px;">-275</div>
<div class="t " style="left:198.5px;top:179.3px;">-267</div>
<div class="t " style="left:242px;top:179.3px;">-260</div>
<div class="cb" style="left:81.5px;top:165.3px;width:173.5px;height:11.1px"></div>
<div class="tk" style="left:125.2px;top:165.3px;width:1px;height:1.5px;opacity:.6"></div>
<div class="tk" style="left:125.2px;top:174.9px;width:1px;height:1.5px;opacity:.6"></div>
<div class="tk" style="left:167.8px;top:165.3px;width:1px;height:1.5px;opacity:.6"></div>
<div class="tk" style="left:167.8px;top:174.9px;width:1px;height:1.5px;opacity:.6"></div>
<div class="tk" style="left:210.3px;top:165.3px;width:1px;height:1.5px;opacity:.6"></div>
<div class="tk" style="left:210.3px;top:174.9px;width:1px;height:1.5px;opacity:.6"></div>
<div class="t b" style="left:4px;top:209px;font-size:16px;">b</div>
<div class="t b" style="left:1px;top:235.6px;font-size:15px;">MLat</div>
<div class="t " style="left:50px;top:235.2px;">90°</div>
<div class="t " style="left:51px;top:270.8px;">45°</div>
<div class="t " style="left:55px;top:312.2px;">0°</div>
<div class="t b" style="left:112px;top:213.3px;font-size:11.5px;">100°</div>
<div class="t b" style="left:417.5px;top:353.5px;font-size:16px;">MLT</div>
<div class="t " style="left:79.5px;top:327.2px;">0</div>
<div class="t " style="left:163.0px;top:327.2px;">3</div>
<div class="t " style="left:249.5px;top:327.2px;">6</div>
<div class="t " style="left:338.5px;top:327.2px;">9</div>
<div class="t " style="left:422.5px;top:327.2px;">12</div>
<div class="t " style="left:508.0px;top:327.2px;">15</div>
<div class="t " style="left:595.0px;top:327.2px;">18</div>
<div class="t " style="left:683.5px;top:327.2px;">21</div>
<div class="t " style="left:768.5px;top:327.2px;">24</div>
<div class="t b" style="left:85.5px;top:357.4px;font-size:15.5px;">Intensity dBV/m</div>
<div class="t " style="left:65.5px;top:389.4px;">-150</div>
<div class="t " style="left:105.5px;top:389.4px;">-140</div>
<div class="t " style="left:150.5px;top:389.4px;">-130</div>
<div class="t " style="left:198px;top:388.4px;">-120</div>
<div class="t " style="left:240px;top:389.4px;">-110</div>
<div class="cb" style="left:81.3px;top:375px;width:173.6px;height:11.3px"></div>
<div class="tk" style="left:125.1px;top:375px;width:1px;height:1.5px;opacity:.6"></div>
<div class="tk" style="left:125.1px;top:384.8px;width:1px;height:1.5px;opacity:.6"></div>
<div class="tk" style="left:167.6px;top:375px;width:1px;height:1.5px;opacity:.6"></div>
<div class="tk" style="left:167.6px;top:384.8px;width:1px;height:1.5px;opacity:.6"></div>
<div class="tk" style="left:210.1px;top:375px;width:1px;height:1.5px;opacity:.6"></div>
<div class="tk" style="left:210.1px;top:384.8px;width:1px;height:1.5px;opacity:.6"></div>
<svg class="p" style="left:78px;top:8px" width="92" height="12" viewBox="0 0 92 12"><g stroke="#f41c00" stroke-width="2.1" fill="#f41c00"><line x1="7" y1="6" x2="24.3" y2="6"/><path d="M1.2 6L8.8 2.3V9.7Z" stroke="none"/><line x1="66" y1="6" x2="82" y2="6"/><path d="M87.8 6L80.2 2.3V9.7Z" stroke="none"/></g></svg>
<svg class="p" style="left:78px;top:216.7px" width="92" height="12" viewBox="0 0 92 12"><g stroke="#f41c00" stroke-width="2.1" fill="#f41c00"><line x1="7" y1="6" x2="24.3" y2="6"/><path d="M1.2 6L8.8 2.3V9.7Z" stroke="none"/><line x1="66" y1="6" x2="82" y2="6"/><path d="M87.8 6L80.2 2.3V9.7Z" stroke="none"/></g></svg>
</body></html>
